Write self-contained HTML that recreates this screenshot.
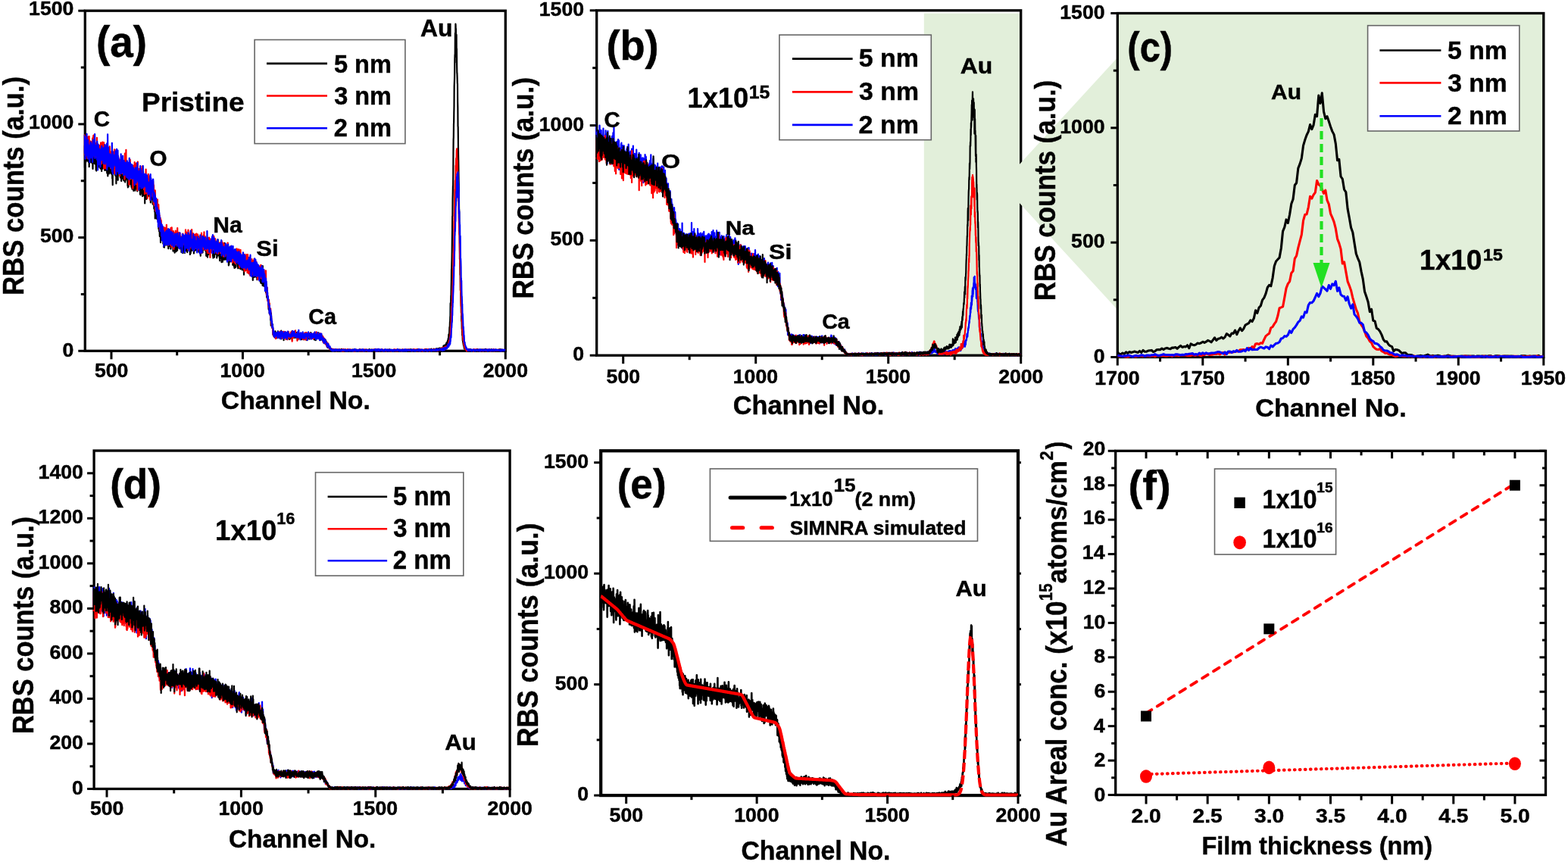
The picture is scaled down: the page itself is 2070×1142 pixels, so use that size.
<!DOCTYPE html>
<html><head><meta charset="utf-8"><title>RBS spectra figure</title>
<style>html,body{margin:0;padding:0;background:#fff;}svg{display:block;}text{stroke:#000;stroke-width:0.45px;}</style>
</head><body>
<svg width="2070" height="1142" viewBox="0 0 2070 1142" font-family="'Liberation Sans', Arial, sans-serif" font-weight="bold" stroke-width="0"><clipPath id="ca"><rect x="110.8" y="13.2" width="556.5" height="452.6"/></clipPath>
<rect x="112.3" y="14.2" width="555.00" height="449.10" fill="none" stroke="#000" stroke-width="3.3"/>
<g clip-path="url(#ca)">
<path transform="matrix(0.17344 0 0 0.299400 -26.450 463.300)" d="M760 -883l1-7 1 15 1 17 1-12 1 15 1-28 1-34 1 49 1 4 1-30 1 4 1 7 1 28 1-24 1-19 1 55 1-24 1 39 1-16 1 15 1-43 1 28 1-41 1 4 1 9 1 62 1-52 1-13 1-4 1 44 1-28 1 14 1-4 1-50 1 50 1-20 1-25 1 40 1-13 1-5 1 1 1 35 1-34 1-34 1 77 1-63 1 19 1 21 1-70 1 33 1 53 1-34 1-13 1 21 1-23 1 20 1-19 1-21 1 57 1-23 1 18 1-16 1 35 1-15 1-10 1-29 1-6 1 65 1-13 1-38 1 70 1-40 1-10 1-35 1 15 1 27 1 2 1-3 1-47 1 52 1-3 1-17 1 13 1 2 1 25 1-29 1 11 1-42 1 14 1 18 1-18 1 27 1-36 1 28 1-16 1 50 1-43 1 54 1 10 1-46 1 16 1-28 1-54 1 81 1-5 1-22 1-7 1 18 1 1 1-24 1 6 1 41 1-25 1-3 1 29 1-34 1 29 1-47 1 20 1 3 1 19 1-13 1 50 1-22 1-39 1 65 1-78 1 69 1-66 1 43 1-43 1 18 1 44 1-73 1-5 1 40 1 6 1-3 1 21 1-54 1 44 1-13 1 20 1-4 1 17 1-66 1 37 1-29 1 25 1 19 1-9 1 6 1-14 1 10 1-2 1 29 1-15 1-64 1 61 1 10 1-36 1-27 1 75 1-33 1 12 1 29 1-64 1 20 1-3 1 22 1-31 1 26 1-10 1 25 1 4 1-67 1 49 1-21 1 9 1 11 1 2 1-30 1 25 1-4 1-4 1-30 1 14 1 8 1 24 1 22 1-60 1 0 1 29 1-18 1-6 1-1 1-2 1 36 1-51 1 72 1-54 1 10 1-10 1-26 1 11 1 68 1 14 1-64 1 48 1-26 1-22 1 65 1 12 1-61 1 6 1 8 1-8 1 24 1 17 1-34 1 21 1 17 1-55 1 15 1-12 1 36 1-8 1 9 1-2 1-28 1 26 1-30 1 1 1-43 1 88 1-58 1 25 1-1 1 37 1-25 1-31 1 22 1-4 1 9 1-36 1 30 1 56 1-38 1 33 1 33 1-69 1-48 1 34 1 31 1-5 1-53 1 25 1 4 1 2 1-1 1-20 1 7 1 9 1 33 1-40 1 31 1-45 1 61 1-28 1-3 1 34 1-78 1 7 1 50 1-31 1 10 1 77 1-73 1 9 1-4 1 30 1-20 1-2 1-34 1 22 1 9 1-39 1 54 1-4 1 37 1-86 1 16 1 1 1 7 1 14 1-2 1 12 1 0 1-7 1-36 1 25 1 16 1 13 1 2 1-56 1 28 1 11 1 11 1 20 1-26 1-24 1 33 1-4 1 0 1-8 1 44 1-34 1 16 1-44 1 43 1-34 1-24 1 47 1 8 1-20 1 6 1 25 1-36 1-39 1 58 1-1 1 21 1-34 1 40 1-3 1-60 1 56 1-50 1-11 1 32 1-7 1-34 1 54 1 10 1 20 1-35 1-35 1 13 1 48 1-2 1-8 1-20 1 13 1-10 1-2 1 16 1-6 1-6 1 8 1-15 1-34 1 33 1 14 1 44 1-52 1 59 1-13 1-56 1 4 1 21 1 40 1-33 1 8 1-33 1-40 1 52 1 25 1 10 1-27 1 3 1 25 1-31 1 31 1-55 1 1 1 0 1 39 1-24 1 17 1 6 1-1 1 25 1 4 1-56 1 25 1-9 1-19 1 68 1-23 1-24 1-5 1 20 1-35 1 21 1 36 1-7 1-43 1 9 1 59 1-80 1 19 1-18 1 43 1-2 1 21 1-90 1 68 1-43 1 55 1-20 1 46 1-31 1-34 1 56 1-57 1 18 1 35 1-13 1-1 1-9 1 12 1 7 1-12 1 18 1 7 1-30 1-23 1 60 1-37 1 16 1 9 1-45 1 34 1-49 1 56 1-28 1 16 1 13 1-33 1 19 1-18 1 16 1 26 1-24 1-3 1-22 1 46 1-21 1 42 1-58 1 43 1 18 1-42 1-28 1 64 1-10 1-8 1 10 1-37 1 30 1-2 1-31 1 33 1-29 1 35 1 6 1 15 1-89 1 53 1-13 1 7 1-4 1 3 1-45 1 72 1 13 1-13 1 8 1-50 1-1 1 44 1 10 1-24 1-42 1 102 1-80 1 39 1-51 1 51 1-18 1 30 1-13 1-56 1 14 1 29 1 12 1 25 1-36 1-8 1 2 1 0 1 26 1-25 1-1 1-31 1-14 1 49 1 15 1-16 1 13 1 4 1-16 1 24 1-40 1 18 1-8 1 10 1 14 1 5 1-16 1 7 1-18 1 6 1 33 1-34 1 34 1-17 1-7 1 42 1-51 1-1 1 8 1 7 1-1 1 15 1-16 1 7 1-14 1 32 1-33 1 4 1 8 1 9 1-21 1 54 1-48 1 8 1 1 1 0 1 27 1-7 1-18 1 7 1 8 1 42 1-45 1-12 1 7 1 20 1 44 1-55 1 27 1 57 1-64 1 45 1-2 1-12 1-41 1 40 1-12 1-30 1 6 1 40 1 6 1 25 1-10 1-23 1 4 1 9 1-17 1 41 1-13 1-15 1 6 1-8 1 17 1 18 1-12 1 32 1 16 1-45 1 16 1-5 1 45 1-26 1 8 1 8 1 32 1-38 1-24 1 14 1 23 1-10 1-14 1 76 1-52 1-12 1 0 1-18 1 14 1 19 1 3 1-7 1 29 1-7 1-17 1-19 1 45 1 0 1-3 1-21 1 29 1-28 1 50 1-14 1 1 1-19 1-4 1 51 1-11 1-25 1 20 1 18 1-51 1 11 1 0 1 19 1-29 1 25 1-26 1 40 1-2 1-20 1 18 1-28 1 9 1 23 1-19 1 8 1-25 1 31 1-4 1-32 1-21 1 5 1 39 1-3 1-26 1 33 1 17 1-22 1-6 1 25 1 16 1-4 1-41 1 28 1-12 1-7 1-8 1 19 1-16 1 27 1-10 1 13 1-42 1 23 1 14 1-8 1-2 1-18 1 45 1-11 1-13 1-57 1 31 1 21 1-16 1-26 1 45 1 3 1-31 1 14 1-3 1 23 1-48 1 4 1 23 1-2 1 53 1-52 1 17 1-13 1-5 1 21 1 26 1-40 1 22 1-8 1 5 1-5 1 39 1-69 1 19 1-17 1-17 1 39 1 36 1-18 1 6 1-13 1-12 1 41 1-46 1 37 1-36 1 8 1 5 1-5 1 9 1 2 1 21 1-33 1-36 1-3 1 13 1 12 1 28 1-42 1 30 1 0 1 5 1-8 1 11 1-7 1 20 1-14 1-52 1 46 1 3 1-15 1-3 1 36 1-18 1-22 1 13 1 3 1-28 1 44 1-15 1 12 1-39 1 67 1-25 1-2 1-24 1 2 1-16 1 58 1-45 1 21 1 7 1-24 1 29 1 23 1-33 1 22 1-17 1-20 1 2 1-25 1 35 1 26 1-15 1 3 1 6 1-32 1 21 1 26 1-52 1 16 1-9 1 5 1-10 1 12 1-24 1 16 1 1 1 0 1 36 1-25 1 2 1-9 1 31 1-59 1 30 1 26 1 10 1-28 1-3 1 12 1-16 1 15 1-23 1 24 1-13 1-19 1-31 1 69 1-10 1 7 1-31 1 38 1-13 1-9 1 19 1-1 1-9 1 32 1-13 1-20 1-11 1 7 1 31 1-26 1-24 1 5 1 12 1 16 1-30 1 24 1 12 1-8 1-43 1 24 1-18 1 32 1-28 1 30 1-9 1-51 1 34 1 24 1-8 1-8 1-17 1 33 1 25 1-28 1-6 1-2 1-23 1 19 1-9 1 37 1-38 1-24 1 26 1 10 1 2 1-32 1 53 1-16 1-11 1-5 1 23 1-14 1 11 1-8 1 5 1 20 1-22 1-17 1 36 1-14 1-18 1 34 1-24 1 24 1-42 1-23 1 6 1 43 1-19 1 13 1 0 1-28 1 56 1-46 1 21 1-28 1 24 1 16 1-18 1-9 1 14 1-9 1 20 1 31 1-58 1 4 1 10 1 2 1-19 1 29 1 5 1-10 1-26 1 49 1-49 1 35 1 9 1-45 1 26 1 23 1-18 1-25 1-5 1 32 1-16 1-6 1 26 1-19 1 7 1 10 1-1 1-10 1 1 1 11 1-3 1-29 1 17 1-13 1-6 1 12 1-32 1 60 1-32 1 22 1-42 1 3 1 71 1-19 1-31 1-3 1 1 1 16 1-10 1-4 1 14 1-21 1 63 1-55 1 32 1-38 1 23 1 12 1-24 1 25 1 0 1 13 1-30 1-10 1-10 1 23 1-23 1 20 1 2 1-13 1-9 1 27 1-2 1-1 1-5 1 19 1-37 1 28 1-17 1 25 1-23 1 0 1 15 1-46 1 31 1-27 1 16 1 31 1-5 1-16 1 8 1 0 1 6 1 30 1-31 1 39 1-50 1 21 1 0 1-9 1-10 1 33 1 6 1-13 1 19 1-20 1-49 1 51 1-33 1 39 1-32 1 12 1-5 1-11 1-23 1 30 1 2 1 21 1-29 1 16 1-20 1 17 1-34 1 71 1-32 1-22 1 24 1 9 1-10 1 22 1-28 1-44 1 25 1 43 1-4 1-9 1-26 1 35 1-3 1-29 1 1 1 23 1 15 1 8 1-16 1 30 1-56 1 26 1-21 1-25 1 13 1 44 1-38 1-5 1 36 1 5 1-16 1 28 1-57 1 73 1-24 1-15 1-1 1-7 1-1 1 9 1-25 1 62 1-40 1 14 1-16 1-1 1 21 1-5 1-26 1 9 1 19 1-50 1-5 1 71 1-33 1-41 1 33 1 11 1 8 1 6 1-5 1 6 1-24 1 22 1 1 1 15 1-22 1 16 1-12 1-23 1 13 1-2 1 3 1 6 1 3 1 4 1-19 1 34 1-44 1 24 1 15 1-5 1 4 1-15 1 17 1-34 1 35 1 28 1-28 1 24 1-36 1-20 1 8 1 37 1-11 1-46 1 27 1 6 1-19 1-25 1 22 1 21 1-3 1-5 1 23 1 8 1-20 1 19 1-16 1-2 1-41 1 58 1-13 1 2 1-11 1-11 1 29 1 6 1 15 1-13 1-26 1 9 1 20 1-11 1-7 1-8 1 20 1-6 1 29 1-12 1-50 1 69 1-33 1-10 1 12 1 8 1-13 1-1 1 2 1 32 1-31 1 14 1-6 1-13 1-7 1-5 1 26 1-25 1-4 1 1 1-5 1 28 1 1 1-17 1 39 1-28 1 14 1-3 1 25 1-15 1-15 1-16 1-1 1 19 1 2 1 12 1-21 1 12 1-15 1-20 1 32 1 26 1-11 1 11 1-4 1-44 1 19 1 32 1-39 1-10 1 29 1 6 1-6 1-10 1-6 1-10 1 0 1 1 1-3 1 13 1 39 1-24 1-8 1 13 1-23 1 23 1 10 1-41 1 14 1 8 1-12 1-2 1 13 1 50 1-31 1-4 1 10 1-21 1-17 1 30 1 12 1-55 1 44 1 14 1-26 1-3 1 20 1-25 1 22 1 8 1-19 1-10 1 25 1-16 1 7 1-50 1 62 1-36 1 25 1 2 1-15 1-2 1-6 1 16 1 17 1-1 1-18 1-1 1-14 1 18 1-11 1-7 1 23 1 29 1-5 1 5 1-52 1 42 1-35 1 11 1-19 1 13 1 19 1 2 1-4 1-2 1 13 1-8 1-28 1 57 1-33 1 20 1-18 1-11 1 16 1-14 1 40 1-45 1 29 1-20 1 8 1 47 1-31 1-16 1-22 1 21 1 1 1 29 1-48 1-6 1 31 1 4 1 24 1-42 1-30 1 34 1-9 1 12 1 26 1-38 1 43 1-17 1-7 1-10 1 8 1 1 1 19 1 10 1-23 1 14 1 10 1 0 1-13 1 23 1-8 1 5 1-30 1-3 1-27 1 59 1-13 1-26 1 19 1 2 1-34 1 35 1 14 1 3 1-27 1 0 1 29 1-6 1-25 1-1 1 21 1-21 1 1 1 40 1-24 1-12 1 17 1 26 1-30 1-17 1-13 1 62 1-78 1 61 1-33 1-4 1 4 1 14 1 22 1-29 1 23 1 30 1-87 1 35 1-18 1 45 1-38 1-1 1 1 1 27 1 20 1-15 1 34 1-7 1-27 1 20 1-11 1 2 1-30 1 13 1 25 1-17 1 35 1-4 1-16 1 37 1-11 1 19 1-18 1-19 1 39 1-11 1 20 1 7 1 4 1-34 1-9 1 30 1 20 1-16 1 18 1-12 1 10 1 4 1-1 1 19 1 2 1 20 1-13 1 16 1-13 1 14 1-10 1 0 1 26 1-4 1 5 1-16 1-8 1 14 1 17 1-17 1 37 1-30 1 27 1 27 1-55 1 15 1 31 1-9 1 8 1 0 1 19 1-4 1-8 1 6 1-5 1 14 1-17 1 30 1-5 1 21 1-3 1-18 1 21 1-10 1 7 1 9 1-4 1 2 1 1 1-9 1 2 1 9 1 3 1-9 1 3 1-8 1-12 1 13 1 7 1 1 1 5 1 0 1 1 1-4 1 0 1-9 1 9 1-2 1 8 1-21 1 8 1-9 1 7 1-5 1 13 1-7 1-15 1 29 1-18 1-4 1 10 1-3 1-4 1 15 1-8 1 9 1-1 1 0 1-4 1-2 1-2 1 14 1-26 1 6 1 4 1 8 1-2 1-5 1 1 1 16 1-19 1-16 1 36 1-21 1 4 1 4 1-11 1 19 1-10 1-10 1 13 1 1 1-4 1 5 1-15 1 18 1-13 1 16 1-15 1 6 1 19 1-20 1 8 1-4 1-15 1 20 1-1 1-18 1 10 1-11 1 9 1 9 1-6 1-10 1 2 1 7 1 0 1 1 1 4 1-19 1 14 1 9 1-5 1-9 1 1 1 6 1 4 1-6 1 13 1-3 1-15 1 9 1-6 1-7 1 5 1 5 1-16 1 11 1 7 1-8 1 3 1 9 1-7 1 2 1 14 1-14 1 1 1 1 1 9 1-9 1-3 1-1 1 9 1-13 1 14 1-7 1-12 1 15 1-1 1-12 1 11 1-1 1-4 1-6 1 25 1-11 1 2 1 0 1-2 1 0 1-8 1 9 1-8 1-2 1 9 1-7 1-11 1 10 1 7 1-4 1 6 1-9 1-4 1 12 1-4 1-10 1 12 1-5 1 9 1-2 1-2 1-20 1 19 1 1 1 0 1-2 1-6 1 3 1-14 1 14 1-9 1 8 1-2 1 15 1-10 1 0 1 1 1 14 1-22 1 9 1 1 1-2 1 0 1-4 1 12 1-3 1-9 1 2 1 3 1 2 1 2 1-6 1-9 1 16 1-18 1 5 1 9 1-9 1 16 1 2 1-3 1-6 1-1 1 2 1-5 1 16 1-19 1 14 1-5 1-2 1 5 1 2 1-3 1-7 1-4 1 0 1 11 1-1 1 1 1-10 1 18 1-24 1 13 1 2 1-8 1-5 1 5 1-6 1 7 1-8 1 0 1 10 1-11 1 9 1 1 1 7 1-5 1-7 1 15 1-15 1 3 1 0 1 18 1-15 1-5 1 10 1-6 1 18 1-23 1 10 1-11 1 20 1-19 1 7 1-7 1 12 1-2 1-21 1 22 1 0 1-4 1 6 1-16 1-4 1 18 1 7 1-21 1 1 1 2 1-3 1 15 1-5 1 9 1 0 1-17 1 11 1-21 1 16 1 5 1-10 1-7 1 9 1 12 1-11 1-7 1 13 1 2 1-13 1 7 1 9 1-5 1 2 1-7 1 1 1-7 1 3 1 16 1-14 1-4 1 4 1-5 1 12 1 3 1-14 1 15 1 7 1-22 1 12 1-3 1 8 1 0 1-2 1-5 1-6 1 20 1-22 1 14 1-1 1-13 1 6 1 10 1-24 1 19 1-8 1 1 1-9 1 13 1-10 1 13 1-14 1 14 1-3 1-16 1 11 1 2 1-16 1 14 1 8 1-11 1 14 1-16 1-1 1 13 1 1 1-6 1 2 1 7 1-11 1 19 1-11 1 0 1-1 1-4 1 11 1-12 1 5 1 4 1 5 1-1 1-10 1 10 1-7 1-6 1 1 1-3 1 14 1 5 1-13 1 6 1-5 1 8 1-7 1 3 1 2 1 2 1 2 1 1 1 1 1-4 1 10 1-12 1 11 1-5 1 7 1 1 1-12 1 14 1 6 1-2 1-2 1-12 1 11 1-3 1 11 1-6 1-1 1-5 1 13 1-6 1 3 1 7 1-4 1 2 1 10 1-13 1 1 1 5 1 5 1-11 1 6 1-3 1 0 1 8 1-4 1 4 1 1 1 0 1 1 1-3 1 4 1 2 1 1 1-1 1 4 1-1 1 0 1 2 1-1 1 2 1-5 1 2 1 2 1 2 1-4 1 4 1 1 1-1 1 0 1-2 1 3 1-4 1 6 1-3 1 3 1-5 1 4 1-1 1-1 1-1 1 4 1-1 1 2 1-3 1 0 1 1 1 0 1 0 1 1 1-3 1-1 1 6 1-3 1 0 1-1 1 2 1-1 1 1 1-3 1 1 1 1 1-1 1 1 1 2 1-4 1 1 1 1 1-2 1-1 1 4 1 0 1-4 1 0 1 4 1 1 1-1 1-1 1 2 1-2 1 2 1 0 1-4 1 3 1-1 1-1 1-1 1 2 1 0 1 1 1-4 1 2 1 2 1-1 1-1 1 0 1-2 1 0 1 4 1-1 1 2 1-3 1 0 1-4 1 5 1 3 1-2 1-1 1 2 1-1 1-1 1-1 1 1 1 1 1-2 1 2 1 0 1 1 1-1 1-2 1 3 1-2 1-1 1 1 1 0 1 2 1-4 1 0 1 2 1 3 1-1 1-4 1-1 1 3 1-2 1 3 1-1 1 0 1-1 1 3 1-3 1-1 1 4 1 0 1-2 1 1 1 2 1-4 1 1 1 1 1-4 1 3 1 1 1-1 1 2 1-1 1-1 1 1 1 0 1-3 1 1 1 0 1 0 1 0 1-1 1 2 1-3 1 5 1-2 1 2 1-1 1-2 1-1 1 3 1-1 1 1 1 0 1 1 1-2 1 3 1-3 1 0 1 1 1 1 1 0 1-5 1 5 1-4 1 1 1 2 1 1 1-3 1-2 1 5 1-1 1-3 1 2 1-3 1 4 1-2 1 3 1-5 1 4 1 2 1-3 1 0 1-3 1 4 1-1 1-1 1-1 1 2 1-1 1 0 1 2 1-1 1 0 1 2 1-4 1 4 1-4 1 1 1 1 1 1 1-1 1-1 1 0 1 1 1-1 1 2 1-1 1 3 1-4 1 1 1 1 1-3 1 1 1 4 1-3 1 2 1-4 1-2 1 5 1-1 1 0 1 0 1-1 1-1 1 4 1-4 1 4 1-2 1-2 1 1 1 3 1-1 1 0 1-1 1-2 1 4 1-3 1 0 1 0 1 0 1-1 1 1 1 0 1 0 1-2 1 6 1-5 1 3 1 0 1 1 1 1 1-2 1 0 1-2 1 3 1-4 1 2 1 0 1 1 1 0 1 1 1-1 1-1 1 0 1 2 1-1 1 0 1-1 1-3 1 2 1 2 1 2 1-1 1 1 1-4 1 2 1-1 1 1 1-1 1-2 1 3 1 0 1 0 1-2 1 3 1 0 1 0 1 0 1-3 1-3 1 6 1-3 1 1 1 2 1-1 1-1 1 1 1-4 1 6 1-3 1 0 1 1 1-1 1-1 1 1 1-1 1 0 1 4 1-5 1-1 1 2 1 0 1 3 1-2 1 1 1 0 1-2 1 2 1-1 1 3 1-3 1 0 1 1 1 0 1-4 1 5 1 0 1-1 1-3 1-1 1 3 1 1 1 0 1-3 1 4 1-4 1 0 1 2 1-1 1 0 1-1 1 4 1-4 1 3 1 0 1-1 1 0 1 2 1 1 1-1 1-4 1-1 1 2 1-1 1 3 1-1 1 0 1 2 1 0 1-2 1 1 1 1 1-2 1 1 1-2 1 1 1 1 1-1 1 0 1 1 1 0 1-2 1 0 1-1 1 5 1-2 1 0 1-1 1 1 1 0 1-2 1 1 1 2 1-4 1 1 1 2 1-2 1 2 1-3 1 2 1 1 1 0 1 0 1-1 1 0 1 0 1 1 1 2 1-3 1 3 1-3 1-2 1 2 1 1 1-1 1 0 1 1 1 0 1 1 1-4 1 2 1-1 1 1 1 0 1 0 1-1 1 0 1 1 1 1 1 0 1-3 1 3 1 0 1-3 1 0 1 1 1 2 1-4 1 3 1-1 1 1 1 2 1 0 1-3 1 1 1 0 1 2 1 0 1-1 1 1 1-3 1-1 1-2 1 3 1 2 1 0 1 2 1-2 1-1 1-1 1 0 1 0 1 1 1-1 1-1 1 4 1-1 1 1 1-4 1 0 1 1 1 3 1-2 1 0 1 0 1 0 1-1 1 2 1-2 1 1 1 1 1-1 1 1 1-2 1 2 1-1 1 1 1 1 1-3 1 3 1-3 1 0 1 4 1-1 1-1 1 0 1 1 1-3 1 1 1 0 1 1 1-1 1 1 1-1 1-1 1 1 1 1 1 1 1-2 1 0 1 1 1 0 1-2 1-3 1 5 1-1 1 0 1 3 1-3 1 1 1-3 1 2 1 1 1-1 1 0 1 1 1-1 1 2 1-2 1-1 1-2 1 2 1 1 1-2 1 1 1-1 1 0 1 2 1 0 1 0 1 0 1 0 1 1 1 2 1-2 1 2 1-3 1 0 1 3 1-4 1 0 1 1 1-2 1-1 1 5 1-3 1 0 1 0 1 0 1 2 1 0 1 0 1 0 1-1 1 2 1 0 1-3 1 1 1 0 1 3 1-2 1 0 1-1 1 1 1-2 1 1 1 0 1 0 1-1 1 2 1-3 1 1 1 1 1 0 1-1 1 0 1 0 1 1 1-1 1 1 1-2 1 2 1 3 1-5 1 2 1 2 1-2 1 1 1-4 1 2 1 4 1-4 1 2 1-4 1 5 1 1 1-3 1 1 1 0 1 2 1-4 1-1 1 5 1-5 1 3 1-5 1 3 1 1 1-2 1 1 1 2 1-2 1 2 1 2 1-6 1 4 1 0 1-1 1 2 1 0 1-1 1 0 1-1 1-2 1 3 1-2 1 0 1 3 1-2 1 2 1-4 1 1 1 1 1 2 1-2 1 1 1-2 1 1 1 1 1-2 1 0 1 2 1-3 1 3 1 0 1-1 1 1 1 0 1-1 1-2 1 0 1 2 1-2 1 2 1-1 1 0 1 1 1-4 1 4 1 2 1-4 1 3 1 0 1 2 1-5 1 1 1 0 1 0 1-2 1 3 1-1 1 2 1 0 1-3 1 1 1 3 1-3 1 1 1 1 1-2 1 2 1 1 1 0 1-5 1 5 1-2 1-1 1 0 1 3 1-2 1 0 1-1 1 2 1 1 1-4 1 0 1 1 1 2 1-2 1 1 1-1 1 3 1-2 1 0 1 2 1-2 1 0 1 1 1-2 1 3 1-2 1-1 1 0 1-1 1 4 1 0 1-3 1 0 1-3 1 3 1 2 1-3 1 3 1 1 1-6 1 3 1 0 1 0 1-2 1 2 1-1 1 3 1 1 1-5 1 0 1 2 1 0 1 0 1 2 1-4 1 1 1 1 1 0 1-1 1 1 1-1 1 3 1-2 1-3 1 4 1 0 1-2 1 0 1 0 1 4 1-4 1 3 1 0 1-3 1 2 1-2 1-4 1 4 1 0 1 3 1-1 1 1 1-1 1 1 1-1 1-1 1 2 1 0 1 0 1-3 1 1 1-2 1 0 1 2 1-2 1 4 1-7 1 2 1 3 1 2 1-3 1 4 1-2 1-3 1 1 1 1 1-3 1 4 1-3 1 2 1 0 1-2 1 3 1-7 1 6 1-6 1 7 1-4 1 4 1 0 1-3 1-2 1 5 1-6 1 4 1-2 1-1 1 0 1 5 1-8 1 3 1 2 1 1 1 2 1-1 1-5 1 2 1 2 1-2 1-5 1 4 1 1 1-5 1 2 1 1 1 1 1 3 1-1 1-2 1-1 1-2 1-1 1 1 1 0 1 3 1 3 1-5 1 1 1-1 1-1 1 2 1 0 1-4 1-1 1 3 1-5 1 2 1 3 1-4 1-7 1 9 1-7 1-1 1-1 1 8 1-11 1 7 1 1 1-1 1-4 1 2 1 0 1-6 1 8 1 0 1-8 1 0 1-3 1 9 1-10 1 2 1-7 1 13 1-7 1 1 1 5 1-5 1-11 1 7 1 0 1-10 1-3 1-2 1 8 1-6 1-10 1 8 1-3 1-14 1-9 1 15 1 6 1-14 1-9 1-14 1-15 1-1 1-4 1-19 1 1 1-22 1-6 1-55 1 7 1 4 1-16 1-28 1-3 1-36 1-24 1-53 1-5 1-23 1-20 1-34 1-55 1-33 1-65 1 1 1-77 1-22 1-35 1 9 1-59 1-95 1-60 1-10 1-58 1-8 1-41 1-30 1-87 1-17 1-17 1-29 1-58 1-20 1 12 1-106 1 29 1-7 1-63 1 6 1 31 1-16 1 61 1-3 1 68 1-99 1 123 1-62 1 74 1 33 1 5 1 18 1 24 1 1 1 81 1 23 1 83 1 3 1 57 1 59 1 32 1 40 1 35 1 36 1 62 1 45 1 5 1 91 1 13 1-8 1 117 1-7 1 6 1 70 1-42 1 110 1-37 1 22 1 32 1 37 1 12 1 33 1-4 1 37 1 5 1 0 1 32 1 4 1 5 1 21 1-11 1 14 1 19 1-4 1 10 1 3 1 0 1 8 1-5 1 11 1-5 1 7 1-1 1 7 1 1 1 4 1-5 1 0 1-3 1 4 1 4 1 2 1-1 1 1 1-3 1 2 1 4 1 0 1-4 1 2 1 2 1-3 1 3 1 0 1 1 1 3 1-6 1 5 1-2 1 1 1-3 1 2 1 0 1 3 1-3 1 2 1-3 1 0 1 1 1-4 1 3 1 0 1 1 1 0 1-2 1 0 1 5 1-5 1 1 1 0 1 1 1 3 1-1 1-5 1 3 1 3 1-3 1 1 1 3 1 0 1-1 1-3 1 1 1 0 1-1 1 0 1 4 1-3 1 1 1 1 1-1 1-1 1 0 1 2 1-1 1-4 1 5 1 1 1-4 1 0 1 0 1 3 1-4 1 3 1 1 1-1 1-1 1-1 1 0 1 1 1-1 1 1 1-1 1 3 1 0 1-3 1 3 1-2 1 0 1 1 1 0 1-3 1 5 1-4 1-3 1 4 1 0 1-1 1-2 1 5 1-2 1 0 1-1 1 1 1-1 1 2 1-1 1 1 1 0 1-1 1 0 1 2 1-4 1 2 1 2 1-4 1 3 1-2 1 1 1 0 1 0 1 1 1-1 1-3 1 6 1-3 1-1 1 3 1 0 1-5 1 4 1-4 1 2 1 1 1-1 1 0 1-1 1 1 1 1 1 0 1-2 1 1 1 3 1-1 1-1 1 1 1 0 1 1 1-2 1-1 1 0 1 1 1-3 1 3 1-5 1 4 1 0 1 2 1 2 1-3 1 0 1-3 1 5 1-5 1 3 1-1 1 4 1-3 1 1 1-2 1 1 1 2 1-3 1 0 1 0 1 0 1-1 1 2 1 2 1 0 1-4 1 1 1 1 1 1 1-1 1 0 1 1 1 0 1-4 1 3 1 1 1 1 1-1 1-2 1 0 1 1 1 0 1 1 1 1 1-4 1 2 1-4 1 5 1-1 1-1 1 1 1 2 1 0 1-2 1 0 1 0 1-1 1 0 1 1 1 0 1 0 1-1 1 0 1 1 1-1 1 2 1 1 1 0 1-3 1 0 1-1 1 2 1-1 1-1 1 1 1 2 1-1 1 0 1 2 1-3 1 0 1 2 1-4 1 4 1-1 1 0 1 1 1-2 1 1 1-2 1 1 1 0 1 1 1 2 1-2 1 1 1-2 1 1 1-2 1 1 1 0 1 1 1 0 1-1 1 0 1 2 1-2 1-3 1 4 1 0 1 1 1 1 1-4 1 2 1 0 1-3 1-1 1 5 1-3 1 1 1 0 1 0 1 1 1-2 1 1 1 1 1-2 1 1 1 0 1 1 1-3 1 2 1 1 1 1 1 0 1 1 1-2 1 0 1 3 1-3 1-1 1 1 1 2 1-4 1 3 1 1 1 0 1-2 1-1 1-1 1 2 1 2 1-1 1 0" fill="none" stroke="#000" stroke-width="2.2" stroke-linejoin="round" vector-effect="non-scaling-stroke"/>
<path transform="matrix(0.17344 0 0 0.299400 -26.450 463.300)" d="M760 -913l1 43 1-51 1-14 1 22 1-17 1 38 1 15 1-22 1-49 1 4 1 41 1-45 1 41 1-49 1 28 1 26 1-34 1 43 1 5 1 14 1-46 1 8 1 1 1 10 1-50 1 50 1 9 1-53 1-5 1 30 1 56 1-30 1-33 1 16 1-41 1 80 1-56 1 36 1-53 1 38 1-29 1 46 1 20 1-7 1-14 1 12 1-60 1-4 1 30 1 35 1-24 1 15 1-57 1 31 1-5 1 25 1 44 1-34 1 10 1-40 1 8 1 24 1-11 1-52 1 68 1 0 1-19 1 13 1-7 1-25 1-32 1 95 1-48 1-1 1 4 1 3 1 4 1-36 1 40 1-9 1-3 1-2 1 7 1-31 1 28 1-5 1 6 1 26 1-4 1 6 1-33 1 24 1 10 1-35 1-7 1 62 1-93 1 45 1 4 1-31 1 27 1 18 1-74 1 88 1-26 1-25 1 51 1-25 1-13 1-54 1 89 1-23 1-18 1 15 1 35 1-43 1 9 1-9 1-18 1 3 1 17 1 3 1 38 1-26 1-9 1 17 1-13 1 25 1-63 1-16 1 68 1-21 1 17 1-39 1 22 1 10 1 8 1-9 1 30 1-44 1 37 1-33 1 11 1-25 1 30 1-27 1 52 1-41 1 23 1-11 1 3 1-22 1 79 1-63 1 49 1-71 1 84 1-25 1 18 1-88 1 78 1-37 1 18 1 34 1-39 1-26 1 23 1-30 1 35 1-10 1 11 1-19 1-41 1 41 1 5 1 22 1 4 1-59 1 69 1-5 1-22 1 9 1-62 1 114 1-72 1-9 1 49 1-12 1-28 1-32 1 68 1 18 1-67 1-15 1 50 1 50 1-97 1 44 1-35 1 31 1 9 1 3 1-51 1 2 1 94 1-31 1-72 1 57 1 27 1-36 1 3 1 0 1 11 1-5 1 5 1-21 1 31 1-14 1-3 1-38 1 24 1 13 1-16 1 3 1-17 1 15 1-33 1 12 1 37 1 10 1-34 1 10 1 16 1 37 1 9 1-57 1-10 1-1 1 55 1-60 1 41 1-24 1 0 1 32 1-5 1 39 1-30 1 23 1-58 1 10 1-22 1 15 1 27 1-26 1 20 1-26 1 8 1 35 1-26 1-1 1 10 1-31 1-21 1 55 1 0 1 50 1-55 1 8 1 46 1-64 1-7 1 35 1-9 1 16 1-45 1 60 1-31 1-59 1 50 1-10 1 16 1 27 1-29 1-11 1 38 1-36 1-23 1 5 1 70 1-16 1 17 1-69 1 12 1-2 1 42 1 8 1-32 1 0 1 25 1-26 1-12 1 11 1 33 1 28 1-47 1-11 1 12 1 4 1 8 1-36 1 20 1-4 1 28 1-8 1-20 1 31 1 6 1-23 1-39 1 26 1-32 1 41 1 5 1 29 1-21 1-51 1 29 1-10 1 1 1 19 1 5 1-8 1-14 1 6 1 0 1 9 1 24 1-13 1 18 1-49 1 80 1-48 1-66 1 70 1 21 1-29 1-33 1 38 1-20 1 14 1 12 1-89 1 79 1 16 1-1 1-22 1 0 1-9 1 17 1 40 1-50 1 22 1 0 1 31 1-23 1 5 1-18 1 37 1-38 1-1 1 32 1-13 1 7 1-45 1 88 1-55 1 34 1-31 1-32 1 38 1-19 1 25 1-70 1 26 1-5 1 63 1-5 1-55 1 32 1 2 1-14 1 40 1-50 1 19 1-11 1 29 1-29 1 31 1-42 1-4 1 6 1 11 1-3 1 85 1-89 1 28 1-9 1 10 1 29 1-21 1-30 1-19 1 52 1 7 1-58 1 59 1-74 1 51 1 24 1-47 1-17 1 79 1-75 1 47 1-44 1 47 1 31 1-52 1-10 1-29 1 9 1 27 1 23 1 8 1-5 1 13 1-13 1 57 1-68 1 6 1-64 1 45 1 32 1-26 1 45 1-15 1 32 1-82 1 21 1 45 1-28 1-24 1 11 1 4 1 31 1-5 1-18 1-20 1 44 1 7 1-55 1 51 1-49 1 21 1-15 1-21 1 26 1-1 1 42 1-5 1-33 1-22 1 4 1-22 1 50 1 3 1-19 1 24 1 3 1 25 1-50 1 51 1-39 1 48 1-61 1 53 1-46 1 60 1-28 1-39 1 49 1-21 1 14 1 45 1-64 1-2 1 38 1-41 1 34 1 6 1-25 1 17 1-72 1 95 1-56 1-6 1 73 1-5 1-56 1 26 1-21 1-18 1 37 1 18 1 41 1-72 1 28 1-30 1 3 1 40 1-76 1 16 1 6 1 50 1-18 1 3 1-2 1 17 1-38 1 6 1-3 1 21 1-43 1 27 1 72 1-51 1-14 1-24 1 31 1-1 1 10 1-32 1 28 1 4 1 4 1-30 1 27 1 29 1-55 1 34 1-24 1 1 1-18 1 6 1 41 1-7 1 29 1-69 1 32 1-20 1 44 1 43 1-82 1 37 1 1 1 5 1-11 1 5 1 52 1-60 1 41 1 1 1-49 1 22 1 32 1 37 1-44 1-6 1 17 1 30 1-8 1 13 1-31 1-11 1-2 1 42 1-19 1-4 1 26 1-5 1-49 1 46 1-13 1 32 1-7 1 41 1-35 1-24 1-17 1 22 1 14 1 17 1 17 1-7 1-15 1 33 1-34 1 44 1 20 1-14 1 16 1-4 1-50 1 31 1-7 1-17 1 1 1 40 1-36 1 22 1 11 1-7 1 42 1-11 1-12 1-12 1 23 1-3 1-20 1-7 1 15 1-8 1 36 1-1 1-11 1 13 1 5 1-43 1 39 1 16 1-30 1-27 1 36 1-23 1 34 1 1 1 4 1-11 1-40 1 61 1-56 1 53 1-15 1-22 1 4 1 8 1 39 1-41 1 28 1-72 1 56 1-8 1 27 1-13 1 16 1-45 1 25 1-17 1 26 1-4 1-36 1 46 1 17 1-45 1 31 1-14 1-27 1 35 1-34 1 32 1-44 1 3 1 37 1-5 1 12 1-20 1-19 1 52 1-48 1 46 1-10 1 19 1-78 1 41 1-3 1 18 1-35 1 64 1-43 1-43 1 52 1-8 1-13 1 30 1-17 1-19 1 16 1-4 1 15 1-13 1 5 1-28 1 15 1 19 1 45 1-64 1 0 1 33 1 22 1-17 1-41 1 40 1-12 1-14 1-20 1 25 1 2 1 9 1-44 1 12 1 23 1 26 1-12 1-27 1 26 1-32 1 11 1 1 1-7 1 3 1 28 1-11 1-53 1 71 1-15 1-30 1 24 1 13 1 11 1-37 1-10 1-7 1 27 1-20 1 42 1-24 1 17 1-17 1-12 1-6 1 41 1-45 1 35 1 11 1-17 1 26 1-29 1-5 1 9 1-14 1 17 1-6 1 29 1-30 1 18 1-8 1-7 1-5 1 36 1-1 1-25 1-16 1 3 1-11 1-8 1 16 1 11 1 20 1-2 1-9 1-15 1 2 1 4 1 3 1-15 1 8 1-1 1-1 1 18 1 9 1-30 1 2 1 12 1 4 1-53 1 61 1-11 1-10 1 29 1-25 1-34 1 18 1 6 1 1 1 9 1-17 1 23 1 5 1-10 1-16 1 11 1-6 1 53 1-63 1-23 1 20 1 33 1 11 1-23 1 26 1-34 1 25 1-30 1-8 1 68 1-46 1 20 1 14 1-16 1-8 1-24 1 50 1-51 1-19 1 29 1 1 1 11 1 23 1-34 1 3 1-7 1-36 1 37 1 6 1-23 1 58 1-4 1-15 1 6 1-27 1 20 1-41 1 5 1 15 1 23 1-20 1-4 1 37 1-28 1-7 1 10 1-26 1 7 1 40 1-19 1 19 1-27 1 28 1-35 1 11 1-12 1 22 1 26 1-63 1 38 1-30 1 18 1-4 1-23 1 29 1-21 1 57 1-46 1 22 1-2 1-3 1-6 1-26 1 69 1-37 1 15 1-37 1 31 1-17 1 17 1-21 1-7 1 28 1-8 1 29 1-34 1-11 1 28 1-33 1 63 1-4 1-9 1-18 1-10 1 2 1 0 1-16 1 24 1 16 1-1 1-66 1 88 1-42 1-33 1 20 1 26 1-17 1-17 1-6 1 41 1-32 1 10 1-17 1-5 1 34 1 22 1-37 1-27 1 22 1 9 1-43 1 68 1-38 1 29 1-12 1-1 1-28 1 48 1-7 1 20 1-40 1 18 1-17 1 30 1-14 1-28 1 24 1-15 1 2 1 17 1 24 1-50 1 16 1-16 1 59 1-7 1 10 1-25 1-38 1 10 1 12 1-4 1-12 1 21 1-14 1 6 1 45 1-35 1-34 1 34 1-5 1 10 1-3 1-31 1 27 1 15 1 41 1-50 1 28 1-3 1-51 1 2 1 51 1-54 1 8 1 24 1-29 1 46 1-8 1 4 1-6 1-39 1 43 1-3 1-4 1-22 1 10 1-23 1 31 1 11 1-15 1-11 1 19 1-23 1-30 1 47 1-12 1-26 1 40 1 4 1 5 1-29 1-3 1 14 1-4 1-24 1 9 1 44 1-27 1-2 1-11 1 18 1 9 1-3 1 26 1-34 1 11 1-20 1 29 1-11 1 11 1 2 1-34 1 23 1-17 1 30 1-23 1 35 1-23 1 1 1-21 1 8 1 8 1-20 1 13 1-6 1-4 1 16 1 5 1-12 1 15 1-15 1-14 1 6 1 24 1 17 1-23 1 2 1-24 1 29 1-3 1-17 1 23 1-6 1-35 1 4 1 17 1 7 1 24 1-28 1 10 1-3 1 14 1-9 1 3 1-9 1-21 1 21 1 39 1-13 1 12 1-15 1-25 1 3 1 20 1-16 1 19 1 13 1 0 1-10 1-43 1 53 1-49 1-1 1 29 1-2 1 11 1-11 1-12 1 12 1-18 1-3 1 16 1 0 1 8 1-7 1 28 1-29 1 4 1 21 1-56 1 59 1-2 1-21 1 42 1-21 1 14 1-11 1-15 1-8 1-14 1 6 1-7 1 11 1 20 1-29 1 30 1 3 1-40 1 15 1 11 1-10 1-2 1 42 1-23 1 20 1-24 1 15 1-37 1 16 1 25 1-14 1 22 1-23 1-9 1 6 1 41 1-29 1-16 1 4 1-15 1 46 1-33 1 22 1-16 1-3 1-5 1 24 1-14 1 25 1 5 1-36 1 12 1 29 1-14 1-15 1-28 1 9 1 5 1 48 1-31 1-10 1 2 1 0 1 12 1-36 1 6 1 29 1 17 1-56 1 48 1-31 1-13 1 53 1-23 1 12 1-15 1 4 1-29 1 25 1 11 1-20 1 26 1 2 1-47 1 56 1-6 1-9 1 20 1 19 1-57 1 34 1-4 1-3 1 12 1 2 1-22 1-40 1 30 1 0 1 41 1-26 1 21 1-35 1 19 1-5 1 3 1 9 1 17 1-37 1 35 1-3 1-15 1 7 1-17 1-13 1 14 1 2 1 3 1-15 1 49 1-39 1 24 1 5 1-21 1 7 1-17 1-9 1 62 1-40 1-36 1 20 1-10 1 24 1 28 1-5 1-33 1-4 1 31 1-8 1-9 1 36 1-25 1-34 1-10 1 41 1-34 1 42 1 6 1 25 1-56 1 24 1-48 1 36 1 3 1 36 1-58 1 33 1-3 1 36 1-55 1-1 1 29 1-12 1-5 1-10 1 16 1-28 1 35 1 6 1-2 1 37 1-30 1-31 1 13 1 19 1-20 1 42 1-30 1-14 1-3 1 26 1-29 1-16 1 40 1-19 1 40 1 7 1-44 1 10 1-2 1 14 1-5 1-19 1-15 1 34 1 25 1-50 1 12 1-1 1 9 1-37 1 39 1-7 1 41 1-22 1 3 1-11 1-6 1 19 1-42 1 48 1-10 1-12 1 26 1-31 1 0 1 16 1-37 1 31 1-3 1 22 1 12 1-17 1-5 1 2 1-20 1 54 1-21 1 12 1-53 1 32 1 0 1 10 1-33 1 22 1-10 1 38 1-54 1 14 1-2 1-12 1 25 1 0 1-15 1 6 1 11 1-4 1 9 1-20 1-3 1 16 1-31 1 58 1-22 1-32 1 36 1 20 1-50 1 15 1 30 1-33 1 31 1 5 1-19 1 6 1 11 1-12 1 11 1-17 1 2 1-12 1 21 1 15 1 1 1-16 1-28 1 13 1 26 1-23 1 36 1-32 1 25 1-15 1 6 1 17 1-6 1 26 1-12 1-15 1-42 1 56 1 13 1 20 1-27 1 44 1-9 1-14 1 27 1-36 1 10 1 27 1 4 1 14 1 5 1-22 1 1 1 8 1 5 1 14 1-8 1 28 1-16 1-16 1 6 1 27 1 2 1-18 1-1 1 44 1-9 1-5 1-8 1 28 1-13 1 14 1-27 1 26 1 10 1 6 1-11 1 8 1 22 1-10 1 20 1-3 1 9 1 4 1-3 1 7 1-11 1 1 1 13 1 12 1-14 1 27 1 2 1-19 1 3 1 0 1 11 1 10 1-4 1-7 1 11 1 0 1 6 1-2 1-15 1 3 1 13 1-1 1-4 1-8 1 13 1-7 1 14 1-6 1-13 1-4 1 16 1-3 1-12 1 9 1 1 1-8 1 3 1-7 1 2 1 11 1-4 1 0 1 10 1-3 1-15 1 19 1-19 1 5 1 4 1-6 1 1 1-6 1 13 1-2 1 0 1-16 1 7 1 15 1-5 1 3 1-5 1-2 1-16 1 31 1-21 1 4 1 9 1-4 1 2 1-4 1-7 1 19 1-21 1 13 1-15 1 9 1-7 1 6 1-4 1 7 1 7 1-11 1-1 1-10 1 31 1-14 1-9 1 17 1-7 1-18 1 5 1 18 1-18 1 2 1 3 1 3 1 1 1 9 1-3 1-10 1 5 1-13 1 17 1 15 1-15 1-5 1-1 1 3 1 6 1-17 1 16 1-10 1 7 1 7 1-19 1 29 1-12 1-10 1 6 1-8 1 6 1 3 1-20 1 18 1-1 1 7 1-2 1-11 1 1 1 4 1 6 1-11 1 18 1-10 1-1 1 5 1-8 1 6 1 1 1-19 1 8 1-4 1 9 1-7 1 2 1-4 1-8 1 19 1-4 1 3 1 26 1-16 1-11 1-4 1 9 1-13 1-1 1 13 1-14 1-3 1 10 1 11 1-18 1 12 1 1 1-3 1 5 1-12 1 2 1-3 1 4 1 11 1-5 1-8 1 10 1-25 1 23 1 3 1-13 1 3 1 6 1 1 1-4 1-3 1 0 1 8 1-5 1-3 1 0 1 29 1-17 1 0 1-4 1-3 1-6 1 2 1 6 1-1 1-13 1 17 1-6 1-10 1 9 1 18 1-18 1 6 1-2 1-9 1 5 1 5 1-9 1 4 1 2 1-1 1 0 1 5 1 1 1-4 1 7 1 2 1-18 1 11 1-2 1 1 1-1 1 0 1 0 1 6 1-13 1 12 1-12 1 22 1-7 1-15 1 8 1 4 1-7 1 10 1-8 1 17 1-13 1 1 1-9 1-2 1 13 1-18 1 16 1 11 1 2 1-29 1 12 1 4 1 1 1 3 1-18 1 10 1-14 1 15 1 16 1-24 1 9 1-1 1-13 1 14 1-11 1 9 1 5 1-9 1 8 1-13 1 2 1 6 1-4 1 1 1 6 1-9 1 9 1-7 1 12 1-8 1-2 1 9 1-3 1 1 1-9 1 10 1-8 1-8 1 8 1 15 1-13 1-7 1 10 1-10 1 3 1 2 1 5 1 2 1-2 1-2 1-4 1 1 1 5 1-2 1-3 1 15 1-6 1 0 1-4 1 0 1 0 1 5 1-12 1 3 1 14 1-12 1 8 1-20 1 16 1-1 1-3 1 2 1-1 1-12 1 10 1-5 1-2 1 15 1-19 1 7 1-2 1 14 1-13 1 3 1 7 1-20 1 12 1 6 1-3 1-5 1-2 1 4 1-4 1-2 1 20 1-6 1 3 1-7 1-10 1 6 1 12 1-5 1-10 1 12 1-3 1-3 1 15 1-18 1 3 1-1 1 11 1-1 1-1 1-6 1 1 1 0 1-12 1 4 1 15 1 0 1-17 1 15 1-12 1-1 1 16 1-2 1-2 1 7 1 2 1-3 1-8 1 9 1-1 1 3 1 7 1-18 1 25 1-10 1-7 1 13 1-12 1-3 1 14 1-6 1 9 1-9 1 3 1 0 1-6 1 7 1-5 1 5 1 12 1-8 1 0 1 11 1-14 1 7 1-1 1 8 1-4 1-1 1 4 1-1 1 12 1-17 1 13 1 6 1-5 1 0 1-6 1 8 1-5 1 6 1-12 1 7 1-5 1 14 1-6 1 7 1-5 1 0 1 9 1-1 1 1 1 2 1-2 1 1 1 3 1-4 1-1 1 6 1-1 1-1 1 1 1 2 1-3 1 0 1 1 1 2 1-4 1 1 1 4 1 0 1-2 1 3 1-2 1 1 1 1 1-1 1 3 1-2 1 3 1-8 1 1 1 1 1 2 1-2 1 0 1 0 1 1 1 3 1-3 1 2 1 1 1 0 1-3 1-1 1 5 1-6 1 1 1 3 1 0 1-1 1-1 1 2 1 1 1-2 1 4 1-4 1-2 1 2 1-1 1 0 1 0 1 1 1 2 1-1 1 0 1-3 1 0 1 2 1 2 1 0 1-1 1-3 1 2 1 1 1 1 1-3 1 1 1 1 1-1 1-2 1 3 1-3 1 0 1 2 1-1 1 2 1 1 1-1 1 1 1-2 1 1 1-1 1-1 1 5 1-4 1 4 1-4 1 2 1-2 1-2 1 5 1-3 1 1 1 3 1-4 1 1 1 1 1 0 1-6 1 5 1 3 1-2 1-1 1 0 1 0 1 1 1-2 1 2 1 1 1-1 1-1 1-2 1 1 1 1 1 0 1 0 1-3 1 4 1-2 1 0 1 2 1-1 1 0 1 1 1-2 1-1 1 0 1 2 1 0 1-4 1 6 1-2 1-1 1 1 1-1 1 1 1-1 1-1 1 2 1 0 1 0 1 1 1-1 1 2 1-3 1-2 1 0 1 1 1 3 1-3 1 3 1-1 1-3 1 5 1-3 1 1 1 0 1 1 1-2 1 2 1-3 1 0 1 4 1-1 1-1 1 2 1 0 1-2 1 0 1 3 1-2 1-2 1 3 1-1 1-3 1 0 1 5 1-1 1-3 1 3 1-2 1 1 1-2 1 4 1 0 1-1 1-4 1 2 1 3 1-4 1 0 1 1 1 1 1-2 1-1 1 2 1-1 1 1 1 1 1 0 1-1 1 0 1 0 1-1 1 0 1 0 1 3 1-3 1 2 1 0 1 0 1-3 1 1 1 2 1 1 1-2 1 1 1-4 1 5 1 1 1-3 1 0 1 0 1-1 1-2 1 4 1 0 1 2 1-3 1-1 1 1 1-2 1 2 1-2 1 1 1 3 1-1 1 1 1 1 1-3 1-1 1-2 1 3 1 0 1 2 1-4 1 1 1 2 1-2 1 0 1 4 1-4 1 1 1 1 1 0 1-4 1 1 1-1 1 5 1-1 1-2 1 3 1-1 1 2 1-6 1 1 1 1 1 1 1 1 1 0 1-2 1 2 1-3 1 3 1 0 1-3 1 2 1-1 1 2 1 2 1-4 1 3 1-4 1 4 1 1 1-3 1-1 1 1 1 2 1-3 1 3 1-1 1 0 1 0 1-2 1 2 1-2 1 0 1 4 1-1 1-1 1 0 1-1 1 3 1-4 1 0 1 1 1 2 1-2 1 1 1-2 1 1 1-1 1 2 1-3 1 5 1-1 1-3 1 3 1-3 1 3 1-2 1 1 1 0 1-1 1 0 1 1 1-4 1 3 1 2 1-3 1 0 1-1 1-1 1 4 1-3 1 0 1 2 1 0 1 3 1-2 1-4 1 6 1-2 1-1 1-1 1-2 1 6 1-3 1-1 1 3 1-2 1-3 1 1 1 1 1 4 1-3 1-1 1 1 1 0 1-5 1 5 1 2 1-2 1 0 1 0 1 0 1-1 1 1 1 2 1-2 1-1 1 2 1-3 1 1 1 3 1-3 1-2 1 1 1 2 1-1 1 2 1 1 1-3 1 1 1-1 1 1 1-1 1 2 1-2 1 0 1 1 1-1 1 4 1-2 1-3 1-1 1 3 1 0 1 2 1-3 1 0 1 3 1-3 1 0 1 0 1 3 1-3 1 3 1-4 1 2 1 2 1-4 1 0 1 3 1-4 1 5 1-3 1-1 1 5 1-5 1 2 1 0 1 2 1-3 1 3 1 0 1-1 1 1 1-4 1 4 1-1 1-1 1 0 1-1 1 0 1 1 1 1 1-1 1-1 1 0 1 2 1 2 1-6 1 2 1 1 1-1 1 2 1 1 1-1 1-1 1 1 1 1 1-2 1-1 1 2 1-1 1 3 1-3 1 0 1 2 1 1 1-4 1 2 1-2 1 2 1-2 1 2 1 1 1-2 1 1 1-2 1 2 1 0 1-2 1-1 1 1 1-1 1 1 1 0 1 0 1 0 1 1 1 0 1-4 1 4 1 0 1 1 1-1 1 0 1 2 1 1 1-3 1 2 1-2 1 0 1-2 1-1 1 2 1 2 1 1 1-1 1-1 1 3 1-3 1 0 1-1 1 2 1-1 1 1 1 0 1 2 1-3 1-2 1 2 1-1 1 3 1-4 1 3 1-2 1 1 1 1 1-3 1 2 1 0 1-1 1 1 1 1 1-2 1 2 1-1 1 1 1 1 1-1 1 0 1-1 1-2 1 5 1-3 1 3 1-1 1-1 1 2 1 0 1-3 1 0 1 0 1 1 1-4 1 3 1 1 1-4 1 2 1 2 1-3 1 2 1-1 1 1 1 2 1-4 1 2 1 2 1-1 1-3 1 3 1-1 1-1 1 1 1 2 1-3 1 0 1 0 1-2 1 2 1 0 1-1 1 2 1-3 1 0 1 2 1-2 1 2 1 2 1-3 1 1 1 0 1 1 1-2 1 1 1 2 1-2 1 0 1 2 1 0 1 0 1 0 1-2 1-1 1-1 1 1 1 0 1 0 1 0 1 3 1-2 1 0 1 1 1 1 1 0 1-1 1 2 1-3 1 1 1 0 1-1 1 0 1 2 1-1 1 2 1 1 1 0 1-5 1 5 1-4 1-1 1 3 1-4 1 0 1 1 1-2 1 3 1 2 1-2 1 2 1 1 1 0 1-6 1 5 1-1 1 1 1-1 1 0 1 1 1 1 1 0 1-1 1-2 1-2 1 1 1-1 1 2 1 1 1 2 1-2 1 3 1-3 1-3 1 2 1-1 1 3 1 1 1-1 1 0 1-3 1-1 1 4 1-1 1 0 1 0 1 2 1-2 1-1 1 0 1 3 1-2 1 3 1-5 1 4 1-2 1 1 1 0 1 1 1 1 1-6 1 2 1 0 1-2 1 3 1-1 1 1 1-2 1 1 1 0 1 1 1-1 1-1 1 5 1-3 1 1 1-1 1 3 1-4 1 2 1-1 1 1 1 1 1-1 1 2 1-2 1-1 1 0 1 0 1 0 1-4 1 3 1 3 1-1 1 0 1-1 1 1 1 0 1-4 1 3 1 0 1 0 1 0 1-2 1 1 1-1 1 5 1-4 1-1 1-1 1 3 1 2 1-3 1 2 1 2 1-2 1-3 1 0 1 1 1 2 1-5 1 6 1-2 1 2 1-5 1 2 1-1 1 1 1 1 1-1 1 4 1-5 1 0 1 2 1 0 1-1 1-2 1 2 1 0 1 1 1 2 1-2 1-1 1 1 1-1 1-1 1 1 1 0 1-1 1 1 1 0 1-1 1 4 1-5 1 4 1-3 1 1 1-2 1 2 1 2 1-4 1 2 1 0 1 0 1-2 1 1 1 1 1 3 1-2 1-1 1-3 1 2 1 1 1-2 1 2 1 0 1-1 1 3 1-4 1 1 1 1 1 2 1-3 1-2 1 4 1 0 1-3 1 4 1 2 1-4 1 0 1 0 1 0 1-2 1 1 1 1 1 0 1-3 1 0 1 0 1 0 1 7 1-4 1-1 1-1 1 4 1-7 1 2 1 2 1-2 1 1 1 1 1-3 1 2 1 3 1-2 1-2 1 3 1-6 1 5 1-7 1 2 1 5 1-3 1-3 1 4 1 2 1-4 1-5 1 9 1-5 1 1 1 0 1 1 1 0 1-4 1 1 1 4 1-8 1 8 1-5 1 1 1-3 1 2 1-3 1 3 1-3 1 2 1-6 1 9 1-7 1 2 1 1 1 2 1-4 1 6 1 0 1-8 1 8 1-11 1 5 1-2 1 0 1-2 1 2 1 0 1-2 1-5 1-2 1-1 1 2 1 2 1 5 1-12 1-2 1 4 1-8 1-5 1 4 1-8 1 2 1 9 1-11 1-4 1-11 1 5 1-8 1-1 1-13 1-8 1-15 1-6 1-3 1-10 1-9 1-11 1-27 1 33 1-39 1-20 1-26 1 14 1-36 1-25 1 0 1 4 1-44 1-6 1-52 1 4 1-70 1 6 1-5 1-30 1-12 1-54 1-47 1 11 1-49 1 18 1-52 1-69 1 65 1-84 1-19 1 55 1-29 1-28 1-64 1 22 1-19 1-34 1 6 1-10 1 9 1-42 1 53 1-60 1 59 1 20 1-28 1 16 1 75 1-42 1 55 1 4 1-22 1 59 1-9 1 39 1-32 1 70 1 47 1 21 1 19 1 2 1 27 1 5 1 40 1 24 1 20 1 31 1 16 1 13 1 22 1 42 1 39 1 4 1 2 1 56 1-11 1 4 1 28 1 21 1-20 1 18 1 29 1-4 1 11 1 32 1-24 1 39 1 2 1 13 1-3 1 16 1-4 1-1 1 9 1 7 1-6 1 16 1-6 1 8 1 1 1 3 1 1 1 2 1 4 1 1 1-2 1 3 1 4 1-1 1 1 1-1 1 0 1 0 1 2 1-1 1 4 1 3 1-6 1 4 1-1 1 0 1-3 1 4 1-3 1 1 1 2 1 1 1-4 1 0 1-1 1-1 1 2 1 0 1 1 1 0 1 1 1 1 1-5 1 6 1-3 1 0 1 0 1 2 1-1 1 0 1 1 1-1 1 0 1 0 1-2 1 3 1-2 1 2 1-2 1 1 1-1 1 2 1 0 1 0 1-2 1-1 1 0 1 3 1-1 1 2 1 1 1-2 1 0 1 1 1 1 1-4 1 2 1 2 1-7 1 4 1 0 1-1 1 2 1-4 1 5 1 0 1-2 1 1 1-3 1 4 1-1 1-1 1-1 1-1 1 1 1-3 1 5 1-1 1-1 1 1 1 0 1 1 1 0 1 1 1-1 1 1 1-3 1 3 1-5 1 0 1 1 1 2 1 1 1-3 1 2 1-1 1 2 1-3 1 3 1-1 1 3 1-2 1-2 1 2 1 0 1-2 1 1 1-2 1 5 1-4 1 0 1 3 1 0 1-3 1 3 1-1 1-2 1 2 1-2 1 2 1-1 1-2 1 2 1 3 1-4 1 1 1 1 1-3 1 5 1-6 1 4 1-3 1 2 1 2 1-2 1 0 1-1 1-1 1 3 1-2 1 0 1 1 1 2 1 0 1-3 1 0 1 2 1 1 1-4 1 4 1-2 1 1 1 2 1-3 1 0 1-2 1-1 1 3 1-2 1 0 1 3 1 0 1-3 1 3 1-1 1 1 1-1 1 1 1-2 1-1 1 3 1 1 1-2 1 2 1-1 1-3 1-2 1 3 1 3 1-3 1 4 1-2 1-3 1 1 1 3 1 1 1-4 1 1 1 1 1-2 1 2 1 2 1-4 1 2 1 1 1 0 1-2 1 1 1-2 1 1 1-2 1 3 1 0 1 2 1-1 1-3 1-4 1 7 1 0 1-2 1-1 1 2 1-1 1 3 1-2 1-2 1-1 1 2 1 0 1-1 1-1 1 1 1 2 1-1 1-1 1 2 1 1 1-3 1 1 1-1 1 1 1 1 1 0 1 1 1 0 1-1 1 0 1-3 1 4 1-2 1 1 1-3 1 2 1 1 1-2 1 1 1 1 1-3 1 1 1-2 1 1 1 1 1 1 1 2 1-3 1 1 1-1 1 1 1 1 1 1 1-3 1-1 1 3 1-2 1-1 1 3 1 0 1 1 1-4 1 2 1 1 1 2 1-3 1-1 1 2 1 0 1-2 1 3 1-2 1-1 1 2 1 0 1-1 1 0 1 0 1 0 1 0 1 1 1 0 1-2 1-1 1 0 1 3 1-3 1 1 1 1 1-1 1 0" fill="none" stroke="#f00" stroke-width="2.2" stroke-linejoin="round" vector-effect="non-scaling-stroke"/>
<path transform="matrix(0.17344 0 0 0.299400 -26.450 463.300)" d="M760 -962l1 77 1-44 1 20 1 2 1-37 1 9 1 50 1-19 1-14 1 44 1-61 1 26 1-6 1-5 1-39 1 48 1 11 1-56 1 60 1 1 1 23 1-66 1 22 1-5 1 9 1 8 1 18 1 0 1-33 1 9 1-40 1 64 1-7 1 15 1-64 1 70 1-54 1-17 1 42 1-23 1 77 1-46 1 34 1-49 1 5 1 21 1-46 1 17 1 23 1 0 1 26 1-34 1-61 1 76 1-30 1 26 1-36 1 10 1 18 1 42 1-34 1-45 1 39 1-23 1 30 1 37 1-61 1 3 1 24 1-5 1-17 1 24 1-25 1 15 1 57 1-58 1 12 1 7 1-33 1 24 1-27 1-14 1 25 1 45 1-21 1-43 1 31 1 15 1-19 1-15 1 6 1-10 1 40 1-15 1 0 1-6 1 55 1-49 1 30 1-72 1-4 1-3 1 23 1 35 1-38 1 31 1-22 1 41 1-8 1-28 1-34 1 48 1-60 1-13 1 107 1-33 1 25 1-22 1 11 1-12 1-27 1 1 1 18 1 7 1-2 1 0 1-12 1 15 1-12 1 48 1-56 1-24 1 41 1 43 1-73 1 45 1 70 1-73 1-21 1 6 1-22 1 16 1 14 1 55 1-22 1-34 1-13 1 45 1-10 1-29 1 63 1 2 1-45 1-13 1 20 1 48 1-61 1 36 1-52 1 20 1-9 1-10 1 31 1-35 1-11 1 23 1-24 1 51 1-40 1 17 1 34 1-24 1 12 1 1 1-16 1-26 1 37 1-12 1 42 1-40 1-28 1 10 1 9 1 26 1 12 1-23 1 33 1-2 1-57 1 49 1-71 1 85 1-48 1 42 1-35 1 32 1-28 1 6 1 8 1-25 1-26 1 55 1-38 1 21 1 3 1-58 1 115 1-39 1 30 1-39 1-2 1-105 1 91 1-38 1 13 1 46 1-24 1-30 1 39 1-1 1-7 1 52 1-17 1-30 1-5 1 38 1-15 1-5 1 1 1-21 1 15 1-1 1 41 1-9 1-35 1 50 1-48 1 24 1 4 1-37 1 34 1 5 1-4 1-19 1-69 1 126 1-54 1 6 1-30 1 34 1 55 1-98 1 63 1-26 1 34 1-7 1-15 1-34 1 0 1 38 1-28 1 23 1-12 1-1 1-11 1 32 1-12 1-9 1 4 1 23 1-64 1 57 1-32 1 15 1-26 1 89 1-109 1 59 1 26 1-34 1-55 1 46 1 45 1-19 1-46 1 71 1-32 1 4 1-63 1 64 1-41 1 51 1 4 1-46 1 10 1 61 1-61 1 1 1 33 1-21 1-1 1 19 1 3 1 3 1-10 1 28 1-33 1 38 1-40 1 4 1 25 1-48 1-27 1 16 1 69 1-67 1 28 1 7 1 14 1-14 1-36 1 22 1 25 1 7 1-6 1-25 1-32 1 75 1-27 1 10 1 10 1-29 1-3 1 50 1-9 1-56 1 22 1-5 1 27 1-3 1-21 1 25 1 16 1-28 1-22 1 49 1-52 1 9 1 40 1-22 1 2 1-17 1 0 1 50 1 2 1-60 1 24 1-8 1 3 1-30 1 70 1-58 1 49 1-39 1-15 1 69 1-45 1 18 1 1 1-8 1 28 1-2 1-41 1-4 1 36 1 23 1-94 1 30 1 19 1 36 1-11 1-20 1 30 1-64 1 37 1-6 1 36 1-2 1-3 1-26 1 14 1 1 1-15 1 3 1-31 1 42 1 21 1-25 1-36 1 51 1-15 1 11 1-19 1 4 1 27 1-14 1-29 1-3 1 5 1 2 1 30 1 1 1-32 1 53 1-28 1 45 1-36 1 9 1 12 1-43 1 33 1-9 1-2 1 12 1-53 1 48 1-17 1 37 1-20 1-3 1 0 1 7 1-17 1-34 1 41 1 1 1 7 1-72 1 23 1 27 1-4 1 35 1-13 1-8 1 2 1 25 1-2 1-31 1 5 1 60 1-54 1-28 1 47 1-21 1 42 1-56 1 48 1 4 1-22 1-65 1 73 1 16 1-42 1 6 1-34 1 72 1 8 1-31 1-16 1 1 1-18 1 63 1-15 1-17 1-23 1 9 1 22 1 15 1-45 1-2 1-42 1 71 1-44 1 69 1-15 1 3 1-5 1 11 1-8 1-11 1 10 1-27 1 19 1-2 1-35 1 28 1 5 1 4 1-1 1-12 1 33 1-46 1-10 1 11 1 39 1 27 1-27 1-14 1-16 1 25 1 3 1-43 1 53 1-41 1 4 1 54 1-38 1 20 1 10 1 22 1-7 1-47 1 20 1-16 1 33 1-18 1 0 1 30 1 3 1-49 1 7 1 26 1-20 1-17 1-28 1 65 1-35 1-36 1 50 1-33 1 96 1-95 1 35 1 45 1-63 1-5 1-3 1 1 1 31 1 18 1-5 1-9 1-8 1 23 1-10 1-18 1 16 1-44 1 6 1 80 1-11 1 20 1-1 1-37 1 38 1 4 1-16 1-22 1 30 1 2 1-26 1 13 1 3 1-9 1 47 1-25 1 22 1-35 1 7 1 45 1-51 1 59 1-50 1 24 1 27 1 8 1-16 1-3 1 17 1-25 1 46 1-28 1 2 1 44 1-45 1 37 1 29 1-38 1-6 1-22 1 33 1-40 1 4 1 10 1-3 1 24 1 22 1-23 1-4 1 18 1 13 1 30 1-45 1 10 1 37 1-27 1-10 1 20 1-16 1 3 1 49 1-22 1-13 1-6 1-8 1 70 1-35 1-13 1-8 1-7 1 54 1-9 1 15 1-36 1 44 1-49 1 6 1 10 1 53 1-29 1-28 1 43 1-23 1-2 1-20 1 12 1 1 1 14 1-9 1 3 1-17 1 18 1-24 1 55 1-58 1 27 1-25 1 21 1-16 1-12 1 41 1-13 1 5 1-7 1 36 1-29 1 2 1 11 1-12 1 27 1-58 1 19 1-29 1 55 1 6 1-28 1 38 1-37 1 18 1-7 1-11 1 4 1-36 1 24 1 39 1-45 1 46 1-28 1 26 1-8 1-42 1 37 1 2 1-2 1-5 1-34 1 52 1 1 1-36 1 43 1-24 1-29 1 22 1 10 1 4 1 5 1-7 1-14 1-22 1 6 1 30 1 4 1-28 1 49 1-27 1-2 1 16 1-2 1-27 1 40 1-15 1-5 1-14 1 29 1-49 1 28 1-1 1 2 1 7 1 6 1-42 1 19 1 6 1-22 1 34 1-26 1 12 1 18 1-32 1 44 1-42 1 30 1-25 1-19 1 16 1 23 1-11 1 7 1 16 1-1 1-23 1-9 1 45 1-33 1-12 1 8 1 22 1-40 1 45 1-37 1-18 1 71 1-45 1-1 1 2 1 20 1-9 1 21 1-29 1-8 1 23 1 6 1-9 1-9 1-1 1 3 1-3 1 27 1 28 1-66 1-15 1 55 1-14 1-19 1-13 1 6 1-12 1 26 1-9 1 1 1 16 1-32 1 12 1-7 1 27 1-28 1 41 1-28 1 58 1-31 1-34 1 24 1-12 1 35 1-62 1 19 1 12 1-9 1 2 1-21 1 24 1 33 1-24 1-30 1 14 1 20 1-20 1 9 1-9 1 43 1-14 1-30 1 17 1-11 1-31 1 45 1-11 1 15 1 2 1-11 1 27 1 13 1-67 1 28 1-23 1 19 1 0 1-10 1-1 1 37 1-46 1 42 1-23 1-45 1 48 1-31 1 39 1-18 1 11 1-7 1 24 1 2 1-24 1 36 1-14 1-28 1 24 1 6 1 4 1-24 1 10 1-10 1 6 1-39 1 44 1 30 1-40 1 2 1-3 1 34 1-52 1 22 1 0 1 30 1-39 1 10 1-27 1 34 1 16 1-26 1 20 1-26 1 29 1-18 1 2 1-4 1 10 1 5 1-14 1 10 1-14 1 8 1 38 1-42 1-27 1 21 1-6 1 3 1 18 1 16 1-41 1-4 1 9 1 3 1 1 1 8 1-6 1 5 1-6 1 24 1-5 1-23 1 17 1 40 1-49 1 46 1-79 1 22 1 1 1 26 1 9 1-18 1-4 1 15 1-17 1-10 1 1 1 31 1 22 1-41 1 12 1-20 1-23 1 0 1 26 1-16 1-10 1 31 1-5 1-10 1 16 1 9 1 5 1-14 1 12 1-27 1 21 1-33 1 5 1 46 1-44 1 28 1-33 1 16 1 11 1-14 1 23 1-16 1-1 1 10 1-10 1 26 1-29 1 33 1-34 1 3 1-5 1 24 1-67 1 61 1-7 1 17 1-41 1 36 1-28 1 37 1-24 1 13 1-24 1 23 1 10 1-24 1 31 1-5 1-32 1 49 1-48 1 21 1 10 1-22 1-7 1 23 1-8 1-18 1 1 1 15 1 14 1 3 1-7 1-23 1 2 1 5 1-20 1 31 1 2 1 0 1-42 1 73 1-43 1-3 1 7 1-42 1 22 1 7 1 31 1-26 1 16 1-7 1-3 1 13 1-21 1-18 1 11 1 15 1 40 1-56 1 1 1 23 1 5 1-20 1 27 1-29 1 34 1-2 1-17 1 27 1-26 1-10 1 34 1-40 1 27 1-20 1 7 1 12 1 2 1 22 1-19 1 2 1-43 1 11 1 44 1-39 1 11 1 11 1-15 1-6 1 25 1-5 1-7 1 21 1-21 1 5 1 11 1 4 1-21 1-10 1 10 1 22 1-28 1 10 1-7 1-10 1 38 1-14 1 9 1 5 1-51 1 19 1 49 1-39 1 18 1-30 1 19 1 5 1-5 1-4 1 6 1 5 1-1 1-11 1 29 1-19 1 2 1 7 1-22 1 37 1-16 1 9 1-25 1 18 1-8 1-6 1 35 1-36 1 22 1-8 1-3 1-15 1 1 1-18 1 29 1 12 1 0 1-20 1-16 1 22 1 17 1-15 1 1 1 4 1 14 1 32 1-35 1-27 1 15 1 43 1-39 1 33 1-67 1 32 1 24 1-34 1 28 1-23 1 9 1 22 1-32 1 35 1-46 1 22 1 20 1 14 1-60 1 3 1 48 1-50 1 26 1 7 1-2 1 3 1-29 1 23 1 35 1-68 1 21 1 35 1-13 1 10 1-16 1-6 1 3 1 15 1 4 1-28 1 17 1-41 1 53 1-27 1 13 1 15 1-37 1 22 1 18 1-10 1-22 1 39 1-45 1 13 1 17 1-28 1-7 1 21 1 7 1-28 1 6 1 42 1-12 1 1 1 3 1 19 1-40 1 14 1 0 1-22 1 34 1-8 1-5 1 12 1-5 1-15 1 14 1-23 1 36 1-16 1 28 1-22 1 11 1-35 1 11 1 4 1-22 1 7 1 13 1 24 1 13 1-23 1 5 1 6 1-6 1 24 1-54 1 46 1-8 1-21 1 38 1-43 1 0 1 22 1 13 1-10 1 24 1-55 1 23 1 14 1 3 1-25 1-15 1 47 1-11 1 20 1-41 1 10 1-36 1 41 1 6 1 5 1-26 1 42 1-40 1 9 1 13 1 7 1-33 1-13 1 39 1-16 1-20 1 40 1-5 1 16 1-17 1-1 1 6 1 6 1 14 1-4 1-5 1-27 1 19 1 7 1-25 1 2 1 22 1-2 1-21 1 5 1 21 1-18 1 5 1-19 1 34 1-29 1 8 1 24 1-34 1 3 1 37 1-54 1 52 1-3 1-10 1-18 1 4 1 11 1-24 1 17 1-16 1-24 1 44 1 47 1-35 1 11 1-19 1 0 1 22 1-1 1-14 1-1 1 41 1-60 1 16 1 1 1-4 1 22 1-16 1-18 1 0 1 11 1 12 1 10 1-36 1 14 1 16 1 30 1-22 1 18 1-52 1 18 1 16 1-8 1-47 1 23 1 43 1-20 1 19 1 9 1-32 1-37 1 15 1 26 1 7 1-9 1-14 1 42 1 7 1-62 1 27 1-22 1 24 1-21 1 35 1-18 1-17 1 9 1 25 1-22 1 26 1 14 1-33 1-14 1 10 1 35 1-35 1 4 1 19 1 34 1-58 1 3 1 6 1 38 1-4 1-41 1 4 1 5 1 13 1-10 1 16 1-4 1 10 1-19 1 12 1-22 1 4 1 26 1-44 1 50 1-26 1-10 1-3 1 59 1-53 1-3 1-3 1 61 1-25 1-9 1 6 1-28 1 34 1-30 1 12 1 34 1-5 1-7 1-7 1-12 1 22 1-15 1 43 1 26 1-39 1-9 1 16 1 14 1-19 1-19 1 34 1 14 1 5 1-39 1 34 1-6 1-5 1 6 1 33 1-24 1 6 1 8 1-3 1 26 1-4 1 10 1-14 1 23 1-10 1 23 1-9 1 7 1 0 1 1 1 8 1 4 1 26 1-35 1 25 1-1 1 10 1-18 1 26 1-13 1-4 1-1 1 9 1 10 1 24 1-24 1 5 1 8 1 4 1 11 1 10 1-12 1 2 1 26 1-15 1 10 1-3 1 10 1-4 1 4 1 4 1 23 1-16 1 9 1 12 1-13 1 18 1-16 1-5 1 18 1-11 1 5 1-2 1 16 1-15 1 4 1-5 1 6 1-8 1 6 1-3 1-5 1 9 1-6 1 5 1-2 1 8 1-10 1-3 1 10 1-7 1 3 1 11 1-11 1-7 1 14 1 9 1-14 1 6 1-19 1 14 1 0 1 5 1-7 1 6 1 3 1-6 1 5 1-15 1 18 1-8 1 4 1 5 1-22 1 28 1-26 1 21 1-11 1-16 1 32 1-6 1-19 1 8 1 5 1-3 1 7 1-8 1-11 1 14 1-4 1-7 1-6 1 19 1-7 1 7 1 0 1-2 1 2 1 8 1 2 1-9 1-6 1-8 1 13 1-3 1-6 1-1 1 7 1-1 1-14 1 16 1 1 1 9 1-15 1 5 1-16 1 16 1-8 1-1 1-5 1 21 1-21 1 12 1 1 1 1 1 1 1-1 1 15 1-21 1 3 1 8 1-7 1-17 1 14 1 6 1-15 1 18 1-5 1 3 1-2 1-7 1 1 1 9 1-4 1-1 1 3 1-3 1 5 1 1 1-6 1 8 1-11 1 5 1 5 1-2 1-1 1-3 1-2 1 3 1 5 1-17 1 4 1 6 1-7 1 5 1 4 1-2 1-19 1 12 1 0 1 10 1-7 1-12 1 13 1-4 1-2 1 5 1-7 1 10 1-2 1 8 1-23 1 16 1 2 1-9 1 13 1-3 1 5 1-5 1 2 1-6 1 5 1 3 1-2 1-1 1 2 1-10 1 2 1 4 1 9 1-12 1 13 1-10 1 1 1 4 1 2 1-1 1-20 1 17 1-1 1-8 1 4 1-5 1 17 1-1 1-32 1 24 1 2 1-3 1-6 1 16 1-11 1 2 1-5 1 4 1 5 1 2 1 12 1-25 1 18 1-8 1-15 1 15 1-7 1 6 1-7 1 5 1 4 1-13 1 11 1 8 1-7 1-7 1 12 1-13 1 0 1-10 1 20 1-9 1 16 1-9 1-3 1-2 1 3 1 0 1 4 1-1 1-6 1-1 1-1 1-3 1-1 1 21 1-9 1-2 1 3 1-12 1 2 1 6 1-1 1-8 1 11 1 0 1-9 1 3 1-6 1 7 1-3 1 10 1 2 1-6 1 19 1-22 1-4 1 6 1 2 1-9 1 8 1-7 1-9 1 11 1-2 1 3 1 2 1 0 1 1 1-7 1 19 1-9 1-7 1 11 1-5 1 4 1-8 1-3 1-4 1 7 1 8 1-7 1-2 1-6 1 25 1-17 1 15 1-18 1 2 1 0 1-3 1 4 1 7 1-7 1-6 1 9 1-1 1 9 1-17 1 12 1 2 1-3 1 3 1-4 1-11 1 4 1-5 1 0 1 17 1-10 1-7 1-6 1 26 1 0 1-13 1 6 1 4 1-9 1 8 1 10 1-15 1-1 1-4 1-2 1 5 1 3 1 3 1 7 1-8 1-10 1 2 1-10 1 16 1 11 1-18 1-1 1 15 1 3 1-12 1-4 1 13 1-6 1 4 1 3 1 1 1-10 1 3 1 3 1 13 1-30 1 19 1-5 1 7 1-10 1 13 1-11 1 2 1-7 1 14 1-3 1-2 1-16 1 25 1-11 1 6 1-5 1-2 1 4 1 0 1 1 1 6 1-2 1 10 1-7 1 3 1-2 1-6 1 3 1 1 1-3 1 21 1-16 1 4 1 1 1 8 1-10 1-3 1 2 1 7 1-3 1-1 1-4 1 4 1 7 1 1 1 0 1 0 1 5 1-6 1 8 1 2 1-5 1 5 1-1 1 10 1-13 1 4 1 2 1-2 1 2 1 5 1-11 1 11 1-5 1-3 1 11 1-2 1 4 1-6 1 6 1 3 1-7 1 2 1 7 1-6 1 4 1-7 1 4 1 7 1 0 1 2 1-2 1 1 1-1 1 2 1 4 1-1 1-4 1 1 1 3 1 0 1 0 1 0 1 3 1-5 1 3 1-1 1 4 1-4 1-2 1 6 1-6 1 1 1 2 1 2 1-5 1 2 1-1 1 2 1 1 1-3 1 3 1-3 1 4 1-1 1 1 1-5 1 5 1-1 1-3 1 1 1-3 1 0 1 2 1 0 1 4 1-1 1-1 1 0 1 2 1-1 1 0 1-3 1 1 1 1 1 0 1-1 1 2 1-1 1 2 1-4 1 0 1 1 1 0 1 0 1-3 1 3 1 3 1-1 1-3 1 0 1 0 1 0 1 1 1 3 1-1 1 1 1-2 1 2 1-3 1 1 1 3 1-5 1 0 1 4 1-3 1 0 1 1 1-2 1 1 1-1 1 1 1 1 1-1 1-1 1 1 1 1 1 1 1-1 1 1 1-2 1 1 1 0 1 0 1 0 1-3 1 1 1 3 1-2 1 1 1 0 1 0 1 1 1 1 1 1 1-3 1-2 1 3 1-2 1 2 1-1 1 1 1-1 1 0 1 3 1-3 1 0 1 3 1-4 1 1 1 0 1-1 1 2 1 1 1-1 1 0 1-4 1 0 1 4 1 0 1-1 1-1 1 2 1 1 1-5 1 1 1 4 1 1 1-2 1-1 1-1 1 2 1 1 1-2 1-1 1 1 1 1 1-2 1 1 1 2 1-2 1 2 1-3 1 0 1 3 1-2 1-2 1 5 1-3 1-2 1 4 1-2 1 2 1-2 1 3 1 0 1-2 1-1 1-1 1 0 1-1 1 1 1 0 1 3 1-2 1-5 1 2 1 2 1 0 1 0 1 2 1-4 1 4 1-1 1-3 1 6 1-4 1 4 1-2 1-1 1 1 1-1 1 1 1-1 1 2 1-1 1 1 1-3 1 3 1-3 1 2 1 0 1-3 1 2 1 3 1-4 1 4 1-3 1 1 1 1 1-2 1 1 1-4 1 4 1-4 1 1 1 3 1 0 1-3 1 2 1 0 1 0 1 2 1-1 1 1 1 0 1-2 1-3 1 1 1 2 1 0 1-1 1-1 1 2 1 1 1 0 1-3 1-2 1 5 1 2 1-4 1 1 1 0 1-2 1 2 1 2 1 1 1-3 1 2 1-2 1 2 1-1 1 1 1-1 1 0 1-2 1-1 1 2 1 1 1-4 1 2 1 0 1 0 1-1 1 0 1 1 1 0 1 2 1 0 1-1 1 0 1 0 1 0 1 0 1 1 1 2 1-4 1 0 1 2 1-2 1 0 1 1 1 3 1-1 1-1 1-3 1 3 1 0 1 1 1-1 1-1 1 3 1 0 1-4 1 1 1 1 1-2 1 0 1 4 1-3 1-2 1 3 1 0 1-2 1 1 1 2 1-1 1 1 1-3 1 4 1-5 1 5 1-3 1 2 1-1 1-3 1 0 1 0 1 2 1 0 1 0 1-1 1 2 1-3 1 2 1-2 1 1 1 0 1 2 1 0 1 1 1-1 1-1 1-1 1 3 1-7 1 5 1-2 1 0 1 5 1-3 1-2 1 5 1-4 1 2 1 0 1-1 1 3 1-3 1 1 1 0 1-2 1-4 1 5 1-1 1 1 1 1 1-1 1-2 1 2 1-1 1 1 1-4 1 7 1-4 1 0 1 1 1 2 1 0 1-2 1 0 1 2 1 0 1-3 1-1 1 3 1 0 1 0 1-5 1 3 1 1 1-2 1-2 1 2 1 4 1-2 1 1 1 0 1 1 1-1 1 1 1-2 1 0 1 2 1 1 1-2 1-2 1 0 1 1 1 3 1-2 1 0 1 0 1 1 1-1 1 0 1-5 1 3 1 1 1 0 1 0 1 0 1 1 1-1 1-2 1 1 1 1 1-2 1 2 1 2 1 1 1-2 1-1 1-1 1-1 1 3 1 0 1-2 1-1 1 3 1-1 1-2 1 2 1 0 1 3 1-5 1 1 1 1 1 1 1 1 1-2 1 0 1-2 1 4 1-4 1 2 1-2 1 4 1-2 1-2 1 2 1 2 1-1 1-2 1 3 1 0 1-2 1 2 1-3 1 3 1 1 1-2 1-3 1 3 1-1 1 0 1 2 1-4 1 2 1-1 1 4 1 0 1 0 1-3 1 0 1-1 1-1 1 2 1 0 1-1 1-1 1 3 1-2 1 1 1 1 1-2 1 2 1 1 1-3 1 1 1 0 1 0 1-1 1 2 1-2 1 0 1-1 1 0 1 1 1 1 1 0 1 1 1-5 1 4 1-1 1-1 1 4 1-1 1 0 1 1 1 0 1-1 1-3 1 1 1 1 1 0 1 3 1-4 1 0 1 3 1-2 1 0 1 1 1 1 1-1 1 1 1-3 1 0 1 1 1 0 1 1 1-4 1 6 1-5 1 1 1 1 1 1 1-1 1 2 1 0 1-2 1 3 1-4 1-1 1 5 1-1 1-2 1 0 1 0 1-1 1 0 1 0 1-2 1 3 1-1 1 4 1-3 1 2 1-4 1-2 1 3 1 3 1-2 1 0 1 0 1-2 1 1 1 4 1-5 1 3 1 0 1-3 1 2 1 2 1 0 1-2 1-1 1-1 1 2 1 1 1-3 1 3 1-3 1 2 1 0 1 0 1 0 1 1 1 0 1-1 1 1 1-1 1 0 1 0 1 0 1 0 1-3 1 3 1 1 1-1 1-1 1 1 1 0 1 0 1 0 1-1 1 0 1 4 1-1 1 1 1-4 1-1 1 0 1 2 1-2 1 2 1 0 1 2 1-1 1 0 1-2 1-2 1 4 1-2 1 1 1 1 1 2 1-2 1 1 1-1 1-1 1 0 1 0 1-1 1 2 1-2 1 4 1-3 1-1 1 2 1 2 1-4 1 2 1-2 1 0 1 1 1 0 1-2 1 1 1 2 1-1 1-1 1 1 1 0 1 0 1 0 1 1 1 1 1-4 1 3 1-1 1 2 1-2 1 1 1-6 1 7 1 0 1-3 1-1 1 5 1-3 1-1 1 3 1-3 1 2 1 1 1-1 1 0 1 1 1-5 1 4 1 0 1-2 1 1 1-2 1 2 1-1 1 1 1 0 1 0 1 0 1-3 1 4 1 0 1 0 1-2 1 0 1 0 1 3 1-2 1 0 1 0 1 0 1 3 1-3 1 0 1 2 1-2 1-2 1 3 1-2 1 1 1 1 1 0 1 0 1-3 1 1 1 2 1-3 1 2 1 1 1-2 1 2 1 1 1-4 1 5 1-4 1 3 1-2 1 0 1 1 1 2 1-3 1 0 1 1 1-1 1-2 1 3 1-2 1 3 1-3 1 0 1-3 1 2 1 1 1-1 1 3 1-3 1 3 1 0 1-3 1 1 1-1 1 4 1-3 1 2 1-1 1 3 1-5 1 1 1 2 1 1 1-1 1-4 1 3 1 0 1-1 1 1 1-1 1-1 1 1 1-1 1 3 1-2 1 1 1-1 1 0 1 1 1 0 1-2 1 2 1 1 1-3 1 0 1 2 1-1 1 2 1-1 1-3 1 1 1 1 1 1 1 2 1-4 1 0 1-1 1-2 1 3 1-1 1 4 1-4 1 0 1-1 1 1 1 1 1-2 1 4 1-3 1-1 1 4 1 1 1-3 1 0 1-1 1 0 1 3 1-3 1-1 1 3 1 0 1 1 1-4 1-2 1 6 1-4 1 0 1 3 1-1 1 2 1-1 1-2 1-1 1 1 1-2 1 1 1 3 1-5 1 0 1 4 1-6 1 3 1 1 1-4 1 10 1-2 1-6 1 2 1 2 1-6 1 2 1 4 1-1 1-4 1-3 1 10 1-6 1 1 1 4 1-5 1 4 1-3 1-6 1 3 1-1 1 0 1 1 1-2 1 5 1-2 1-4 1 5 1-2 1-5 1-1 1 6 1 0 1-4 1 0 1 3 1-5 1 0 1 1 1-10 1 4 1 2 1-2 1-8 1 6 1 6 1-5 1 0 1 2 1-5 1-2 1 0 1 1 1-9 1 10 1-15 1 2 1-4 1 12 1-27 1 17 1-9 1-15 1 4 1-7 1 9 1-20 1-12 1-12 1 1 1-13 1-12 1 2 1-10 1-40 1 19 1-36 1 0 1-31 1 12 1-31 1-13 1-9 1-25 1-1 1-29 1-14 1-39 1-5 1 3 1-38 1-26 1-5 1-64 1-3 1-29 1 12 1-27 1-50 1 34 1-58 1-11 1-4 1-29 1 12 1-44 1 21 1-10 1-74 1 41 1 27 1-81 1 38 1 64 1-82 1-21 1 20 1-27 1 52 1-8 1 49 1-16 1-19 1 38 1 23 1 64 1-19 1 37 1-26 1 51 1-4 1 48 1-38 1 81 1-5 1-27 1 67 1 40 1-7 1 14 1 22 1 66 1-16 1 54 1-43 1 45 1 24 1 0 1 19 1 36 1-21 1 36 1 30 1-23 1 11 1 14 1 17 1 23 1-8 1 1 1 17 1 1 1 25 1-7 1 7 1 21 1 5 1-2 1 0 1 1 1 7 1 2 1 3 1 2 1 0 1 2 1 4 1 1 1 4 1-3 1 5 1-5 1 5 1 0 1 4 1-1 1 0 1 1 1 1 1 2 1-2 1 0 1-1 1-1 1 3 1 4 1-4 1 4 1-1 1-4 1 1 1 2 1 0 1-1 1 3 1-4 1 2 1-4 1 5 1-4 1 3 1-3 1 4 1-3 1 2 1 1 1-1 1-1 1 0 1-2 1 1 1 5 1-3 1 3 1-3 1-1 1 3 1 0 1-3 1 1 1-3 1 2 1 0 1-2 1 3 1 0 1 1 1-2 1-1 1 0 1 2 1 1 1 0 1 1 1-2 1-2 1 5 1 0 1-5 1 4 1-3 1 3 1-3 1 0 1 1 1-2 1 2 1-1 1-2 1 1 1 3 1 0 1-1 1 0 1 0 1 1 1-2 1 1 1-1 1 1 1-1 1 3 1-5 1 2 1 0 1 0 1-1 1 1 1 0 1 1 1 2 1-2 1 0 1 0 1-4 1 7 1-3 1-2 1 0 1 0 1 4 1-1 1-2 1 1 1-3 1 3 1 0 1-1 1 1 1 0 1 1 1-1 1 1 1-2 1 3 1 0 1-3 1 1 1 1 1-1 1 1 1-4 1 5 1-5 1 4 1-2 1 1 1 0 1-2 1 1 1 1 1 1 1-4 1 1 1 2 1 0 1-1 1 1 1-2 1 3 1-1 1 1 1-3 1-1 1 3 1-1 1-1 1 2 1 1 1-3 1 1 1 1 1-2 1 1 1 4 1-4 1 1 1-3 1 3 1 0 1-1 1 0 1 3 1-2 1 0 1-2 1-2 1 6 1-1 1 0 1 0 1 0 1-1 1-2 1 4 1 0 1 1 1-5 1 0 1 4 1 0 1-2 1-2 1 0 1 2 1-1 1 0 1 2 1-4 1 3 1 2 1-1 1 1 1-2 1-2 1 4 1-4 1-1 1 2 1 3 1-1 1-1 1 2 1 0 1-2 1 0 1-1 1 3 1-5 1 1 1 0 1 3 1-4 1 3 1-3 1 1 1 3 1 0 1-4 1 1 1 2 1 0 1 0 1 1 1-1 1 1 1 0 1-2 1 2 1-2 1 1 1-1 1-1 1 0 1 1 1 0 1 1 1-1 1 2 1-1 1-1 1 1 1-1 1 3 1-4 1 3 1-2 1 1 1-2 1 2 1 1 1 2 1-3 1 2 1-3 1-1 1 5 1-1 1-3 1-1 1 1 1 0 1 0 1 0 1-2 1 2 1 3 1-1 1-1 1 1 1-1 1 1 1 0 1-2 1 1 1 2 1-1 1-1 1-3 1 2 1-1 1 1 1 4 1-4 1 2 1 1 1 0 1-5 1 5 1-1" fill="none" stroke="#00f" stroke-width="2.2" stroke-linejoin="round" vector-effect="non-scaling-stroke"/>
</g>
<line x1="146.99" y1="463.30" x2="146.99" y2="474.30" stroke="#000" stroke-width="3.0"/>
<line x1="320.43" y1="463.30" x2="320.43" y2="474.30" stroke="#000" stroke-width="3.0"/>
<line x1="493.86" y1="463.30" x2="493.86" y2="474.30" stroke="#000" stroke-width="3.0"/>
<line x1="667.30" y1="463.30" x2="667.30" y2="474.30" stroke="#000" stroke-width="3.0"/>
<line x1="233.71" y1="463.30" x2="233.71" y2="469.30" stroke="#000" stroke-width="3.0"/>
<line x1="407.14" y1="463.30" x2="407.14" y2="469.30" stroke="#000" stroke-width="3.0"/>
<line x1="580.58" y1="463.30" x2="580.58" y2="469.30" stroke="#000" stroke-width="3.0"/>
<line x1="112.30" y1="463.30" x2="103.30" y2="463.30" stroke="#000" stroke-width="3.0"/>
<line x1="112.30" y1="313.60" x2="103.30" y2="313.60" stroke="#000" stroke-width="3.0"/>
<line x1="112.30" y1="163.90" x2="103.30" y2="163.90" stroke="#000" stroke-width="3.0"/>
<line x1="112.30" y1="14.20" x2="103.30" y2="14.20" stroke="#000" stroke-width="3.0"/>
<line x1="112.30" y1="388.45" x2="106.80" y2="388.45" stroke="#000" stroke-width="3.0"/>
<line x1="112.30" y1="238.75" x2="106.80" y2="238.75" stroke="#000" stroke-width="3.0"/>
<line x1="112.30" y1="89.05" x2="106.80" y2="89.05" stroke="#000" stroke-width="3.0"/>
<text transform="translate(82.56,470.50) scale(1.0600,1)" font-size="25.16">0</text>
<text transform="translate(52.89,320.45) scale(1.0600,1)" font-size="25.16">500</text>
<text transform="translate(38.09,170.40) scale(1.0600,1)" font-size="25.16">1000</text>
<text transform="translate(38.09,20.35) scale(1.0600,1)" font-size="25.16">1500</text>
<text transform="translate(124.88,498.30) scale(1.0600,1)" font-size="25.16">500</text>
<text transform="translate(290.49,498.30) scale(1.0600,1)" font-size="25.16">1000</text>
<text transform="translate(463.92,498.30) scale(1.0600,1)" font-size="25.16">1500</text>
<text transform="translate(637.73,498.30) scale(1.0600,1)" font-size="25.16">2000</text>
<text transform="translate(291.85,539.75) scale(1.0209,1)" font-size="33.09" fill="#000">Channel No.</text>
<text transform="translate(30.95,389.64) rotate(-90) scale(0.8968,1)" font-size="38.62" fill="#000">RBS counts (a.u.)</text>
<rect x="336.1" y="52.5" width="198.80" height="137.10" fill="#fff" stroke="#666" stroke-width="1.6"/>
<line x1="352" y1="83.9" x2="432" y2="83.9" stroke="#000" stroke-width="2.6"/>
<text transform="translate(440.92,96.45) scale(0.9794,1)" font-size="33.24" fill="#000">5 nm</text>
<line x1="352" y1="126.5" x2="432" y2="126.5" stroke="#f00" stroke-width="2.6"/>
<text transform="translate(441.17,138.35) scale(0.9848,1)" font-size="32.95" fill="#000">3 nm</text>
<line x1="352" y1="169.2" x2="432" y2="169.2" stroke="#00f" stroke-width="2.6"/>
<text transform="translate(440.76,180.45) scale(0.9947,1)" font-size="32.80" fill="#000">2 nm</text>
<text transform="translate(127.06,75.13) scale(0.9674,1)" font-size="56.73" fill="#000">(a)</text>
<text transform="translate(187.00,146.85) scale(1.0482,1)" font-size="35.27" fill="#000">Pristine</text>
<text transform="translate(123.72,167.15) scale(1.0050,1)" font-size="29.32" fill="#000">C</text>
<text transform="translate(197.51,219.15) scale(1.0110,1)" font-size="29.32" fill="#000">O</text>
<text transform="translate(281.27,306.85) scale(1.0057,1)" font-size="29.89" fill="#000">Na</text>
<text transform="translate(338.37,338.45) scale(1.0274,1)" font-size="30.18" fill="#000">Si</text>
<text transform="translate(407.35,428.25) scale(0.9905,1)" font-size="29.03" fill="#000">Ca</text>
<text transform="translate(555.10,48.45) scale(1.0121,1)" font-size="31.49" fill="#000">Au</text>
<rect x="1219.8" y="17.6" width="127.9" height="451.6" fill="#E2EFDA"/>
<clipPath id="cb"><rect x="786.2" y="12.8" width="561.5" height="458.9"/></clipPath>
<rect x="787.7" y="13.8" width="560.00" height="455.40" fill="none" stroke="#000" stroke-width="3.3"/>
<g clip-path="url(#cb)">
<path transform="matrix(0.17500 0 0 0.303600 647.700 469.200)" d="M760 -988l1 14 1 67 1-45 1 12 1-9 1-26 1 37 1-7 1-49 1 93 1-41 1-23 1 48 1-17 1 19 1-40 1 22 1-39 1-6 1 27 1 12 1-17 1 6 1 36 1-64 1 24 1-15 1 60 1-62 1-34 1 42 1 58 1-41 1 3 1-8 1 13 1-20 1 27 1-19 1 26 1-21 1-25 1 42 1-32 1 44 1-14 1-4 1-41 1 57 1-55 1 75 1-36 1-30 1 7 1 47 1 7 1-58 1 59 1-50 1 30 1-13 1-65 1 22 1 20 1 62 1-47 1 8 1 5 1-40 1 85 1-56 1 6 1 24 1-68 1 83 1-35 1-1 1 63 1-21 1-12 1-49 1-4 1 11 1 10 1 68 1-67 1 21 1-47 1-4 1-24 1 42 1-2 1 51 1-30 1 36 1-58 1 58 1-27 1 17 1-9 1-25 1 28 1-21 1 34 1-66 1 57 1-46 1-30 1 126 1-39 1-22 1-37 1 46 1-24 1 31 1-35 1 49 1-56 1 106 1-30 1-102 1 46 1 30 1-86 1 33 1-2 1 43 1-29 1 4 1 60 1-62 1 22 1-40 1 0 1 54 1-1 1-22 1-12 1 30 1-8 1-20 1 6 1-20 1 26 1 31 1 25 1-71 1 32 1 1 1-2 1 36 1-32 1 61 1-60 1 14 1-75 1 38 1 19 1-10 1-15 1 41 1-14 1 4 1-78 1 66 1 57 1-76 1-49 1 98 1-122 1 98 1-29 1 44 1-8 1 27 1-5 1 31 1-91 1 64 1-42 1 2 1 27 1-19 1 5 1 11 1-15 1 1 1 30 1 8 1-12 1-27 1-34 1-2 1 32 1-17 1 23 1-27 1 27 1-7 1 19 1-7 1-52 1 86 1-33 1 17 1-43 1-23 1 59 1 68 1-93 1 0 1 64 1-39 1-5 1 63 1-82 1 6 1 6 1 37 1-10 1-2 1-30 1 41 1-67 1 30 1 71 1-106 1 42 1 20 1-18 1 54 1-55 1 73 1-39 1-66 1 3 1 45 1 18 1-53 1 28 1-7 1-11 1 47 1-51 1 81 1-99 1 84 1-25 1 1 1-38 1 0 1 11 1-5 1 2 1 16 1 51 1 11 1 0 1-62 1 6 1-3 1-9 1 13 1 21 1 14 1 12 1-86 1 9 1 63 1-30 1-19 1-32 1 61 1-21 1-27 1 80 1-27 1-19 1 19 1-77 1 34 1 19 1 32 1-50 1 7 1 32 1-2 1 29 1-38 1-26 1-3 1 12 1-6 1 39 1-3 1-46 1 21 1 35 1-36 1-8 1 3 1 17 1 18 1-25 1-35 1 43 1 22 1-27 1 43 1-39 1 14 1-34 1 24 1-26 1-33 1 69 1 17 1-35 1 15 1-6 1 21 1-31 1 13 1 61 1-52 1-15 1-23 1 48 1 7 1-53 1 48 1-19 1-9 1-7 1 20 1 31 1-58 1 40 1 3 1-69 1 31 1 53 1-15 1-6 1 14 1 32 1-74 1 1 1 15 1 18 1-16 1-12 1 46 1-19 1 7 1-34 1 12 1 43 1-18 1-64 1 74 1-30 1 21 1-50 1 36 1 10 1 20 1-25 1-28 1 4 1 54 1-77 1 49 1 22 1-31 1 20 1-1 1 2 1-14 1 11 1 33 1-59 1 28 1-46 1 18 1-2 1 12 1-29 1 44 1 18 1-36 1 82 1-62 1-15 1 17 1-44 1 15 1 16 1 14 1-40 1 48 1-7 1-30 1 4 1-38 1 60 1 45 1-67 1-16 1 38 1-45 1-6 1 65 1-4 1 21 1-48 1-4 1 3 1 49 1-12 1 18 1 5 1-6 1 6 1-36 1-16 1-5 1 17 1 18 1-17 1-15 1 23 1-9 1 10 1 6 1-15 1 31 1-57 1 69 1-53 1 49 1-76 1 18 1 44 1-9 1 18 1-28 1-12 1-56 1 104 1-68 1 48 1-22 1-16 1 9 1 4 1 16 1-4 1-4 1-27 1 70 1-25 1 20 1-7 1-4 1-50 1-27 1 21 1 67 1-33 1 32 1-41 1-21 1 18 1-7 1 27 1 48 1 1 1-49 1-17 1-18 1 42 1-10 1-5 1-20 1 29 1 27 1-56 1 18 1 1 1 43 1-32 1 44 1 8 1-46 1 6 1-26 1-22 1 38 1-47 1 62 1-35 1 53 1-36 1 12 1-2 1-21 1 65 1-52 1 24 1-24 1-6 1 20 1 0 1 20 1-43 1 32 1-29 1 48 1-71 1 62 1-56 1 41 1-25 1 18 1-21 1 18 1-33 1 16 1 0 1-25 1 61 1-51 1 32 1 40 1-50 1 18 1-49 1 57 1-14 1-4 1 55 1-62 1 39 1-61 1-6 1 44 1 41 1-44 1 2 1-13 1 28 1 24 1-24 1 22 1-67 1 65 1 1 1-13 1 33 1-18 1-5 1 11 1-4 1-35 1 23 1 47 1-20 1-27 1 37 1-16 1 5 1-11 1 20 1 2 1 20 1-28 1 34 1-63 1 46 1 7 1-22 1 24 1-2 1 6 1 19 1 7 1-3 1-42 1 45 1-3 1 4 1-25 1-29 1 72 1-32 1 12 1 13 1-17 1 44 1-47 1 17 1 31 1-58 1 20 1-5 1 63 1-25 1 9 1-25 1-14 1 78 1-42 1 6 1-24 1 27 1 30 1-22 1 21 1-3 1-16 1 14 1-14 1 42 1-83 1 26 1 15 1 47 1 21 1-26 1-11 1-52 1 23 1 42 1-35 1 2 1 29 1-24 1 22 1 24 1 13 1-20 1-22 1 53 1 8 1-44 1 72 1-94 1 50 1-23 1-21 1 71 1-6 1-68 1 55 1-2 1-7 1-16 1-4 1 26 1 10 1-5 1-7 1-20 1 25 1-34 1 56 1-28 1-25 1 11 1 20 1 26 1-3 1-11 1-9 1 12 1 26 1-15 1-25 1-6 1 46 1-21 1 28 1-23 1-84 1 72 1 8 1 5 1 13 1 14 1-38 1 5 1-36 1 64 1-42 1-19 1 68 1-54 1 47 1-44 1-19 1 30 1-6 1 20 1-20 1-17 1 27 1-1 1-11 1-9 1 51 1-35 1 15 1-24 1-11 1 15 1-20 1 47 1-12 1 12 1-22 1 0 1 6 1 21 1-24 1 8 1-22 1 19 1-30 1 19 1 43 1-34 1 26 1-50 1-9 1 30 1-10 1 39 1 17 1-35 1-6 1 26 1-33 1-5 1-7 1-18 1 15 1 24 1-9 1-11 1 34 1-48 1 8 1 24 1 8 1-91 1 61 1-2 1-18 1 17 1 16 1-10 1 33 1-33 1 46 1-40 1-3 1 44 1-72 1 63 1-45 1 32 1-17 1 20 1-65 1 31 1-16 1 21 1 1 1 12 1 8 1-18 1 10 1 6 1 25 1-22 1-18 1 22 1-17 1 10 1 18 1-2 1-4 1-9 1 0 1-29 1 46 1 19 1-56 1 24 1-7 1-55 1 22 1 18 1-7 1 17 1-17 1 32 1 2 1-5 1-42 1 1 1 44 1-36 1 27 1-25 1 28 1-26 1 22 1 4 1-5 1-4 1 15 1 16 1-63 1 43 1 30 1 9 1 11 1-45 1-41 1 62 1-27 1 31 1-60 1 15 1 1 1-21 1-6 1 13 1 33 1 15 1-6 1 15 1-73 1 41 1-7 1-1 1-38 1 54 1-36 1 18 1 9 1 37 1-59 1 35 1-6 1-14 1 2 1-21 1 37 1-17 1-2 1 5 1-13 1 19 1-30 1 39 1 15 1-28 1-25 1 35 1 2 1-6 1-10 1 7 1-10 1 42 1-67 1 19 1 30 1-46 1 19 1-21 1 55 1-59 1 34 1 43 1-58 1 22 1 14 1-16 1 36 1-52 1 16 1 1 1-34 1 28 1 15 1 6 1-19 1-23 1 34 1 10 1-41 1 18 1 2 1-44 1 68 1-29 1 41 1-30 1-19 1-11 1 50 1-44 1 2 1 18 1-53 1 51 1 18 1-27 1 47 1-70 1 12 1 28 1-21 1 2 1-29 1 53 1 14 1 15 1-36 1 27 1-29 1-12 1 18 1 10 1-44 1 29 1-9 1-15 1 47 1-8 1-70 1 54 1 18 1-16 1 7 1 13 1-17 1-7 1-1 1-11 1 47 1-5 1-47 1 25 1-34 1 19 1 35 1-40 1 32 1-26 1-20 1-18 1 45 1-16 1 9 1-10 1 68 1-44 1-14 1-4 1 25 1-32 1-6 1 22 1 6 1 3 1-11 1-21 1-6 1 40 1 9 1-2 1-37 1 16 1-2 1-3 1 2 1 10 1 19 1-9 1-15 1-5 1 15 1 1 1-36 1 38 1-14 1 11 1 11 1 13 1-20 1 6 1-34 1 41 1-15 1-22 1 16 1-13 1-6 1 50 1-25 1 11 1-47 1 30 1-12 1-25 1 42 1-9 1-6 1 13 1-30 1 8 1-3 1 19 1 8 1 0 1 1 1 26 1-41 1-9 1 17 1 10 1-11 1-4 1-1 1-30 1 54 1-24 1-7 1 13 1 7 1 16 1-8 1-26 1-15 1 43 1-22 1-1 1-9 1 15 1-3 1-9 1 42 1-24 1 37 1 4 1-22 1 14 1-40 1-9 1 26 1-3 1 2 1 1 1-7 1-4 1 17 1 6 1-5 1-25 1 24 1-36 1 34 1-32 1 51 1-9 1-23 1 0 1 13 1-42 1 39 1-4 1 17 1-43 1 16 1 9 1 41 1-39 1 17 1-17 1-10 1 33 1-18 1-13 1 15 1 10 1 14 1-7 1 12 1-43 1 17 1 26 1-23 1 26 1 39 1-87 1 1 1 52 1-15 1-17 1 12 1 9 1-6 1-5 1 7 1-15 1 9 1 11 1-15 1 33 1-59 1 61 1-31 1-8 1-1 1 4 1-19 1 46 1-20 1-4 1 13 1 2 1-35 1 38 1-4 1-3 1-1 1-7 1 8 1-11 1 5 1-6 1-16 1 42 1-47 1 40 1-20 1 10 1 9 1 32 1-68 1 46 1 1 1-35 1 19 1-34 1 5 1 18 1 9 1-9 1 39 1-27 1 1 1 12 1-14 1 33 1-44 1-7 1 49 1-27 1-26 1 22 1 27 1 0 1-34 1-18 1 55 1-21 1 16 1-9 1-11 1 7 1 12 1-51 1 42 1 1 1-24 1 21 1 4 1-20 1 36 1-32 1-5 1 7 1 16 1-3 1 32 1-29 1-7 1-10 1 13 1 10 1 9 1-14 1-3 1-19 1 22 1 10 1-7 1 7 1-4 1 36 1-11 1-7 1-30 1 11 1-4 1-18 1 40 1-39 1 14 1 20 1-39 1 53 1-5 1-16 1-11 1 11 1 35 1-32 1-4 1-47 1 22 1 22 1 23 1-26 1 28 1-25 1-2 1 14 1-11 1 10 1 5 1-37 1 17 1 16 1 9 1-17 1-6 1-5 1-11 1 19 1 28 1-55 1 15 1 7 1-9 1 51 1-20 1 3 1-30 1 43 1-15 1-33 1 16 1 19 1-40 1 57 1-31 1 12 1-12 1 14 1 10 1-18 1 27 1-32 1 16 1-22 1 25 1 4 1-19 1-14 1 59 1-39 1-8 1 36 1-9 1-26 1 26 1-3 1-41 1 47 1-1 1 26 1-21 1 2 1-51 1 9 1 44 1-56 1 21 1 17 1-17 1 8 1 20 1 18 1-15 1-15 1 7 1 7 1-30 1 36 1-34 1 24 1-9 1 21 1-19 1 14 1 17 1-29 1 0 1-14 1 9 1 23 1-6 1 32 1-23 1-41 1-4 1 14 1 8 1-5 1 2 1 39 1-14 1-35 1 0 1 16 1 10 1 2 1 3 1 7 1 17 1-35 1 11 1-4 1-33 1 20 1 23 1-22 1 36 1-43 1 13 1 9 1-13 1-15 1 33 1 10 1-53 1 36 1-24 1 37 1-18 1 18 1-21 1 16 1 7 1-37 1 21 1 40 1-30 1 12 1 6 1-11 1-1 1-8 1 14 1 19 1-22 1-24 1 39 1-33 1 3 1 15 1-12 1 18 1-5 1 11 1-25 1-15 1 35 1-31 1 56 1-20 1 3 1-46 1 39 1-22 1 48 1-36 1-6 1 11 1 46 1-47 1-9 1-7 1 17 1 36 1-22 1-15 1 31 1-20 1 20 1-7 1-7 1 26 1-53 1 46 1 0 1 20 1-9 1 8 1 22 1 4 1-25 1 9 1 41 1-4 1-24 1 0 1-7 1 30 1-24 1 17 1 6 1-2 1-13 1 9 1-1 1 25 1-3 1 16 1-6 1 1 1 4 1-12 1 7 1-1 1 11 1-9 1 16 1-8 1 9 1 1 1 13 1 17 1 6 1-38 1 22 1 3 1 10 1 7 1-36 1 49 1-9 1 3 1 16 1 4 1-3 1-1 1 5 1-11 1 24 1-13 1-7 1 9 1 23 1 21 1-34 1 7 1 13 1-14 1 18 1-1 1 13 1-9 1 9 1 3 1-11 1 10 1 16 1-16 1 0 1 15 1-3 1-3 1 3 1-2 1-4 1 9 1-20 1 22 1-1 1-19 1-4 1 19 1 1 1 7 1-17 1 8 1 7 1-9 1-8 1 6 1-12 1 8 1 6 1 3 1-4 1-5 1 3 1-2 1 6 1-4 1-3 1 10 1 9 1-23 1 9 1 8 1-5 1 3 1 11 1-11 1 9 1-12 1 2 1-9 1 9 1-3 1 5 1 0 1 8 1-18 1 6 1 6 1-6 1 5 1 2 1-7 1-8 1 12 1 9 1-7 1-18 1 20 1-15 1 11 1-8 1 7 1 11 1-9 1-19 1 17 1-5 1 7 1-2 1-3 1-2 1-13 1 17 1 1 1 4 1 5 1 2 1-17 1 19 1-25 1 5 1 8 1 7 1-9 1 0 1-8 1 14 1-3 1-2 1 1 1 3 1 8 1 0 1-7 1-4 1-9 1-10 1 4 1 11 1-12 1 15 1 4 1-22 1 26 1-5 1-1 1-13 1 15 1-10 1 9 1 6 1-11 1 1 1 10 1-3 1 0 1-13 1 3 1 2 1-2 1 8 1-8 1 9 1 5 1-5 1-7 1 1 1-7 1 21 1-11 1-5 1 10 1-9 1 5 1 6 1-17 1 19 1-18 1 10 1 4 1 0 1-1 1 1 1-9 1 16 1-23 1 3 1-4 1 18 1 10 1-13 1-3 1-4 1 6 1-3 1-2 1 13 1-25 1 22 1-10 1-6 1 14 1-6 1-13 1 15 1-10 1 6 1 0 1-4 1 8 1-1 1-8 1 5 1-2 1 13 1-9 1-9 1 2 1 4 1 7 1 1 1-8 1-8 1 11 1-10 1 12 1-11 1 17 1-9 1 9 1-13 1 1 1 11 1-1 1-2 1 7 1-4 1 0 1-13 1-4 1 14 1-1 1-4 1 5 1-1 1-9 1 5 1 2 1 4 1-15 1 15 1-5 1 8 1-3 1-5 1 4 1-7 1 3 1 11 1 7 1-25 1 12 1-15 1 11 1 6 1-10 1 6 1-2 1 7 1-12 1-3 1 12 1-17 1 17 1-6 1 14 1 2 1-30 1 5 1 3 1 21 1-15 1-1 1 3 1-2 1 9 1-6 1 8 1-6 1-5 1 8 1-4 1 2 1-4 1-6 1 5 1-1 1 13 1-8 1-9 1 13 1-3 1 4 1-17 1 13 1 2 1-10 1-4 1 5 1-4 1 6 1 3 1 2 1 1 1 0 1-7 1 4 1-2 1-4 1 5 1 10 1-4 1 2 1 6 1-15 1 10 1 1 1-2 1-14 1 8 1-9 1 8 1 2 1-7 1 0 1 3 1 9 1-4 1 5 1-7 1-2 1-11 1 1 1 5 1-2 1 6 1-19 1 9 1-8 1 17 1 0 1-5 1 6 1-1 1 10 1-14 1 6 1-5 1 8 1 11 1-16 1-5 1 18 1-2 1-5 1 0 1 11 1-25 1 6 1 12 1 9 1-16 1-11 1 8 1-2 1 16 1-8 1 12 1-24 1 11 1 19 1-1 1-16 1 3 1 4 1-6 1-9 1 12 1 15 1-10 1 8 1-3 1-7 1 4 1 7 1-6 1 6 1-8 1 5 1-3 1 5 1-6 1 6 1 0 1 4 1-4 1 12 1-25 1 20 1-4 1 4 1 1 1-4 1 5 1 1 1 5 1-1 1 2 1-16 1 18 1-1 1-6 1-6 1 17 1 0 1-8 1-1 1 10 1 2 1-3 1-8 1 5 1-4 1 5 1 0 1-2 1 4 1-1 1 6 1-1 1-4 1 4 1 3 1-5 1 1 1 3 1 3 1-6 1-5 1 13 1 3 1-2 1 1 1 2 1 0 1-6 1 1 1-1 1 3 1 4 1-4 1 5 1 0 1 3 1-5 1 1 1 3 1 0 1 0 1 0 1-1 1 1 1 0 1 4 1-3 1 3 1-6 1 0 1 2 1-1 1-2 1 2 1 5 1-3 1 4 1-3 1 1 1-2 1-1 1 3 1-2 1-1 1 1 1 0 1 4 1-3 1-3 1 1 1 3 1-2 1-1 1 3 1-4 1 3 1-1 1 0 1-5 1 5 1 1 1-3 1 2 1-1 1 5 1-5 1 1 1 2 1-5 1 3 1 0 1 2 1 1 1-2 1 1 1-3 1-1 1 3 1 2 1-3 1 1 1-2 1 0 1 1 1-1 1-2 1-1 1 4 1-2 1 2 1 1 1-4 1 2 1 0 1 0 1 1 1 1 1-5 1 1 1 2 1-2 1 0 1 3 1-2 1 2 1-2 1 2 1-6 1 6 1-2 1 0 1 2 1-3 1 2 1 1 1-1 1 2 1-4 1 1 1-1 1 5 1-3 1 2 1-2 1-3 1 3 1 0 1-2 1 0 1-2 1 8 1-5 1 2 1 1 1-2 1 2 1 3 1-3 1-2 1-4 1 5 1 1 1 2 1-3 1-1 1 0 1 3 1-2 1 4 1-5 1 3 1 2 1-8 1 2 1 0 1 0 1 3 1-4 1 4 1-6 1 3 1 5 1-6 1-2 1 4 1-2 1 2 1 1 1 4 1-8 1 4 1-2 1 3 1 0 1-5 1 4 1 0 1 1 1-3 1-1 1 3 1-1 1 2 1-5 1 4 1-1 1-4 1 4 1 3 1-1 1-2 1-4 1 3 1 1 1-2 1-1 1 4 1-4 1 1 1 1 1 6 1-6 1-2 1 3 1-5 1 4 1 3 1-4 1 1 1-1 1 2 1-3 1 4 1-2 1 3 1-1 1-2 1 2 1-1 1 0 1-1 1-1 1 0 1-1 1 2 1 2 1 2 1-3 1 1 1 2 1-7 1 7 1-4 1-1 1 2 1-6 1 5 1 2 1-6 1 6 1 1 1-1 1 0 1-2 1 0 1 4 1-5 1-4 1 7 1-1 1-2 1-1 1 4 1 0 1 0 1-4 1 0 1 7 1 0 1-2 1 0 1-4 1 1 1-4 1 2 1 2 1-3 1 5 1 1 1-3 1-2 1 6 1-6 1 0 1 3 1-1 1 1 1-1 1-2 1 4 1-4 1 0 1 0 1 6 1 0 1-6 1 3 1 1 1 0 1 1 1-2 1 1 1-1 1-2 1 4 1-6 1 8 1-11 1 9 1-4 1-1 1 2 1-2 1 2 1 4 1-5 1-2 1 4 1 3 1-3 1-2 1 0 1-2 1 2 1 0 1 5 1-9 1 5 1-2 1 3 1-1 1 0 1-4 1 0 1 2 1-3 1 6 1-2 1 2 1-4 1 3 1-3 1-1 1 8 1-9 1 4 1 1 1 4 1-4 1 5 1-6 1 1 1-5 1 5 1-3 1 0 1-2 1 5 1-2 1 5 1-1 1-2 1 0 1 2 1-1 1-3 1 3 1-1 1 2 1-6 1-1 1 4 1 1 1-4 1 2 1 3 1 2 1-2 1-7 1 7 1-8 1 6 1 1 1-4 1 4 1-2 1 4 1 0 1-1 1-2 1 2 1 3 1-6 1 2 1 0 1 1 1 4 1-9 1 4 1-2 1-2 1 1 1 2 1 0 1 0 1-2 1 1 1 2 1-2 1 0 1 0 1 1 1-3 1 3 1-2 1 2 1 2 1 0 1-1 1-2 1-2 1 3 1 1 1 0 1-4 1 3 1 1 1-3 1 5 1-3 1 0 1 0 1 3 1-5 1-2 1 7 1-3 1-2 1-3 1 6 1 1 1-2 1-5 1 5 1-1 1-3 1 9 1 0 1-7 1 0 1 5 1-4 1 1 1-1 1 3 1-1 1 1 1-2 1 0 1-4 1 2 1 6 1-5 1-3 1 3 1-2 1 3 1-2 1 4 1-4 1 5 1-6 1 7 1 1 1-7 1 2 1-1 1 0 1 1 1 2 1-3 1 0 1-1 1-3 1 7 1-2 1-2 1 3 1 2 1-2 1-4 1 3 1-2 1 3 1-2 1 2 1 1 1-3 1 0 1-3 1 8 1-6 1-2 1 0 1 5 1 0 1 0 1-2 1 0 1 0 1-1 1 4 1 0 1 1 1 0 1-3 1-1 1-6 1 5 1 1 1-3 1 5 1-2 1-2 1 0 1 1 1 2 1 3 1-3 1 1 1-3 1 2 1-2 1 5 1-6 1 4 1 2 1 0 1-2 1-5 1 1 1 5 1-3 1 1 1 3 1-1 1 2 1-3 1 5 1-5 1 1 1-1 1 0 1-5 1 4 1-1 1-2 1 0 1 0 1 4 1 1 1-1 1-1 1-1 1 0 1-3 1 3 1-5 1 2 1 4 1-3 1 9 1-11 1 3 1 0 1 5 1-11 1 8 1-1 1-3 1 3 1 2 1-4 1 5 1-5 1 1 1-2 1 6 1-6 1 2 1-4 1 6 1-6 1 3 1 0 1 4 1-4 1 0 1 4 1 1 1-1 1-6 1 3 1-2 1 2 1 0 1 0 1 2 1-5 1 3 1 0 1 4 1-4 1 2 1 0 1-4 1 5 1-2 1-2 1-2 1 5 1-2 1 0 1 3 1 3 1 0 1-7 1 1 1 4 1-2 1-1 1 0 1-1 1-6 1 8 1-2 1 2 1 0 1 0 1-1 1 0 1-2 1 0 1 3 1-8 1 9 1-5 1-5 1 8 1-6 1 0 1 3 1 6 1-10 1 4 1 2 1-6 1 6 1-6 1 5 1-4 1 5 1-3 1 1 1-1 1-3 1 1 1-2 1-5 1 5 1 6 1-6 1-2 1-4 1-1 1 0 1 5 1-4 1 8 1-12 1 4 1-1 1 4 1-2 1 3 1-6 1 8 1-9 1 2 1-6 1 8 1 1 1-1 1 1 1 1 1 4 1 1 1-2 1-1 1 4 1 0 1-3 1-3 1 4 1-3 1-1 1 2 1 4 1 0 1 6 1-4 1-3 1 5 1-8 1 0 1 6 1-4 1 8 1-1 1-2 1-1 1 1 1 2 1-9 1 5 1 1 1-2 1 2 1 1 1 1 1 3 1-9 1 7 1 2 1-2 1 2 1-10 1 4 1-3 1 0 1 3 1 0 1 3 1-1 1 1 1-2 1 2 1-6 1 2 1 2 1 5 1-7 1-1 1 3 1 4 1-6 1-2 1 10 1-8 1 7 1-6 1-5 1 5 1-1 1 2 1-1 1-7 1 3 1 5 1 0 1-1 1-7 1 6 1-3 1 5 1 3 1-9 1 5 1 2 1 0 1-1 1 0 1 3 1-9 1 3 1-2 1 4 1-2 1 0 1-3 1 1 1 1 1 3 1 2 1-1 1-1 1 0 1 2 1-10 1 5 1 8 1-4 1 1 1-6 1-3 1 7 1-5 1 3 1-5 1-1 1 3 1-1 1 2 1 1 1 3 1-5 1 1 1 1 1-1 1 0 1 3 1-2 1-6 1 5 1-7 1 10 1 1 1-6 1-3 1 5 1-5 1-1 1-1 1 5 1-1 1 6 1-6 1-2 1-4 1 10 1-2 1 1 1-8 1 14 1-6 1-14 1 6 1 8 1-5 1-4 1 1 1 3 1 2 1-7 1 3 1-4 1 2 1 4 1-9 1 8 1-4 1 4 1-2 1 0 1 2 1-5 1-5 1-3 1 2 1 7 1-8 1 5 1-7 1 14 1-13 1 10 1-9 1 7 1-7 1 6 1 7 1-4 1-4 1-2 1 11 1-6 1-2 1-3 1-3 1 5 1 3 1-10 1 3 1-7 1 7 1-6 1 8 1-7 1 0 1-2 1 7 1-5 1 3 1-4 1-5 1-15 1 17 1-5 1 3 1-7 1 3 1-4 1 3 1-13 1 5 1 19 1-14 1 0 1 14 1-10 1-4 1 1 1-8 1 12 1-19 1-2 1 1 1 3 1-4 1 1 1-14 1 2 1-14 1 16 1-17 1 14 1-6 1 4 1-17 1 2 1-9 1-12 1 10 1-8 1-9 1 5 1 1 1-14 1-6 1-8 1-5 1 11 1-17 1-14 1 14 1-15 1 6 1-15 1-25 1 13 1 9 1-22 1-5 1-17 1 27 1-12 1-17 1 15 1-43 1 39 1-22 1 5 1-17 1-27 1-2 1-9 1 0 1 36 1-40 1 30 1-24 1-5 1-1 1-19 1 18 1-43 1 16 1-11 1 7 1-1 1 15 1-30 1 49 1-22 1 10 1 6 1-6 1 20 1-22 1 5 1 15 1-6 1 31 1 16 1-13 1 0 1-34 1 44 1-12 1 9 1-12 1 34 1-1 1 17 1 15 1 8 1 3 1-21 1 20 1 12 1 4 1 13 1 0 1 6 1-2 1 4 1 33 1-14 1-6 1 29 1-2 1 1 1-3 1 10 1 12 1-2 1 0 1 10 1-7 1 15 1 16 1 1 1-1 1 4 1-2 1 5 1-6 1 9 1-1 1 16 1 0 1-4 1 6 1-1 1 4 1 6 1-9 1 4 1 14 1-3 1-1 1-2 1 5 1 5 1-7 1 5 1-4 1 4 1-1 1 1 1 0 1 5 1-4 1 3 1 5 1-2 1 0 1-2 1 0 1 5 1-4 1 2 1 2 1-4 1 4 1 1 1-4 1 0 1 3 1-3 1 0 1 3 1-5 1 5 1-1 1 6 1-7 1 3 1-2 1 4 1-5 1-1 1-1 1 9 1-6 1 0 1 6 1-3 1-2 1-3 1 5 1-2 1 0 1-1 1 2 1-3 1 0 1 5 1-5 1 4 1-1 1-3 1 2 1-1 1 0 1 0 1 2 1 1 1-3 1 0 1 1 1 1 1-2 1 1 1 3 1-3 1-1 1 0 1 3 1 0 1-2 1 1 1 0 1-2 1 1 1-3 1 3 1-3 1 1 1-2 1 4 1 1 1-3 1 3 1 0 1-1 1 0 1 3 1-3 1 1 1 0 1-1 1 1 1-2 1 1 1 1 1-1 1-1 1 0 1-1 1 3 1-1 1-3 1 4 1-4 1 2 1 2 1 2 1-4 1 3 1 0 1 2 1-6 1 2 1 1 1-1 1 0 1 0 1 0 1 1 1 4 1-6 1 1 1 1 1-3 1 5 1 2 1-7 1 2 1 4 1-3 1-1 1 3 1-3 1-3 1 1 1 3 1-1 1 2 1-1 1 0 1 2 1 0 1-6 1 4 1 2 1-1 1-4 1 0 1 4 1-1 1-2 1 3 1 1 1 0 1-2 1 1 1 1 1-2 1-2 1 1 1 1 1-3 1 4 1-1 1 2 1-3 1 1 1 3 1-2 1-4 1 2 1 1 1-1 1 4 1-1 1 0 1 0 1-1 1-2 1-1 1 0 1-2 1 5 1-1 1-1 1 3 1-1 1-2 1 3 1-3 1-1 1 4 1 2 1-4 1 2 1-2 1 1 1-1 1-2 1 1 1 2 1 1 1 2 1 0 1-2 1-2 1 1 1 0 1 2 1 0 1 0 1-4 1 5 1-5 1 3 1-2 1 0 1-1 1 0 1 3 1 0 1-1 1 1 1-3 1 2 1 0 1-1 1 1 1-2 1 5 1-4 1 0 1 2 1 0 1-3 1 2 1 3 1-1 1-4 1 3 1-3 1 0 1 2 1-1 1 2 1-1 1 1 1-2 1 3 1-2 1 0 1-1 1 4 1 0 1-2 1-1 1 0 1 0 1-3 1 2 1 0 1 2 1-2 1 0 1 0 1 1 1-1 1-1 1 3" fill="none" stroke="#00f" stroke-width="2.2" stroke-linejoin="round" vector-effect="non-scaling-stroke"/>
<path transform="matrix(0.17500 0 0 0.303600 647.700 469.200)" d="M760 -855l1-80 1 2 1 26 1 6 1-86 1 87 1 21 1-20 1-26 1 31 1-6 1-18 1 20 1-15 1 5 1 28 1-31 1 34 1-56 1 51 1-19 1 43 1-37 1 22 1-73 1 44 1-17 1 61 1-13 1-29 1 32 1-66 1 41 1-14 1-4 1 13 1-25 1 39 1-27 1-22 1 27 1 2 1 13 1-10 1-16 1 24 1 39 1-49 1 9 1-16 1 11 1-40 1 74 1-6 1-42 1 45 1-36 1 9 1 52 1-69 1-18 1 31 1 43 1-58 1 49 1-24 1-14 1 32 1 24 1-40 1-3 1 22 1-2 1-39 1 22 1 10 1 4 1-20 1 2 1 8 1 32 1-26 1 7 1-18 1-28 1 5 1 9 1 14 1 12 1-17 1 21 1-3 1 14 1-21 1 1 1-50 1 34 1 25 1-30 1 33 1-38 1 6 1-54 1 103 1-26 1 2 1-11 1-10 1 44 1-6 1-26 1-17 1 54 1 12 1-70 1 8 1-6 1 54 1-20 1-10 1-6 1 15 1-1 1-27 1 37 1 3 1-2 1 2 1-16 1 9 1 6 1-47 1 29 1 17 1-41 1 47 1-14 1 3 1 12 1-4 1-12 1 39 1-26 1-16 1 0 1-1 1-51 1 43 1 21 1-1 1-2 1-11 1 19 1-46 1 67 1-44 1 4 1 42 1-45 1 2 1 31 1-74 1 41 1 26 1 4 1 7 1-25 1 6 1 37 1-9 1-8 1-7 1-1 1 8 1-33 1-7 1 22 1 57 1-50 1-18 1 16 1-8 1 5 1 40 1 26 1-78 1 28 1-23 1 19 1-3 1-38 1 64 1-29 1 27 1-29 1-9 1-5 1 13 1 39 1-40 1-16 1-2 1-29 1 40 1 40 1-12 1-15 1-24 1 55 1-51 1 7 1 38 1-36 1 34 1-18 1 7 1-13 1 36 1-42 1 67 1-43 1 4 1-53 1 26 1 26 1 10 1-22 1 16 1-70 1 124 1-70 1 63 1-86 1 46 1-59 1 53 1-40 1 22 1-24 1 29 1 75 1-56 1 21 1-61 1 10 1 13 1-10 1 6 1 20 1-62 1 42 1 11 1 32 1-21 1-15 1 5 1 8 1-10 1 26 1-27 1 38 1-16 1-3 1-39 1 10 1 10 1 30 1-18 1-29 1-11 1 68 1-26 1-13 1-5 1 8 1-15 1 52 1-74 1 67 1-29 1-11 1-16 1 7 1 1 1-10 1 36 1-22 1-19 1 56 1 16 1-9 1-59 1 5 1 39 1-14 1-6 1-14 1 73 1-33 1-7 1-13 1 6 1 10 1-15 1 71 1-138 1 55 1-1 1 38 1-26 1-40 1 6 1 43 1 33 1-34 1 11 1-28 1 53 1-27 1-10 1 18 1-37 1 54 1 3 1-22 1-28 1 28 1 7 1-34 1 15 1 18 1-15 1 9 1-20 1 11 1 24 1-8 1-1 1-19 1 0 1 30 1-15 1-12 1-19 1 21 1-41 1 47 1-17 1 26 1 17 1-27 1-9 1 4 1 5 1 12 1 12 1-12 1-19 1-11 1 104 1-95 1-11 1-4 1 21 1-6 1 27 1-8 1-15 1 40 1-7 1-24 1 38 1-34 1 38 1-41 1 5 1 14 1 10 1-10 1 42 1-44 1-12 1-27 1 42 1-7 1-38 1-8 1 54 1-37 1-3 1 17 1 36 1 0 1-37 1-42 1 61 1-42 1-8 1 77 1-16 1-50 1 13 1 11 1 13 1-15 1 31 1-75 1 88 1 16 1-47 1-31 1 48 1-11 1 24 1-23 1 23 1 0 1 12 1-22 1-58 1 47 1-6 1-49 1 70 1 9 1-37 1 43 1-37 1-20 1 54 1-13 1-53 1 67 1-9 1-22 1 14 1 13 1-59 1 53 1-22 1 19 1-4 1 27 1-55 1 33 1-40 1 59 1-16 1-23 1 9 1 19 1-13 1 29 1-33 1 66 1-68 1-28 1 12 1 1 1 31 1-22 1 22 1-7 1 0 1 79 1-103 1 12 1-9 1 43 1-39 1 5 1 66 1-11 1-43 1 17 1-15 1 15 1-51 1 82 1-13 1-9 1 10 1-18 1-13 1 31 1-40 1-22 1 5 1-21 1 21 1 28 1-43 1 26 1-28 1 50 1 46 1-23 1-31 1-9 1 18 1-28 1 51 1-10 1-40 1 22 1 0 1-31 1 7 1 45 1-23 1 46 1-40 1-10 1 51 1-78 1-10 1 36 1-10 1-14 1 40 1-28 1 16 1 45 1-14 1-8 1-39 1 24 1-21 1 35 1 19 1-79 1-15 1 55 1 14 1-32 1 54 1-21 1 30 1-45 1 5 1 16 1 6 1 21 1-16 1-48 1 38 1-37 1 51 1-17 1 10 1-4 1-22 1 68 1-64 1 3 1 18 1 1 1 9 1-19 1 17 1 23 1-21 1-16 1 16 1 10 1-1 1 18 1 2 1 34 1-36 1-24 1 33 1 14 1-38 1 19 1 3 1-5 1-3 1 19 1 20 1-55 1 40 1 20 1-19 1-20 1 61 1-58 1 34 1-45 1 32 1 19 1-27 1 2 1 38 1-11 1 19 1-29 1 53 1-24 1 44 1-56 1 63 1-23 1-26 1 15 1 5 1 13 1-8 1 29 1-41 1-8 1 3 1 20 1-24 1 18 1-8 1 14 1 10 1 19 1 41 1-66 1 18 1-41 1 84 1-55 1 39 1-17 1 20 1-23 1 10 1-16 1 17 1-4 1-13 1 17 1 15 1-25 1 30 1-8 1 17 1 9 1 48 1-70 1 38 1-35 1-18 1 63 1-41 1 21 1-8 1 34 1-22 1-1 1-23 1-12 1 36 1 14 1-48 1 46 1-1 1-2 1-6 1-4 1 25 1-8 1-37 1 6 1 22 1 4 1 10 1-23 1 30 1-11 1 11 1 4 1-12 1 1 1 12 1-10 1-2 1 11 1 4 1-10 1-15 1-8 1 18 1 9 1-5 1-36 1 19 1 35 1-17 1 9 1-3 1 25 1-32 1 26 1-15 1-39 1 9 1 36 1 3 1-3 1 19 1-17 1-14 1 15 1-34 1 15 1 10 1-43 1 19 1 12 1-33 1 10 1 38 1-19 1 14 1 19 1-63 1 8 1 52 1-33 1 40 1-51 1 21 1 5 1-29 1 23 1 5 1-22 1 23 1-22 1 16 1-15 1 4 1-3 1 34 1-55 1 39 1-36 1 44 1-6 1 0 1-27 1 30 1-16 1 38 1-21 1-13 1 6 1 33 1-44 1 27 1-54 1 40 1-46 1 30 1 4 1 18 1-7 1-11 1 45 1-55 1 41 1-17 1 46 1-60 1-5 1 8 1 0 1 13 1-10 1-20 1 31 1-17 1-5 1 19 1-9 1 0 1 14 1-56 1 55 1-41 1 12 1 59 1-43 1-15 1 4 1 33 1-22 1 27 1-3 1-15 1-8 1-27 1 24 1-13 1 43 1-1 1-13 1-42 1 59 1 4 1-28 1-24 1 53 1-26 1 21 1-53 1 14 1 8 1 6 1 4 1-7 1 15 1 5 1 4 1-21 1 15 1-32 1 57 1-51 1 1 1-13 1 28 1 24 1-11 1-39 1 27 1 2 1 3 1-9 1 3 1 25 1-18 1-31 1-8 1 30 1 8 1-36 1 29 1 19 1-20 1-15 1-17 1 39 1-19 1 16 1-28 1 17 1 0 1 24 1-13 1 0 1 63 1-85 1 17 1 3 1 3 1-7 1-4 1 29 1-27 1 0 1 2 1 29 1-26 1 22 1-31 1-18 1 8 1 23 1 4 1 1 1-18 1 20 1-3 1 38 1-32 1-1 1-4 1-34 1 49 1 0 1-37 1 30 1-15 1-7 1 3 1 15 1-32 1-11 1 48 1-14 1-23 1 22 1 15 1-11 1-24 1 35 1-24 1-2 1 20 1-24 1-1 1-7 1 2 1 46 1-46 1 6 1-7 1 35 1-34 1 11 1 29 1-46 1 39 1 4 1-27 1 19 1-18 1 12 1-10 1-11 1 17 1-17 1 0 1 32 1-32 1 4 1 10 1-19 1-10 1 17 1 42 1-36 1 11 1 3 1-12 1 13 1-37 1 25 1 5 1-14 1 0 1-8 1 11 1 12 1-3 1 44 1-13 1-48 1 26 1-40 1 0 1 58 1-30 1-49 1 70 1-22 1 12 1 0 1 1 1-5 1-15 1 30 1-25 1 23 1-23 1 4 1 20 1-17 1 17 1 2 1-38 1 56 1-45 1-3 1 25 1-32 1 4 1 42 1-35 1 1 1 23 1-25 1-3 1 28 1 24 1-45 1 21 1 19 1-25 1 38 1-39 1-35 1 82 1-62 1 26 1-10 1 10 1-29 1 12 1 15 1 10 1-17 1-30 1 45 1-31 1 2 1 44 1-59 1 22 1-43 1 9 1 38 1-2 1 16 1 7 1-41 1 20 1 3 1-4 1-16 1-5 1 18 1 3 1-5 1-38 1 79 1-17 1-31 1 6 1-20 1-2 1-12 1 53 1-27 1 16 1-22 1 15 1-13 1 31 1-17 1 13 1-4 1 4 1 11 1-40 1 16 1-15 1 40 1 19 1-25 1-9 1-17 1-5 1-3 1-5 1 15 1 13 1 16 1-27 1 23 1 6 1-25 1 7 1-12 1 30 1-35 1 16 1 10 1 12 1 6 1 6 1-52 1 54 1-39 1 17 1 7 1-2 1-6 1-19 1 7 1 11 1 26 1 8 1-68 1 54 1 11 1-50 1 50 1-42 1-3 1 13 1-13 1 45 1-3 1-19 1-3 1 2 1-10 1 23 1 26 1-47 1 13 1-19 1-23 1 37 1-9 1 28 1-33 1 11 1 2 1-12 1 38 1-31 1 3 1-21 1 63 1-31 1-42 1 48 1 1 1-40 1-13 1 44 1 16 1-2 1-3 1 9 1-1 1-17 1 3 1-8 1 9 1 23 1-36 1 10 1 15 1-5 1-10 1 4 1 5 1-16 1-5 1 25 1-5 1 20 1-16 1-12 1-6 1 13 1 5 1 12 1-17 1 24 1-22 1 3 1 17 1-22 1 10 1-14 1 20 1-18 1-19 1 26 1-11 1 26 1-5 1 28 1-31 1 18 1-22 1 40 1-22 1-16 1-5 1 37 1-22 1-53 1 32 1 11 1 53 1-33 1-25 1 5 1-3 1-9 1 16 1-13 1 47 1-76 1 50 1 7 1-38 1 16 1-6 1 29 1-16 1-7 1 33 1-16 1 1 1 1 1 8 1 10 1-30 1 4 1-16 1 22 1 11 1 14 1-27 1 8 1-41 1-5 1 13 1 45 1 9 1-21 1 12 1-40 1 23 1 10 1-7 1-22 1 39 1-25 1 33 1-20 1 9 1-17 1 3 1-18 1 9 1 23 1 13 1-8 1-7 1-3 1 10 1-32 1 3 1 21 1 4 1-4 1-3 1 0 1 28 1-20 1 25 1-32 1-11 1 30 1-21 1 14 1 2 1-46 1 19 1 8 1 16 1-15 1 11 1-11 1 24 1-14 1 6 1 18 1-53 1 15 1 28 1 12 1-12 1 2 1-3 1 15 1-11 1-15 1-6 1 42 1-34 1 17 1 2 1-12 1 6 1-23 1 0 1 18 1 6 1-42 1 0 1 25 1 10 1-20 1-7 1 34 1-39 1 34 1-21 1 27 1-9 1 9 1-8 1-16 1 33 1-10 1-14 1 17 1-42 1 60 1-68 1 55 1-28 1-10 1 19 1 33 1-18 1-7 1-8 1-6 1-2 1-6 1 41 1-32 1 47 1-32 1 21 1 12 1-45 1 16 1-17 1 44 1-6 1-18 1 10 1-12 1 12 1-5 1 14 1-41 1 28 1 15 1-31 1 3 1 5 1 0 1 11 1-4 1 35 1-10 1-5 1-26 1-15 1 24 1 2 1-23 1 25 1-17 1 4 1 30 1-27 1 2 1 23 1-1 1 4 1-44 1-12 1 24 1-14 1 49 1-45 1-9 1 6 1 43 1-33 1 20 1-19 1 29 1-11 1 11 1-17 1 10 1-20 1 5 1 7 1 8 1 5 1-5 1-12 1 11 1-2 1 6 1 1 1 10 1 20 1-40 1 1 1 25 1-46 1 51 1-35 1 13 1-1 1-12 1 4 1 16 1 19 1 4 1-21 1-20 1 14 1 17 1-4 1-2 1-14 1 42 1-20 1 10 1 19 1 7 1-32 1 17 1 11 1-1 1-11 1 17 1-20 1 31 1 11 1-7 1 15 1-5 1-20 1-4 1 19 1 9 1 19 1 4 1-16 1 6 1 13 1 1 1-24 1 11 1 15 1 1 1-10 1 15 1 4 1 27 1 4 1 6 1 7 1-25 1-1 1 17 1-13 1 3 1 10 1 19 1-31 1 4 1 26 1-26 1 25 1 12 1-1 1 19 1-14 1 17 1-27 1 12 1 21 1-17 1 26 1-16 1 0 1 7 1 15 1-7 1 4 1 0 1-10 1 2 1 4 1 22 1 4 1-4 1-1 1 24 1-10 1-17 1 26 1-3 1 1 1-8 1 6 1 2 1 10 1-16 1 5 1 5 1-5 1-5 1 17 1 0 1-4 1-1 1 17 1-19 1-13 1 11 1-10 1 30 1-21 1-11 1-2 1 16 1 2 1-9 1 12 1-6 1 10 1-13 1 0 1-12 1 9 1 8 1-4 1 9 1-10 1 2 1-5 1-4 1 22 1-17 1-3 1 14 1-23 1 20 1-24 1 13 1-2 1 5 1-5 1 15 1-1 1 8 1-18 1 9 1-11 1 1 1 15 1-16 1 4 1 0 1-2 1 4 1 0 1-8 1 15 1 2 1-3 1-14 1 10 1-16 1 37 1-18 1-2 1-5 1-8 1 11 1 7 1-14 1-6 1 31 1-23 1 2 1 8 1-2 1-6 1 2 1 2 1 7 1-11 1 7 1-5 1 5 1-6 1-4 1 4 1-4 1 16 1-14 1 1 1 7 1-3 1 19 1-21 1 4 1 13 1-20 1 8 1-6 1 3 1-5 1 3 1 3 1-6 1-2 1 23 1-17 1 4 1 4 1-18 1 3 1 15 1 0 1-14 1 11 1-3 1 13 1-14 1-9 1 11 1-2 1-14 1 7 1-5 1 6 1-4 1 21 1-6 1 6 1-28 1 15 1 2 1 5 1 2 1 13 1-37 1 17 1-1 1 11 1-10 1-3 1 3 1-5 1 11 1-9 1-4 1 2 1 2 1 3 1 7 1-12 1 7 1 5 1-13 1 18 1-8 1-10 1-1 1 9 1-3 1-3 1 4 1 5 1-8 1 2 1 0 1-7 1 6 1 5 1-4 1-13 1 19 1-3 1 4 1-9 1 12 1-12 1-3 1 12 1 0 1 5 1-11 1 8 1-3 1-2 1 2 1-11 1-5 1 27 1-10 1-8 1 10 1-4 1-5 1-9 1 2 1 11 1-4 1 4 1-1 1 7 1 4 1-10 1-10 1 2 1 19 1-12 1 3 1-6 1 10 1-15 1 8 1-6 1-2 1 21 1-13 1-12 1 11 1-8 1 5 1 6 1-5 1-6 1-2 1-1 1 19 1-14 1 16 1-9 1 1 1-7 1 3 1-7 1 14 1-11 1 3 1 3 1 9 1-13 1 2 1-4 1 6 1 2 1-5 1 0 1-2 1-9 1 19 1-19 1 36 1-29 1 13 1-20 1 21 1-14 1 15 1 1 1-14 1-1 1 12 1-23 1 20 1-14 1 19 1 0 1-8 1 8 1-11 1 19 1-17 1 6 1 3 1-9 1 3 1 2 1-9 1 4 1-1 1-7 1 10 1-6 1 9 1-7 1 0 1 8 1 7 1-2 1-2 1-11 1 5 1 1 1-5 1-2 1-5 1 14 1-8 1-1 1 12 1-8 1 8 1-5 1-5 1 16 1-6 1-1 1-6 1 6 1-8 1 9 1-3 1-8 1 2 1 2 1 1 1-7 1-3 1 13 1 3 1 2 1-19 1 18 1 4 1-11 1-6 1 17 1-8 1 9 1-5 1-16 1 11 1 3 1-2 1-1 1 3 1 8 1 1 1-22 1 20 1-13 1 14 1-13 1 4 1 7 1-14 1 20 1-4 1 5 1 0 1-2 1 4 1-3 1-12 1 22 1-3 1-1 1-2 1-9 1 3 1 2 1 2 1-12 1 21 1 1 1-6 1-1 1 4 1 4 1 3 1-5 1 3 1-1 1 4 1-13 1 6 1-7 1 13 1-2 1 2 1-1 1 2 1 0 1 10 1-8 1-4 1 13 1-7 1-3 1-3 1 7 1-2 1-5 1 3 1 8 1 1 1-6 1 4 1 4 1-1 1-1 1 2 1 1 1 1 1 5 1-11 1 2 1 0 1 6 1 0 1-1 1 0 1 9 1-6 1 5 1-2 1 2 1-6 1 4 1 2 1-3 1 4 1 2 1-1 1 1 1-1 1-1 1 2 1 0 1-2 1 1 1-1 1 2 1 2 1 0 1 1 1-5 1 1 1 2 1 1 1-3 1 1 1-1 1 2 1 1 1-5 1 5 1-2 1-3 1 6 1-4 1 1 1 0 1-1 1 3 1 2 1-8 1 4 1-2 1 0 1 1 1 0 1-1 1-1 1 2 1-2 1 3 1 0 1 0 1-1 1 0 1-3 1 2 1 2 1-4 1 3 1 0 1 0 1 1 1 2 1-3 1 1 1 1 1-2 1 1 1 1 1 2 1-3 1-4 1 2 1-1 1 3 1-3 1 4 1-1 1-2 1 4 1-3 1 0 1-3 1 5 1-2 1 2 1-1 1 4 1-3 1-4 1 1 1 1 1-4 1 3 1 4 1-2 1-1 1-3 1 5 1-3 1-1 1 4 1-2 1 4 1-4 1 4 1-3 1-4 1 2 1 1 1 0 1-4 1 3 1-1 1 3 1 0 1 1 1-2 1 1 1-3 1 1 1 1 1 1 1 4 1-4 1-2 1 0 1 6 1 0 1-5 1 2 1-2 1 1 1-2 1 5 1-3 1-3 1 2 1 2 1-3 1 0 1 3 1-3 1 0 1 1 1-2 1 4 1-4 1 2 1 2 1-1 1-3 1 3 1 0 1 0 1 0 1-3 1-3 1 2 1 2 1-1 1 3 1 0 1 1 1-5 1 4 1 0 1 0 1-2 1 2 1-1 1-1 1-2 1 5 1-3 1 2 1 0 1-5 1 2 1 3 1-2 1 1 1-3 1 4 1-2 1 1 1 0 1 0 1 1 1-2 1-1 1 3 1-1 1-1 1 2 1-3 1 0 1 6 1-3 1 1 1-4 1 0 1 4 1-1 1-1 1 0 1-2 1 0 1 0 1-1 1 1 1 2 1 0 1 1 1-3 1 0 1-1 1 3 1 0 1-1 1-2 1 2 1 0 1 2 1-2 1-1 1 3 1-5 1 5 1-4 1 3 1-1 1 2 1 0 1-3 1 2 1 0 1-2 1 0 1 1 1 0 1-3 1 4 1-1 1-1 1 4 1 1 1-4 1-2 1 2 1 1 1 1 1-3 1 2 1 3 1-5 1 1 1-1 1-1 1-1 1 2 1 2 1 4 1-5 1 1 1-4 1 0 1 2 1-2 1 3 1 0 1 2 1-1 1-1 1-2 1 4 1-4 1-3 1 8 1-2 1-1 1-2 1-2 1 1 1 3 1 2 1-2 1 0 1 0 1 2 1-5 1 5 1-3 1 1 1 2 1-2 1 0 1 0 1-2 1 3 1-7 1 4 1 4 1 3 1-8 1 2 1 1 1 2 1 1 1 1 1-10 1 2 1 5 1-5 1 8 1-6 1 0 1 4 1-1 1 1 1-2 1-3 1 1 1 1 1-2 1 7 1-9 1 5 1 3 1-2 1 0 1-1 1-1 1 6 1-8 1-1 1 6 1-5 1 0 1 1 1-2 1 7 1-5 1 4 1-8 1 8 1 0 1-5 1 1 1 2 1-1 1-1 1-2 1 5 1 0 1 0 1-1 1 0 1 3 1-4 1 4 1-3 1 0 1 0 1-4 1 0 1 1 1-1 1 4 1-4 1 4 1-1 1 0 1 4 1-2 1-1 1-1 1 1 1 2 1 0 1-2 1 2 1 0 1-2 1-1 1 2 1 3 1-5 1-1 1 2 1 0 1 5 1-8 1 5 1-4 1 3 1-1 1 0 1 4 1-11 1 10 1-4 1 2 1-1 1-4 1 8 1-4 1-2 1 1 1-1 1 3 1 2 1-1 1-2 1-2 1 1 1-3 1 3 1 0 1 0 1 4 1-5 1 4 1-2 1-6 1 8 1-3 1 0 1 0 1 0 1 2 1-6 1 9 1-2 1-6 1 2 1 3 1 0 1-1 1-7 1 5 1 4 1-3 1 2 1-5 1 2 1-2 1 3 1-5 1 4 1 0 1 4 1-2 1-2 1 2 1-7 1 6 1 2 1-4 1 3 1-2 1 1 1 2 1-5 1 3 1-3 1 4 1 2 1 0 1-2 1-1 1 0 1-1 1 4 1-4 1 4 1-1 1-8 1 3 1 4 1-5 1 1 1 1 1-2 1 5 1-1 1 2 1-3 1 4 1-2 1-2 1 2 1-2 1-3 1 6 1-5 1 5 1 0 1-3 1-2 1 5 1 0 1-1 1 1 1-3 1 3 1-2 1-1 1 2 1-4 1 4 1 1 1-7 1 1 1 4 1-2 1 1 1 2 1-3 1 1 1-2 1 7 1-6 1 1 1 2 1 0 1 0 1 2 1-2 1-3 1 5 1-2 1 4 1-4 1-2 1 1 1 0 1 2 1-4 1 4 1-5 1 2 1 2 1-5 1 5 1-4 1 2 1 1 1-3 1 1 1 2 1 0 1-1 1 0 1 1 1 2 1 4 1-6 1 0 1-3 1 1 1-1 1-2 1 5 1 2 1-5 1 4 1-1 1-4 1 2 1-1 1 6 1-4 1-2 1 6 1-4 1-1 1 7 1-10 1 6 1-1 1-5 1 9 1-6 1 2 1-1 1 2 1-5 1 6 1-4 1 0 1 2 1 0 1 0 1-3 1 1 1 1 1 3 1-3 1-1 1 1 1-3 1 8 1-11 1 7 1 2 1 2 1-7 1 1 1 2 1-1 1 0 1 1 1-4 1 1 1 2 1 4 1-8 1 5 1 1 1-7 1 2 1 7 1-1 1-4 1 2 1-3 1-9 1-2 1 9 1-4 1-1 1 3 1 4 1-10 1 3 1-3 1-3 1 5 1-12 1 6 1-2 1 1 1-7 1-3 1 6 1-7 1 3 1 3 1-7 1-7 1-1 1-5 1 9 1-3 1-4 1-5 1 4 1 4 1 4 1-19 1 1 1 11 1-14 1 10 1-3 1-5 1 12 1 2 1 7 1-12 1 1 1-1 1 3 1 4 1-4 1 14 1-7 1 1 1 6 1-8 1 8 1-3 1 4 1 7 1-8 1 5 1 7 1 2 1 4 1-2 1 1 1 0 1 3 1-3 1 3 1 6 1-3 1 2 1 2 1-3 1-3 1 6 1 3 1-5 1-8 1 10 1-2 1 2 1-4 1-1 1 4 1-3 1 6 1-4 1 4 1-3 1 2 1-3 1 4 1-3 1 0 1 2 1 0 1 1 1-2 1-2 1 1 1 0 1-3 1 4 1-2 1-1 1 1 1 0 1 1 1-5 1 5 1 1 1-3 1-2 1 0 1 4 1-2 1 1 1 1 1-2 1 0 1 1 1-4 1 6 1-5 1-2 1 0 1 5 1 1 1 4 1-4 1-7 1 10 1 0 1-6 1 1 1 6 1-5 1-1 1 5 1-7 1 7 1-7 1 2 1 3 1 2 1-3 1-1 1 0 1 1 1-1 1-3 1 5 1-2 1-2 1 1 1-2 1-2 1 5 1-2 1 9 1-7 1-3 1 5 1-7 1 9 1-10 1 6 1 1 1-2 1 0 1 2 1 1 1-3 1-5 1 2 1-3 1 6 1-1 1 0 1-2 1-1 1-4 1 3 1 2 1-5 1 7 1 2 1-7 1 2 1 0 1-3 1 4 1-1 1-2 1-1 1-2 1 3 1 0 1 9 1-13 1 9 1-5 1-10 1 10 1 5 1-13 1 8 1-1 1-1 1-4 1 0 1 3 1-5 1 8 1-7 1 5 1-6 1 5 1-1 1-8 1 10 1 0 1-8 1 3 1 1 1-2 1-11 1 14 1-4 1-3 1 5 1-5 1-3 1 6 1-11 1 11 1-6 1-3 1-16 1 25 1-12 1-13 1 16 1-11 1 4 1 8 1-12 1 7 1-8 1 8 1-15 1 18 1-16 1-12 1 3 1 4 1-4 1-1 1-26 1 18 1-4 1 3 1-6 1-13 1 6 1-2 1-7 1-6 1-10 1 0 1-8 1-1 1-26 1 5 1-3 1-14 1-4 1 9 1-24 1-32 1 5 1-19 1 14 1 1 1-22 1-40 1 22 1-15 1-41 1 8 1-13 1-23 1-9 1-8 1-23 1 2 1-26 1-28 1 17 1-31 1 3 1-51 1-13 1-22 1-17 1-15 1-9 1 17 1-51 1 26 1-85 1 31 1-20 1 29 1-65 1-14 1 53 1-35 1-12 1-5 1-58 1-27 1 70 1-59 1 26 1-46 1 94 1-48 1-38 1 52 1-44 1 47 1-34 1 20 1 32 1 17 1-5 1-21 1 38 1 27 1-80 1 125 1-18 1-3 1 49 1-8 1 23 1 38 1-25 1 48 1 8 1-24 1 63 1-18 1 6 1 20 1 26 1 28 1 36 1-11 1 10 1 31 1 23 1-15 1 44 1-9 1 27 1 30 1-33 1 26 1 13 1 37 1-6 1 6 1 23 1-18 1 50 1-20 1 35 1 5 1 4 1-10 1 19 1 6 1 8 1 10 1 1 1 5 1 0 1 5 1 18 1-8 1-8 1 14 1 1 1 7 1 2 1-1 1 9 1-4 1 9 1-7 1 10 1-8 1 0 1 12 1-7 1 5 1-5 1 7 1 0 1 1 1-4 1 10 1-7 1 2 1 2 1 0 1-3 1 1 1-2 1 6 1 3 1-3 1-1 1 1 1-3 1-2 1 4 1 4 1-5 1 3 1-1 1-2 1 1 1 1 1 0 1-1 1 0 1-3 1 9 1-3 1 0 1-3 1 1 1-1 1 4 1-2 1-2 1 2 1 0 1-1 1-3 1 8 1-7 1 2 1 2 1-3 1 2 1-3 1 4 1-3 1 3 1-2 1-1 1 2 1-2 1 3 1-3 1 3 1 0 1-1 1 0 1 1 1-3 1 2 1-1 1 4 1-1 1-2 1 2 1-2 1-1 1-1 1-1 1 1 1 3 1-2 1 2 1-2 1 3 1-5 1 2 1 1 1 2 1-3 1 2 1-2 1 2 1 0 1-2 1-2 1 5 1-2 1-1 1 1 1 1 1-5 1 6 1-3 1 2 1-1 1 4 1-6 1 2 1 2 1-5 1 4 1 0 1 1 1-4 1 2 1 1 1 2 1-1 1-3 1 1 1 4 1-2 1-2 1-5 1 7 1 2 1-5 1 2 1 2 1-4 1 2 1 1 1 1 1-3 1 0 1 3 1-5 1 5 1-5 1 2 1 1 1-1 1 1 1-1 1-3 1 4 1-2 1 3 1-2 1-1 1 3 1-2 1 4 1-2 1-1 1-2 1 0 1 3 1-1 1-1 1 3 1-3 1-2 1 0 1 3 1 0 1 1 1-1 1 0 1-2 1 1 1 2 1-3 1 0 1 3 1-1 1 0 1 2 1-3 1-1 1-2 1 3 1 1 1 0 1-1 1-1 1 3 1-2 1-1 1 5 1-6 1 3 1-2 1 2 1 0 1 0 1-1 1-1 1 2 1 2 1-1 1 0 1-3 1 3 1-4 1 2 1 1 1-2 1 2 1 0 1-2 1 0 1 3 1-5 1 3 1 3 1-2 1-2 1 1 1-1 1-2 1 2 1-2 1 3 1 2 1-4 1 4 1-3 1 1 1 2 1 0 1-1 1-1 1-1 1 2 1-3 1 1 1 3 1 0 1-1 1 1 1-1 1-1 1 0 1-1 1 3 1 0 1 1 1 1 1-2 1-1 1 0 1 0 1-3 1 5 1-2 1 1 1 0 1-3 1 2 1-2 1 4 1-5 1-1 1 5 1-1 1 0 1-1 1 3 1-3 1 0 1 2 1 2 1-2 1 0 1-2 1 2 1 1 1-3 1 1 1-1 1 1 1-2" fill="none" stroke="#f00" stroke-width="2.2" stroke-linejoin="round" vector-effect="non-scaling-stroke"/>
<path transform="matrix(0.17500 0 0 0.303600 647.700 469.200)" d="M760 -948l1 64 1-55 1-15 1 20 1-39 1 53 1-31 1 53 1-34 1 16 1 13 1 8 1-41 1-6 1 30 1 17 1-10 1-45 1 55 1-64 1 77 1-53 1-10 1-15 1 45 1 10 1 18 1-63 1 28 1 10 1-1 1-18 1 6 1-31 1 92 1-82 1 38 1-12 1 7 1-6 1-23 1 15 1 46 1-38 1 2 1-13 1 10 1 3 1-30 1 58 1-89 1 76 1 13 1-49 1-8 1-5 1-5 1 27 1 12 1-8 1 10 1 15 1-58 1-5 1 49 1 7 1 7 1 33 1-27 1-4 1-13 1 27 1 25 1-69 1-29 1 105 1-54 1-27 1 56 1 7 1-39 1 7 1 12 1-62 1 4 1 24 1 19 1 8 1-33 1 31 1-46 1 6 1 51 1-37 1-21 1 25 1 43 1-18 1 2 1-12 1 3 1 11 1-33 1-13 1 52 1 25 1-50 1 11 1-11 1 30 1-26 1 32 1-53 1-16 1 71 1 45 1-56 1 1 1-19 1 5 1-13 1-59 1 88 1-5 1-21 1 62 1-71 1 38 1 23 1-16 1-36 1-9 1-10 1 22 1 31 1-34 1 18 1-65 1 118 1-98 1 23 1 10 1 14 1 13 1 11 1 16 1-96 1 30 1 7 1 9 1 61 1-44 1-10 1-27 1 58 1-34 1 14 1-7 1 22 1-30 1 8 1 52 1-82 1-26 1 83 1-54 1 57 1-12 1-61 1 42 1-34 1 32 1-18 1 31 1-42 1-9 1 30 1 33 1-5 1 16 1-41 1 2 1 33 1-42 1 40 1-64 1 27 1-20 1 61 1 8 1 23 1-66 1 48 1-66 1 33 1-17 1 55 1-18 1-20 1-15 1 54 1-42 1 31 1-43 1 28 1 2 1-19 1-19 1 37 1-38 1 59 1-34 1 38 1-35 1 30 1-25 1-15 1 42 1 22 1-42 1-18 1 8 1 31 1-46 1 30 1-27 1 43 1-34 1-19 1 49 1-10 1-24 1 3 1 5 1 13 1 38 1-40 1 34 1-36 1 64 1-99 1-11 1 38 1 34 1-14 1-31 1 7 1 35 1-49 1 13 1 5 1 24 1-9 1 19 1-23 1 22 1-47 1 29 1-4 1-2 1 0 1 46 1-70 1 31 1 17 1 11 1-7 1-1 1-16 1 23 1-25 1-1 1 22 1-75 1 61 1-11 1 6 1 7 1-21 1-18 1 38 1 21 1-36 1 70 1-60 1 10 1-13 1 48 1-28 1 16 1-12 1-29 1 20 1 11 1-45 1 30 1 53 1-25 1-37 1 0 1 6 1-1 1 30 1-20 1 28 1-8 1 2 1-2 1-12 1-2 1 15 1-48 1 39 1-50 1 14 1 57 1-53 1 58 1-72 1 29 1 34 1 31 1-45 1 25 1-63 1 61 1-26 1-18 1 13 1-6 1 13 1-24 1 42 1-38 1 46 1-35 1 34 1-24 1-20 1-16 1 78 1-26 1 6 1-56 1 53 1-39 1 31 1 24 1-39 1 32 1-47 1-2 1-13 1 60 1-65 1 16 1 70 1-102 1 14 1 70 1-35 1 43 1-30 1-8 1-11 1 37 1-20 1 24 1-33 1-7 1 15 1-27 1 10 1 10 1-19 1 61 1-30 1 44 1-44 1 12 1-33 1 33 1 5 1-14 1 2 1-16 1 35 1 16 1 3 1-69 1 61 1-20 1 17 1-50 1 37 1-45 1 49 1-25 1-11 1-5 1 54 1-20 1-7 1 44 1-63 1 8 1-3 1 49 1-40 1-6 1-14 1 39 1-30 1-32 1 61 1-1 1-1 1 29 1-28 1-50 1 65 1-18 1-35 1 16 1 9 1 15 1-6 1-3 1-16 1 15 1-21 1 71 1-67 1 34 1-13 1 11 1-27 1 20 1-18 1 36 1-25 1-26 1 4 1 37 1-12 1 13 1-6 1-3 1-30 1 16 1-21 1-2 1 70 1-39 1 19 1 30 1-13 1-14 1-54 1 40 1 7 1-4 1 18 1-22 1 7 1 38 1-27 1-96 1 68 1 18 1-18 1 41 1-26 1-20 1 62 1-21 1-8 1-3 1 6 1-19 1-18 1 17 1-16 1 0 1 40 1-21 1 16 1-25 1 25 1-3 1-46 1 46 1 34 1-41 1-4 1 20 1-14 1-23 1 38 1-8 1 13 1-25 1 12 1 19 1-18 1-48 1 86 1-7 1-42 1 42 1-81 1 84 1-4 1-19 1-39 1 7 1 6 1 7 1-24 1 76 1-51 1-27 1 61 1-34 1-22 1 0 1 34 1-48 1 33 1-14 1 53 1-8 1 1 1-61 1 99 1-11 1-64 1 16 1 76 1-62 1-2 1-36 1 76 1-33 1-39 1 8 1 42 1-15 1 30 1-67 1 45 1-40 1 13 1 43 1-16 1-17 1 7 1-23 1 12 1 21 1-6 1 35 1 0 1-26 1 9 1 36 1-22 1 19 1-3 1-41 1 55 1-4 1-26 1 13 1 1 1 39 1-30 1 10 1 13 1-4 1-3 1-24 1-21 1 43 1-29 1 33 1 39 1-33 1-25 1 0 1 54 1-68 1 69 1 2 1-2 1-41 1 25 1-9 1 72 1-45 1 3 1-15 1 28 1-34 1 43 1 18 1 8 1-61 1 14 1 35 1-38 1 30 1 1 1 31 1-17 1-12 1 1 1 18 1-30 1-7 1 50 1-23 1 43 1-39 1 32 1-15 1-5 1 12 1-25 1 40 1-4 1-14 1 10 1-3 1 12 1 14 1-27 1 14 1-14 1-7 1 37 1 10 1-3 1 6 1 29 1-70 1 27 1-36 1 59 1-20 1 8 1 8 1-19 1 21 1 3 1-3 1 48 1-29 1 2 1-46 1 22 1-3 1 3 1 17 1-35 1 37 1 24 1-39 1-10 1 21 1-4 1-11 1-11 1 19 1-20 1 27 1-34 1 67 1-44 1 13 1 4 1 27 1-45 1 25 1 15 1-6 1-8 1-6 1 19 1 1 1-26 1 10 1-40 1 46 1-22 1-19 1 37 1-23 1 14 1 4 1-29 1 50 1-8 1 23 1-32 1-21 1 24 1-21 1 30 1-36 1 24 1 7 1-40 1 31 1-11 1 9 1-11 1 11 1 25 1-28 1-4 1 2 1 12 1-39 1 48 1-16 1-1 1 24 1 2 1-35 1 0 1 10 1 33 1-25 1-10 1-7 1-11 1 14 1-9 1-14 1 77 1-64 1 28 1-18 1 5 1 24 1-2 1-26 1 12 1-17 1 21 1-48 1 46 1-45 1 54 1-25 1-11 1 47 1-7 1-26 1-14 1-4 1 15 1-9 1 42 1-14 1-35 1 38 1-6 1 28 1-29 1 27 1-37 1-21 1 22 1 2 1 11 1-18 1 32 1-12 1-50 1 66 1-14 1 16 1-50 1 28 1 19 1 0 1-45 1 8 1-2 1 17 1-19 1-7 1 12 1 43 1 7 1-9 1-33 1 33 1-7 1-22 1 18 1 7 1-42 1 9 1-6 1-2 1-10 1 28 1 3 1 30 1-29 1 7 1-31 1 7 1-15 1 7 1-2 1 13 1 8 1 10 1-7 1 18 1-26 1 9 1 37 1 13 1-37 1-5 1-3 1-31 1 37 1 12 1-31 1-12 1-12 1 50 1-14 1 3 1-36 1 15 1 13 1-13 1 20 1-3 1-3 1 9 1-5 1-11 1 2 1-23 1 11 1 18 1 41 1-14 1-18 1-3 1 18 1-18 1-9 1 14 1-9 1-1 1 12 1 3 1-14 1-7 1 24 1 19 1-20 1-28 1 40 1-48 1 29 1-13 1 17 1-26 1 10 1-6 1 44 1-50 1 45 1-25 1-16 1 13 1-13 1 7 1 1 1 17 1-34 1-2 1 31 1 7 1-21 1 18 1-17 1-12 1 3 1-16 1 20 1 28 1-4 1-26 1-25 1 42 1 11 1-44 1 29 1-15 1-8 1 39 1-12 1 4 1-20 1-2 1 21 1-19 1 43 1-40 1 1 1 6 1 27 1-25 1 18 1-47 1 33 1-2 1-2 1-12 1 9 1-8 1 27 1-38 1 30 1-23 1 9 1-15 1 21 1 26 1-6 1-17 1-30 1 34 1-9 1-22 1 34 1-17 1 1 1 16 1-15 1-15 1 0 1 26 1-61 1 48 1 12 1 8 1 5 1-34 1 69 1-50 1 22 1-22 1-3 1 24 1-6 1-42 1 34 1-10 1 6 1-21 1-7 1 5 1 7 1 0 1 32 1-46 1 35 1 6 1-10 1 8 1-22 1-6 1-10 1 25 1 10 1-6 1 16 1-8 1-50 1 51 1-6 1-20 1 7 1-9 1 30 1 4 1-44 1 37 1-11 1-6 1 38 1-30 1 8 1-21 1 15 1 36 1-56 1 62 1-40 1 5 1-1 1-11 1-18 1 34 1-5 1-25 1 5 1-4 1 7 1 11 1 4 1 0 1-26 1-10 1-9 1 56 1-15 1-5 1 3 1 18 1-61 1 13 1 31 1 5 1-8 1 22 1-15 1-21 1-16 1 14 1-7 1 44 1 41 1-85 1 22 1 5 1-32 1 50 1 0 1-4 1-43 1 13 1 51 1-63 1 30 1-7 1 23 1-49 1 27 1-16 1 43 1-31 1 12 1 6 1 11 1-1 1 9 1-9 1-11 1-11 1 40 1-10 1-7 1 19 1-24 1 0 1-1 1-11 1-9 1 3 1 10 1-6 1 26 1 3 1-28 1 2 1-30 1 45 1 14 1-23 1 14 1 9 1-41 1-10 1 29 1 19 1-16 1 6 1 24 1-40 1 10 1-17 1 34 1-10 1 3 1 29 1-76 1 84 1-17 1-14 1 22 1-35 1 16 1-9 1-3 1 3 1 0 1 5 1-10 1-6 1 19 1 4 1 0 1-13 1 13 1 1 1 20 1-61 1 57 1-52 1 16 1-4 1 15 1-4 1 4 1-5 1-4 1-12 1 46 1-27 1-20 1 5 1 44 1-24 1 1 1 1 1 45 1-56 1 45 1-68 1 28 1 14 1-12 1 9 1 12 1-7 1-8 1 21 1-27 1-7 1 2 1-2 1-2 1 11 1-10 1 22 1-5 1-18 1-9 1 41 1 20 1-64 1 18 1-12 1 17 1 13 1 16 1 6 1-43 1 9 1 12 1 26 1-10 1 2 1-6 1 47 1-55 1-24 1 38 1-10 1-4 1 23 1-25 1 23 1-7 1-12 1 6 1-2 1 18 1-29 1 33 1-34 1 24 1 13 1-20 1 18 1-9 1-6 1-17 1 0 1 6 1 14 1 23 1-23 1 2 1-3 1 7 1 1 1-24 1 39 1-24 1-22 1 37 1 4 1-13 1 2 1-10 1-19 1 26 1-11 1 20 1-1 1-14 1 18 1-33 1 29 1-4 1 16 1-11 1 11 1-9 1 23 1-31 1-30 1 64 1-63 1 33 1-18 1 34 1-53 1 55 1-17 1-29 1 50 1 19 1-39 1 13 1 3 1 0 1 10 1-50 1 3 1 46 1-22 1 7 1-27 1 34 1-43 1 29 1 14 1-12 1 10 1-50 1 37 1 12 1-10 1-24 1 43 1 13 1-52 1 13 1 19 1-6 1-21 1 67 1-69 1 26 1-15 1 13 1-54 1 65 1-30 1 65 1-46 1-12 1 41 1 9 1-37 1-16 1-3 1 33 1-17 1 31 1-55 1 41 1-32 1 27 1 2 1-34 1 44 1-38 1 29 1 10 1 0 1-34 1 21 1 5 1 21 1-47 1 3 1 13 1-8 1 71 1-47 1-12 1 1 1 12 1-13 1 17 1-1 1 10 1-23 1 15 1-3 1-33 1 25 1 1 1 26 1-17 1-26 1 8 1 9 1 4 1-4 1-5 1 13 1 37 1-76 1 15 1 22 1-26 1 47 1-45 1 20 1-12 1 22 1-9 1-7 1-7 1 9 1 2 1 18 1-39 1 26 1 8 1 2 1 15 1-7 1 14 1-29 1 5 1-5 1 26 1-14 1 4 1-27 1 42 1 1 1-47 1 16 1 33 1-49 1-2 1 7 1 54 1-36 1 17 1-10 1 23 1-56 1 42 1-16 1-9 1 4 1 4 1 14 1-10 1 8 1 34 1-54 1 28 1-1 1-1 1 17 1-2 1 11 1-36 1-10 1 20 1 22 1-38 1 29 1 24 1 7 1-31 1-17 1 32 1 7 1-2 1 12 1-2 1-9 1 18 1-22 1 32 1-23 1 9 1 14 1 2 1 3 1-26 1 40 1-26 1 5 1 23 1-25 1 60 1-34 1 5 1 5 1-9 1 21 1 0 1-15 1 20 1 15 1-18 1 12 1 9 1-11 1 20 1 6 1-6 1 2 1 0 1 19 1-33 1 16 1 9 1 2 1 36 1-38 1 26 1-14 1 22 1-21 1 20 1-1 1-16 1 9 1 29 1-4 1-6 1 7 1-7 1 18 1 15 1-7 1-4 1-4 1 1 1-1 1 13 1 7 1-6 1 11 1 6 1 3 1-10 1-2 1 4 1 26 1-20 1 20 1-5 1-6 1 16 1 0 1-3 1-19 1 5 1 16 1-8 1 0 1-1 1 8 1-17 1 14 1-9 1 19 1-16 1 2 1-9 1 30 1-24 1-2 1 8 1-12 1-6 1 10 1 0 1-4 1 7 1-6 1 5 1 10 1 3 1-17 1 4 1 10 1-5 1-11 1 24 1-6 1-13 1 0 1 15 1-2 1-8 1-10 1 11 1 18 1-26 1 8 1 3 1 6 1-18 1 7 1-1 1 0 1 0 1-3 1-7 1 21 1-7 1 3 1-17 1 15 1 10 1-12 1 6 1 0 1-2 1 6 1 5 1-29 1 15 1 6 1-11 1-6 1 24 1-10 1-6 1 9 1-10 1 13 1-4 1-4 1-5 1 3 1 6 1-3 1 14 1-32 1 19 1-1 1-4 1-3 1 2 1 8 1 7 1-11 1 5 1-2 1-4 1-2 1-8 1 11 1 12 1-17 1-3 1 19 1-16 1 3 1 5 1-5 1-2 1-1 1-4 1 8 1 0 1-18 1 26 1-6 1 1 1-8 1-3 1 18 1-19 1 18 1-28 1 24 1-13 1 10 1-7 1 11 1-6 1 0 1 0 1-5 1 9 1-1 1 8 1-9 1 2 1-10 1 2 1 10 1-9 1-6 1 11 1 8 1-28 1 15 1-1 1-14 1 25 1-8 1 16 1-18 1 1 1 9 1 0 1-5 1 1 1-14 1 14 1-1 1 0 1 11 1-8 1 6 1-11 1 18 1-8 1-11 1 18 1-4 1-19 1 17 1-10 1-2 1 10 1 5 1-24 1 16 1-8 1 9 1-8 1 12 1 1 1-3 1-3 1 0 1-2 1-6 1 8 1-11 1 12 1-10 1-5 1-3 1 28 1-28 1 26 1-24 1 11 1-3 1 10 1-14 1 2 1 9 1 1 1-11 1-2 1 2 1 9 1-3 1-7 1 1 1-2 1 7 1 6 1-7 1-1 1 7 1-7 1 9 1-8 1 7 1-20 1 6 1 7 1 12 1-1 1-14 1 6 1-3 1 14 1 0 1-12 1 2 1 8 1-4 1-11 1 9 1-8 1-8 1 10 1 2 1 5 1-13 1 19 1-2 1-8 1 11 1-19 1 12 1-8 1 6 1 0 1-2 1 14 1-6 1-5 1-19 1 10 1 1 1 13 1-15 1-2 1 3 1-13 1 29 1-2 1-6 1 5 1-7 1-4 1 4 1-1 1-2 1-2 1 10 1 0 1-13 1 11 1 3 1-8 1 5 1-3 1 1 1-5 1-2 1 13 1 2 1-20 1 17 1 6 1 2 1-13 1 4 1 9 1-6 1 0 1-15 1 6 1 2 1 9 1-8 1-6 1 4 1-7 1 7 1-4 1 2 1 7 1-14 1 7 1-3 1 14 1 0 1-7 1 5 1-10 1 1 1-6 1 5 1 13 1-15 1 12 1 0 1-5 1 0 1-7 1-13 1 18 1-7 1 12 1-4 1 6 1 0 1-12 1 6 1 1 1 9 1-17 1 13 1 4 1-4 1-4 1 0 1-5 1 18 1-3 1-13 1-4 1 20 1-3 1 10 1-4 1 1 1-5 1 8 1-13 1 7 1 2 1-7 1 8 1 7 1-7 1-13 1 14 1-2 1 5 1 0 1-3 1 19 1-8 1-3 1-1 1-9 1-5 1 11 1 2 1-1 1-4 1 14 1-2 1-3 1 0 1 12 1-11 1 11 1-12 1 1 1 16 1-13 1 2 1 5 1-7 1-5 1 8 1 8 1 2 1 0 1 0 1-9 1 4 1 2 1-3 1 4 1 1 1 4 1 0 1-2 1 5 1-10 1 6 1 3 1-4 1 7 1-6 1 4 1-5 1 8 1 0 1 2 1 2 1-4 1 4 1-3 1 3 1-3 1 8 1-6 1 1 1 1 1 1 1-4 1 4 1-1 1 1 1 0 1 0 1-1 1 3 1-1 1 1 1-3 1 2 1 0 1-2 1 1 1-1 1 1 1-1 1 1 1 2 1-3 1 1 1 0 1-1 1 2 1 1 1-4 1-2 1 4 1-2 1 1 1 2 1 0 1-1 1 1 1-1 1 0 1 2 1-4 1 4 1 0 1-4 1 0 1-1 1 2 1 2 1-4 1 3 1 0 1 1 1-2 1 5 1-5 1 4 1-5 1 4 1-4 1-3 1 5 1 2 1-6 1 4 1 2 1-5 1 7 1-2 1 0 1-1 1 2 1-5 1-1 1 2 1 1 1 2 1-4 1 3 1-3 1-1 1 2 1 4 1-2 1-4 1 2 1-3 1 8 1-5 1 1 1 2 1-2 1-3 1 1 1 2 1-1 1-2 1 4 1-2 1-2 1 4 1-4 1 2 1-2 1 0 1 2 1 1 1 0 1-1 1 0 1-3 1 3 1-1 1-2 1 2 1 0 1-2 1 3 1-1 1-1 1 2 1 2 1 1 1-3 1-2 1 0 1-1 1 1 1 3 1 2 1-2 1-1 1 1 1-3 1 4 1-3 1-1 1 5 1-2 1-4 1 1 1 2 1 2 1-1 1-1 1-3 1 2 1 1 1-1 1-1 1 5 1-1 1-2 1-3 1 1 1 3 1-1 1 1 1 0 1-2 1 1 1 1 1 1 1 1 1-3 1-1 1-1 1 3 1 0 1-4 1 2 1-1 1 3 1 0 1 1 1-4 1 4 1 1 1-2 1-4 1 3 1-1 1 0 1 1 1 0 1 3 1-7 1 4 1-3 1 6 1-5 1 4 1 0 1-3 1-2 1 0 1 0 1 3 1-2 1 3 1 0 1-2 1 1 1-2 1 5 1-6 1 4 1-5 1 1 1 5 1-2 1-2 1 3 1 0 1-1 1-2 1-1 1 3 1-2 1-2 1 1 1 4 1 0 1-2 1-1 1 0 1 2 1 1 1-4 1 3 1-5 1 7 1-2 1 1 1-6 1 2 1 3 1 3 1-6 1 2 1 3 1 0 1-4 1 2 1-1 1-1 1 2 1 0 1-2 1 1 1 1 1-2 1 5 1-7 1 2 1 3 1-1 1-4 1 2 1 5 1-2 1-2 1-4 1 2 1 2 1-1 1 1 1 1 1-2 1 6 1-7 1 1 1 2 1 1 1 1 1-4 1 1 1 0 1-4 1 9 1-3 1 0 1-4 1 2 1 2 1-3 1 0 1-3 1 3 1 2 1 0 1 1 1-3 1-1 1 2 1 0 1-3 1 3 1-1 1 3 1-1 1 4 1-2 1-4 1-2 1 3 1 2 1-2 1-3 1 3 1-2 1 2 1 2 1 0 1-2 1-5 1 3 1 2 1-1 1 0 1 2 1-1 1 0 1-2 1-2 1 1 1 3 1-2 1 3 1 1 1-3 1-1 1 2 1-2 1 0 1 0 1 2 1 3 1-8 1 6 1-3 1 0 1 2 1-5 1 3 1 2 1 0 1 2 1 0 1-4 1 2 1 1 1-3 1 2 1-2 1 3 1 0 1-4 1 4 1-3 1 0 1 1 1 4 1-1 1 0 1 0 1-5 1 4 1 1 1-1 1-1 1 3 1-5 1 0 1 3 1-4 1 6 1-2 1-1 1-1 1-2 1 3 1 2 1-3 1 0 1-1 1 2 1-1 1 2 1-3 1 3 1 0 1-5 1 5 1-2 1-1 1 2 1-3 1 3 1-3 1 6 1-1 1-3 1-3 1-1 1 6 1-2 1 1 1 4 1-7 1 3 1-4 1 2 1 2 1 1 1-2 1-1 1 2 1-8 1 6 1 4 1-3 1-3 1 2 1 2 1 0 1 1 1 1 1-2 1-2 1 2 1-5 1 3 1 2 1-1 1-4 1 8 1-5 1-6 1 4 1 5 1-3 1 1 1-7 1 8 1-1 1 0 1 3 1 4 1-7 1-2 1 3 1-3 1 0 1 0 1 6 1-8 1 2 1 0 1 2 1 0 1 1 1-2 1-2 1 4 1-3 1 3 1-3 1 2 1-3 1-2 1 4 1 2 1-1 1-2 1 3 1-4 1 2 1-2 1 4 1 1 1-1 1-3 1 3 1-3 1 6 1-3 1-1 1 4 1-3 1 2 1-4 1 1 1-3 1 4 1 2 1-3 1-1 1 0 1 0 1-3 1 4 1 0 1 1 1-1 1-4 1 2 1 8 1-10 1 8 1-4 1-4 1 2 1-1 1 0 1 1 1 4 1-4 1 2 1 5 1-6 1-2 1 1 1 1 1-5 1 4 1-2 1 2 1-4 1 5 1-4 1-1 1 5 1-3 1 6 1-4 1-2 1 5 1 2 1-5 1 1 1-1 1-1 1-1 1-2 1 3 1 5 1-6 1 1 1 1 1-4 1 3 1 2 1-2 1 5 1-7 1 3 1-5 1 3 1 1 1 0 1 4 1-3 1-1 1-2 1 1 1 0 1 0 1 3 1-2 1 1 1 3 1 1 1-7 1-2 1 0 1 7 1-7 1 0 1 6 1-3 1-4 1 5 1-3 1 5 1-1 1-4 1 3 1-1 1 0 1 4 1-8 1 5 1 1 1 0 1-2 1 3 1-5 1 3 1-3 1 5 1 0 1 0 1-4 1 5 1-7 1 4 1-4 1 4 1-4 1 6 1 0 1-6 1 4 1-5 1 5 1-4 1 4 1 3 1-11 1 5 1-4 1 2 1 6 1-8 1-3 1-1 1-2 1 4 1 1 1-2 1 5 1-9 1-1 1 1 1 3 1-7 1 4 1-9 1 7 1-1 1-2 1 2 1-2 1-4 1 10 1-24 1 7 1 0 1 5 1-7 1 1 1-2 1 9 1-8 1 10 1-10 1 3 1-1 1-2 1-6 1-2 1 7 1 7 1-14 1 17 1-4 1-1 1 4 1-11 1 6 1-2 1 8 1-5 1 6 1 1 1-1 1 1 1 0 1 5 1 6 1-4 1 11 1-10 1 3 1-6 1 15 1-19 1 10 1 6 1-8 1 0 1 0 1-6 1 12 1-5 1 1 1 3 1-3 1-4 1 8 1-5 1-2 1 1 1 9 1-8 1 3 1-7 1 6 1-9 1 13 1-7 1 5 1-11 1 1 1 10 1-7 1 3 1 6 1-2 1-5 1-2 1 3 1-3 1 0 1 0 1 6 1-6 1-2 1 9 1-14 1 0 1 6 1-9 1 12 1 1 1-2 1 0 1-12 1 8 1 1 1-3 1-6 1 7 1 2 1-3 1-5 1 6 1-8 1 5 1 2 1-3 1-8 1 11 1-9 1 4 1 2 1 0 1-5 1 1 1 1 1-2 1 8 1-2 1 2 1-4 1-1 1 0 1-5 1 8 1-5 1-6 1-5 1 8 1-6 1-2 1 13 1-7 1 6 1-4 1-5 1 9 1-11 1 4 1 0 1-5 1 7 1 5 1-11 1 4 1-4 1 5 1-1 1 0 1 1 1-4 1 0 1-6 1-21 1 24 1 5 1-14 1 11 1-3 1-4 1-4 1 0 1-2 1 1 1-9 1 1 1 9 1-3 1 7 1-15 1 6 1-16 1 17 1-16 1 16 1 5 1-7 1-10 1-5 1 13 1-15 1 10 1-1 1-3 1-16 1 11 1-3 1 14 1-15 1-2 1-12 1 19 1-2 1 0 1-3 1-13 1 11 1-19 1 9 1 7 1-4 1 5 1-1 1-25 1 0 1 15 1-6 1-21 1 19 1-11 1-5 1 4 1-2 1-1 1-7 1 14 1-19 1-5 1 13 1-22 1 11 1 15 1-11 1-26 1-10 1 7 1 8 1-20 1-18 1 7 1 11 1-29 1 3 1-7 1-9 1-13 1 1 1 5 1-19 1-12 1-23 1 26 1-24 1 2 1-27 1 3 1 30 1-74 1 15 1-4 1-4 1-19 1-8 1-33 1-18 1-9 1-22 1 9 1-42 1-1 1-25 1-19 1 4 1-48 1-7 1 9 1-63 1-15 1 53 1 0 1-53 1-42 1-28 1-11 1-2 1-40 1-12 1 11 1-32 1-39 1 26 1-17 1-11 1-75 1 4 1-20 1 17 1-24 1-49 1 27 1-54 1 20 1-13 1-28 1-21 1-37 1 49 1-68 1 60 1-6 1 32 1-97 1-26 1 72 1-31 1-2 1 40 1-45 1-4 1 28 1 21 1-27 1-6 1 66 1-28 1-9 1 107 1-77 1-27 1 98 1-58 1 59 1-9 1 37 1 43 1 32 1-90 1 115 1-9 1-24 1 48 1 22 1 74 1-14 1 37 1 30 1-30 1 10 1 57 1 17 1-4 1 11 1 61 1-26 1 24 1 39 1 41 1-14 1 17 1-2 1 62 1-22 1 52 1 1 1 28 1 12 1-6 1 49 1-9 1 31 1 11 1 22 1 0 1 42 1-11 1-5 1 14 1 40 1 4 1 1 1-16 1 34 1 4 1 11 1 2 1 19 1-4 1 5 1 1 1 22 1-9 1-2 1 14 1 6 1 27 1-23 1 1 1 8 1 8 1 2 1-9 1 24 1 1 1-6 1 7 1 14 1-10 1 2 1 7 1-4 1 2 1 9 1-7 1-5 1 3 1 11 1 1 1-4 1 1 1 5 1-1 1-6 1 4 1-1 1 3 1-2 1 4 1 0 1 2 1 2 1-3 1 2 1-2 1-1 1 0 1 0 1 2 1-1 1-2 1 3 1 0 1 5 1-3 1-4 1 4 1 0 1-4 1 5 1-5 1 2 1 1 1 3 1-6 1 6 1-1 1-4 1 4 1-4 1 1 1 1 1 1 1 0 1-2 1 2 1-3 1 1 1-1 1 1 1-1 1 1 1-1 1 1 1 0 1 2 1 2 1-3 1-2 1 3 1 2 1-2 1-2 1-1 1 2 1 2 1-2 1-2 1 2 1-2 1 3 1-3 1-1 1 5 1-1 1-2 1-5 1 5 1 1 1-3 1 3 1 3 1-1 1-5 1 6 1-1 1-4 1 2 1-2 1 4 1-1 1-1 1 2 1-2 1 0 1-2 1 2 1 1 1-2 1-1 1 0 1 1 1 2 1 0 1 1 1-2 1 0 1-3 1 3 1-1 1-1 1 5 1-2 1-1 1 0 1 2 1-4 1 0 1 1 1 0 1 3 1-4 1 3 1 2 1-3 1-1 1 2 1 2 1-1 1-2 1 4 1-6 1 0 1 2 1-2 1 2 1 2 1-3 1 0 1 3 1 1 1-1 1-4 1 3 1-6 1 6 1-2 1 1 1 1 1-2 1 3 1-2 1 2 1 2 1-4 1 2 1 1 1-4 1 2 1-1 1-3 1 3 1 0 1 2 1-3 1 0 1 3 1-3 1 1 1 1 1-1 1-4 1 6 1-1 1-1 1 1 1 3 1-5 1 0 1-1 1 3 1 2 1-4 1 3 1-1 1 0 1-1 1 1 1-2 1 3 1-5 1 2 1 3 1 0 1-1 1 0 1 1 1-4 1 1 1 3 1-2 1 1 1-2 1 3 1-5 1 4 1-4 1 4 1-3 1 3 1-3 1 3 1 1 1 0 1 0 1-2 1 0 1 1 1-2 1-1 1 4 1-3 1-2 1 5 1 0 1-2 1 0 1 2 1-1 1-3 1 1 1 3 1 2 1-1 1-2 1 1 1 0 1-2 1 1 1 0 1 0 1-2 1 1 1 0 1 1 1-3 1 5 1 0 1-1 1-4 1 1 1 4 1-1 1-2 1 1 1-1 1 2 1 2 1-4" fill="none" stroke="#000" stroke-width="2.2" stroke-linejoin="round" vector-effect="non-scaling-stroke"/>
</g>
<line x1="822.70" y1="469.20" x2="822.70" y2="480.20" stroke="#000" stroke-width="3.0"/>
<line x1="997.70" y1="469.20" x2="997.70" y2="480.20" stroke="#000" stroke-width="3.0"/>
<line x1="1172.70" y1="469.20" x2="1172.70" y2="480.20" stroke="#000" stroke-width="3.0"/>
<line x1="1347.70" y1="469.20" x2="1347.70" y2="480.20" stroke="#000" stroke-width="3.0"/>
<line x1="910.20" y1="469.20" x2="910.20" y2="475.20" stroke="#000" stroke-width="3.0"/>
<line x1="1085.20" y1="469.20" x2="1085.20" y2="475.20" stroke="#000" stroke-width="3.0"/>
<line x1="1260.20" y1="469.20" x2="1260.20" y2="475.20" stroke="#000" stroke-width="3.0"/>
<line x1="787.70" y1="469.20" x2="778.70" y2="469.20" stroke="#000" stroke-width="3.0"/>
<line x1="787.70" y1="317.40" x2="778.70" y2="317.40" stroke="#000" stroke-width="3.0"/>
<line x1="787.70" y1="165.60" x2="778.70" y2="165.60" stroke="#000" stroke-width="3.0"/>
<line x1="787.70" y1="13.80" x2="778.70" y2="13.80" stroke="#000" stroke-width="3.0"/>
<line x1="787.70" y1="393.30" x2="782.20" y2="393.30" stroke="#000" stroke-width="3.0"/>
<line x1="787.70" y1="241.50" x2="782.20" y2="241.50" stroke="#000" stroke-width="3.0"/>
<line x1="787.70" y1="89.70" x2="782.20" y2="89.70" stroke="#000" stroke-width="3.0"/>
<text transform="translate(756.26,476.20) scale(1.0600,1)" font-size="25.16">0</text>
<text transform="translate(726.59,324.40) scale(1.0600,1)" font-size="25.16">500</text>
<text transform="translate(711.79,172.60) scale(1.0600,1)" font-size="25.16">1000</text>
<text transform="translate(711.79,20.80) scale(1.0600,1)" font-size="25.16">1500</text>
<text transform="translate(800.60,505.60) scale(1.0600,1)" font-size="25.16">500</text>
<text transform="translate(967.76,505.60) scale(1.0600,1)" font-size="25.16">1000</text>
<text transform="translate(1142.76,505.60) scale(1.0600,1)" font-size="25.16">1500</text>
<text transform="translate(1318.13,505.60) scale(1.0600,1)" font-size="25.16">2000</text>
<text transform="translate(967.83,547.35) scale(0.9823,1)" font-size="34.84" fill="#000">Channel No.</text>
<text transform="translate(704.15,394.47) rotate(-90) scale(0.9156,1)" font-size="38.33" fill="#000">RBS counts (a.u.)</text>
<rect x="1028.9" y="46.1" width="200.40" height="138.60" fill="#fff" stroke="#666" stroke-width="1.6"/>
<line x1="1045.9" y1="77.6" x2="1125.6" y2="77.6" stroke="#000" stroke-width="2.6"/>
<text transform="translate(1133.78,88.45) scale(1.0166,1)" font-size="33.38" fill="#000">5 nm</text>
<line x1="1045.9" y1="121.4" x2="1125.6" y2="121.4" stroke="#f00" stroke-width="2.6"/>
<text transform="translate(1134.04,132.25) scale(1.0132,1)" font-size="33.38" fill="#000">3 nm</text>
<line x1="1045.9" y1="164.9" x2="1125.6" y2="164.9" stroke="#00f" stroke-width="2.6"/>
<text transform="translate(1133.61,175.75) scale(1.0189,1)" font-size="33.38" fill="#000">2 nm</text>
<text transform="translate(800.39,78.94) scale(0.9642,1)" font-size="56.19" fill="#000">(b)</text>
<text transform="translate(907.53,141.85) scale(0.9761,1)" font-size="37.16" fill="#000">1x10</text>
<text transform="translate(988.75,130.45) scale(1.0494,1)" font-size="23.64" fill="#000">15</text>
<text transform="translate(797.53,167.95) scale(1.0047,1)" font-size="29.18" fill="#000">C</text>
<text transform="translate(873.23,222.05) scale(1.2232,1)" font-size="25.88" fill="#000">O</text>
<text transform="translate(957.67,310.15) scale(1.1450,1)" font-size="26.25" fill="#000">Na</text>
<text transform="translate(1015.04,341.95) scale(1.1994,1)" font-size="26.74" fill="#000">Si</text>
<text transform="translate(1085.15,434.45) scale(1.0283,1)" font-size="27.89" fill="#000">Ca</text>
<text transform="translate(1267.70,97.45) scale(1.0586,1)" font-size="30.18" fill="#000">Au</text>
<polygon points="1338,225.6 1475.3,76.1 1475.3,409 1338,259.5" fill="#E2EFDA"/>
<rect x="1475.3" y="17.5" width="562.5" height="454.0" fill="#E2EFDA"/>
<clipPath id="cc"><rect x="1473.8" y="16.5" width="564.0" height="457.5"/></clipPath>
<rect x="1475.3" y="17.5" width="562.50" height="454.00" fill="none" stroke="#000" stroke-width="3.3"/>
<g clip-path="url(#cc)">
<path transform="matrix(2.25000 0 0 0.302667 -2349.700 471.500)" d="M1700 -22l1 8 1 1 1-5 1 4 1-8 1 5 1-6 1 3 1-2 1-3 1 3 1 2 1-7 1 7 1-10 1 6 1 0 1-4 1-1 1-1 1 7 1-3 1-6 1-1 1 1 1-6 1 5 1-5 1-2 1 3 1 1 1-5 1 0 1-2 1 6 1-7 1-6 1 7 1-3 1 1 1-7 1 13 1-19 1 4 1 2 1-3 1-6 1 2 1-3 1-5 1 4 1-4 1-6 1 3 1 5 1-10 1-10 1 12 1-7 1-2 1-5 1 6 1-6 1-15 1 5 1 6 1-13 1 1 1-14 1 18 1-16 1-12 1 12 1-9 1-16 1-4 1-4 1-13 1 6 1-14 1-35 1 12 1-24 1-8 1-25 1-10 1-18 1-27 1-10 1 4 1-35 1-52 1-21 1-8 1-8 1-41 1-74 1-18 1-33 1 15 1-37 1-47 1-20 1-61 1-10 1-64 1-19 1-24 1-56 1-25 1-21 1-15 1-30 1 20 1-18 1-46 1 8 1-91 1 34 1-45 1 81 1 31 1-10 1 22 1 23 1 20 1 14 1 40 1 73 1-5 1 75 1 11 1 46 1 11 1 72 1 40 1 43 1 21 1 47 1 46 1 20 1 17 1 40 1 34 1 54 1 22 1 23 1 43 1-11 1 50 1 2 1 31 1 4 1 10 1 15 1 20 1 9 1 0 1 13 1 6 1 3 1 20 1-7 1 1 1 2 1 7 1 7 1-3 1 0 1 8 1 1 1 0 1 2 1 4 1 1 1-2 1-1 1-1 1 2 1-1 1-2 1-3 1 4 1 3 1-3 1 2 1-1 1-1 1 1 1 3 1 0 1-2 1-1 1-2 1 2 1 2 1 0 1 0 1 1 1 0 1-1 1-1 1 1 1-1 1 0 1 0 1 1 1-1 1 0 1 4 1-4 1 0 1 1 1-1 1 1 1-1 1 1 1-2 1 0 1 3 1-1 1-2 1 0 1 1 1 2 1-1 1-1 1 0 1 0 1 1 1-1 1 1 1 1 1 0 1-1 1 1 1-3 1 0 1 0 1 2 1 0 1-1 1 1 1-1 1 0 1 2 1-4 1 4 1 0 1-3" fill="none" stroke="#000" stroke-width="3.1" stroke-linejoin="round" vector-effect="non-scaling-stroke"/>
<path transform="matrix(2.25000 0 0 0.302667 -2349.700 471.500)" d="M1700 -2l1-3 1 1 1 0 1 1 1 1 1 0 1-2 1 0 1 1 1 0 1 0 1-1 1-1 1 0 1 1 1-2 1 1 1-1 1 2 1-1 1-1 1 3 1-3 1 0 1 0 1 0 1-1 1 2 1 0 1-2 1 0 1 3 1-4 1 0 1 0 1 2 1-3 1 1 1-1 1 1 1 1 1 0 1 0 1-3 1 2 1 0 1-2 1 1 1 3 1-3 1-1 1-5 1 2 1 3 1-1 1-1 1-2 1 1 1-3 1 4 1-5 1-3 1 9 1-8 1-1 1-1 1-1 1 0 1-2 1-1 1-1 1-6 1 0 1-1 1 3 1-3 1-7 1 4 1-10 1 6 1-18 1-1 1 3 1-6 1 2 1-17 1-15 1-6 1-5 1-25 1-4 1-13 1-10 1-24 1-35 1-3 1-3 1-40 1-41 1-19 1-10 1-37 1-9 1-54 1-12 1-35 1-29 1-28 1-62 1-26 1-1 1-31 1-47 1 9 1-16 1-10 1-52 1 17 1 6 1 14 1 19 1-14 1 44 1 17 1 41 1 17 1 19 1 29 1 45 1 19 1 26 1 63 1-7 1 42 1 42 1 19 1 21 1 32 1 26 1 24 1 18 1 36 1 14 1 11 1 18 1 21 1 8 1 14 1 6 1 17 1 7 1 5 1 1 1-3 1 10 1 3 1 6 1-1 1 5 1 2 1 0 1 5 1 3 1-1 1-3 1 1 1 1 1 1 1 0 1 0 1 1 1-1 1 2 1-3 1 2 1 1 1-1 1 1 1-1 1 2 1-2 1 0 1 0 1 0 1-1 1 3 1-2 1 1 1-1 1 0 1-1 1 1 1 1 1-3 1 2 1 0 1-1 1 2 1-1 1-1 1 2 1-1 1-1 1-1 1 2 1 0 1-1 1 3 1-1 1 0 1 1 1 1 1-3 1-1 1 0 1 0 1 4 1-3 1-1 1 2 1 0 1-1 1 0 1-1 1 1 1-1 1 0 1 1 1 0 1-1 1 2 1-2 1 0 1 0 1 2 1-1 1 0 1-1 1 3 1-1 1-1 1-1 1 2 1-2 1 1 1-2 1 2 1 2 1-2 1 0" fill="none" stroke="#f00" stroke-width="3.1" stroke-linejoin="round" vector-effect="non-scaling-stroke"/>
<path transform="matrix(2.25000 0 0 0.302667 -2349.700 471.500)" d="M1700 -7l1 1 1 1 1 2 1-3 1 1 1-3 1 1 1 3 1 2 1-4 1-1 1 2 1-1 1-3 1 1 1 4 1-4 1 0 1 1 1-2 1 0 1-4 1 4 1 2 1-1 1-2 1-3 1 3 1 0 1 0 1 1 1-1 1 2 1-4 1 0 1 1 1 2 1-2 1 1 1-3 1 1 1-2 1-1 1-1 1 5 1-2 1 2 1-7 1 5 1-6 1 5 1-5 1 4 1-1 1-2 1 0 1 0 1-3 1-2 1 1 1 3 1 4 1-7 1 9 1-12 1 0 1 5 1-6 1 3 1-7 1 6 1 0 1-2 1-4 1 4 1-13 1 9 1-9 1 7 1-1 1 0 1 0 1-7 1-4 1 3 1 3 1-7 1 2 1 7 1-15 1 6 1-8 1-7 1-1 1-5 1-15 1-2 1-9 1 2 1-7 1-18 1 9 1-16 1-7 1-11 1-13 1-6 1-18 1 4 1-24 1 3 1-33 1-11 1 1 1-8 1-16 1-17 1 14 1-15 1-30 1 6 1 7 1 7 1-25 1 16 1-21 1 6 1-18 1 43 1-15 1 30 1 7 1 1 1 18 1-17 1 32 1 19 1-17 1 43 1 9 1 11 1 17 1 1 1 7 1 31 1 4 1 10 1 16 1 8 1 3 1 10 1 1 1 4 1 9 1 5 1 10 1 3 1 0 1 3 1 6 1 0 1 5 1 4 1-2 1 3 1 4 1-4 1 2 1 0 1 3 1-2 1 2 1-1 1 3 1-1 1-1 1 1 1 1 1-2 1 1 1 1 1-2 1 3 1-1 1 1 1-2 1-1 1 2 1 0 1-1 1 1 1 0 1-1 1-1 1 2 1 1 1-1 1 0 1 0 1-1 1 0 1 0 1 1 1 0 1 1 1-1 1 1 1-1 1 0 1 0 1 0 1 0 1-1 1 0 1 2 1-2 1 1 1 1 1-1 1 1 1-1 1-1 1 2 1-1 1-1 1 0 1 0 1 1 1 0 1-1 1 1 1-1 1 1 1 0 1 0 1-1 1 0 1 3 1-1 1 1 1-1 1 0 1-1 1 0 1-1 1 2 1 0 1 0 1-1 1 0" fill="none" stroke="#00f" stroke-width="3.1" stroke-linejoin="round" vector-effect="non-scaling-stroke"/>
</g>
<line x1="1744.5" y1="156" x2="1744.5" y2="350" stroke="#22e022" stroke-width="4.2" stroke-dasharray="11 6"/>
<polygon points="1733.5,347 1755.5,347 1744.5,380" fill="#22e022"/>
<line x1="1475.30" y1="471.50" x2="1475.30" y2="482.50" stroke="#000" stroke-width="3.0"/>
<line x1="1587.80" y1="471.50" x2="1587.80" y2="482.50" stroke="#000" stroke-width="3.0"/>
<line x1="1700.30" y1="471.50" x2="1700.30" y2="482.50" stroke="#000" stroke-width="3.0"/>
<line x1="1812.80" y1="471.50" x2="1812.80" y2="482.50" stroke="#000" stroke-width="3.0"/>
<line x1="1925.30" y1="471.50" x2="1925.30" y2="482.50" stroke="#000" stroke-width="3.0"/>
<line x1="2037.80" y1="471.50" x2="2037.80" y2="482.50" stroke="#000" stroke-width="3.0"/>
<line x1="1531.55" y1="471.50" x2="1531.55" y2="477.50" stroke="#000" stroke-width="3.0"/>
<line x1="1644.05" y1="471.50" x2="1644.05" y2="477.50" stroke="#000" stroke-width="3.0"/>
<line x1="1756.55" y1="471.50" x2="1756.55" y2="477.50" stroke="#000" stroke-width="3.0"/>
<line x1="1869.05" y1="471.50" x2="1869.05" y2="477.50" stroke="#000" stroke-width="3.0"/>
<line x1="1981.55" y1="471.50" x2="1981.55" y2="477.50" stroke="#000" stroke-width="3.0"/>
<line x1="1475.30" y1="471.50" x2="1466.30" y2="471.50" stroke="#000" stroke-width="3.0"/>
<line x1="1475.30" y1="320.17" x2="1466.30" y2="320.17" stroke="#000" stroke-width="3.0"/>
<line x1="1475.30" y1="168.83" x2="1466.30" y2="168.83" stroke="#000" stroke-width="3.0"/>
<line x1="1475.30" y1="17.50" x2="1466.30" y2="17.50" stroke="#000" stroke-width="3.0"/>
<line x1="1475.30" y1="395.83" x2="1469.80" y2="395.83" stroke="#000" stroke-width="3.0"/>
<line x1="1475.30" y1="244.50" x2="1469.80" y2="244.50" stroke="#000" stroke-width="3.0"/>
<line x1="1475.30" y1="93.17" x2="1469.80" y2="93.17" stroke="#000" stroke-width="3.0"/>
<text transform="translate(1443.76,478.50) scale(1.0600,1)" font-size="25.16">0</text>
<text transform="translate(1414.09,327.17) scale(1.0600,1)" font-size="25.16">500</text>
<text transform="translate(1399.29,175.83) scale(1.0600,1)" font-size="25.16">1000</text>
<text transform="translate(1399.29,24.50) scale(1.0600,1)" font-size="25.16">1500</text>
<text transform="translate(1445.36,508.40) scale(1.0600,1)" font-size="25.16">1700</text>
<text transform="translate(1557.86,508.40) scale(1.0600,1)" font-size="25.16">1750</text>
<text transform="translate(1670.36,508.40) scale(1.0600,1)" font-size="25.16">1800</text>
<text transform="translate(1782.86,508.40) scale(1.0600,1)" font-size="25.16">1850</text>
<text transform="translate(1895.36,508.40) scale(1.0600,1)" font-size="25.16">1900</text>
<text transform="translate(2007.86,508.40) scale(1.0600,1)" font-size="25.16">1950</text>
<text transform="translate(1657.23,549.75) scale(1.0075,1)" font-size="33.96" fill="#000">Channel No.</text>
<text transform="translate(1392.75,397.36) rotate(-90) scale(0.9166,1)" font-size="38.18" fill="#000">RBS counts (a.u.)</text>
<rect x="1805.6" y="33.7" width="200.20" height="139.30" fill="#fff" stroke="#666" stroke-width="1.6"/>
<line x1="1821.4" y1="66.5" x2="1902.4" y2="66.5" stroke="#000" stroke-width="2.6"/>
<text transform="translate(1911.09,77.75) scale(0.9956,1)" font-size="33.82" fill="#000">5 nm</text>
<line x1="1821.4" y1="109.4" x2="1902.4" y2="109.4" stroke="#f00" stroke-width="2.6"/>
<text transform="translate(1911.34,120.65) scale(0.9922,1)" font-size="33.82" fill="#000">3 nm</text>
<line x1="1821.4" y1="153.2" x2="1902.4" y2="153.2" stroke="#00f" stroke-width="2.6"/>
<text transform="translate(1910.92,164.45) scale(0.9978,1)" font-size="33.82" fill="#000">2 nm</text>
<text transform="translate(1488.35,81.35) scale(0.8788,1)" font-size="55.66" fill="#000">(c)</text>
<text transform="translate(1678.05,131.35) scale(1.0693,1)" font-size="28.00" fill="#000">Au</text>
<text transform="translate(1874.09,356.45) scale(0.9810,1)" font-size="37.75" fill="#000">1x10</text>
<text transform="translate(1957.72,344.25) scale(1.0514,1)" font-size="22.47" fill="#000">15</text>
<clipPath id="cd"><rect x="122.6" y="594.0" width="550.5" height="450.0"/></clipPath>
<rect x="124.1" y="595.0" width="549.00" height="446.50" fill="none" stroke="#000" stroke-width="3.3"/>
<g clip-path="url(#cd)">
<path transform="matrix(0.17736 0 0 0.297667 -36.340 1041.500)" d="M760 -854l1 10 1 10 1-35 1 17 1 9 1-16 1-13 1-38 1 9 1 56 1-10 1 34 1 0 1-2 1-62 1 24 1 29 1-17 1-4 1 3 1-47 1 76 1-33 1-16 1-5 1 59 1-53 1 33 1-16 1 23 1-53 1-52 1 47 1 29 1 33 1-59 1-7 1 51 1-46 1 62 1-12 1-32 1 35 1-48 1-16 1 31 1-10 1-25 1 25 1-18 1-3 1 56 1-73 1 23 1 23 1-16 1 12 1 2 1 27 1-13 1-2 1-32 1 14 1 2 1 11 1-31 1 83 1-34 1-42 1 31 1-24 1-21 1 18 1 51 1-28 1 20 1-36 1-13 1 29 1-17 1 16 1-47 1 40 1-3 1-7 1-11 1 8 1 16 1-2 1-10 1-2 1 22 1 4 1-7 1-16 1 20 1 15 1-17 1 3 1-24 1 25 1-2 1-52 1 32 1 31 1-48 1 36 1 9 1-32 1 46 1-30 1-14 1-4 1 28 1 0 1-10 1-28 1 67 1-58 1 12 1-24 1 56 1-51 1 46 1-26 1 16 1 47 1-53 1-10 1-10 1 34 1 12 1-41 1 24 1-31 1-8 1 38 1-1 1 13 1 29 1-44 1-16 1-7 1 24 1-41 1 54 1-11 1 12 1-2 1-3 1 9 1-5 1-15 1 4 1 26 1-34 1 29 1-28 1 9 1 45 1-20 1-43 1 35 1 1 1-5 1-12 1-10 1 20 1-44 1 51 1-2 1-6 1-8 1-28 1-19 1 59 1-3 1-17 1 17 1-22 1 43 1-42 1 67 1-59 1-3 1-40 1 75 1-35 1 2 1 35 1-26 1 25 1 7 1 8 1-28 1 18 1 23 1-51 1 44 1-53 1 10 1 24 1 18 1-15 1 10 1-21 1 0 1-63 1 102 1-33 1-25 1-10 1-7 1 52 1-40 1 83 1-59 1-24 1 4 1 47 1-12 1 30 1-32 1 15 1-37 1 24 1-30 1 16 1 5 1-46 1 13 1 56 1-60 1 14 1-12 1 20 1 50 1-31 1 46 1-23 1-15 1-44 1 28 1-3 1-12 1 37 1-44 1 20 1 26 1-8 1-7 1-19 1-17 1 38 1-1 1-45 1-31 1 32 1 36 1 12 1-22 1 8 1 25 1-48 1-26 1 76 1-1 1-6 1 17 1-46 1 51 1-47 1 7 1-8 1 50 1-36 1-2 1-14 1 12 1 22 1-39 1-5 1 1 1 47 1-28 1 33 1-16 1-21 1 49 1-93 1 35 1 44 1-4 1-10 1 1 1 25 1-24 1 32 1-21 1-53 1 42 1 7 1-43 1 28 1-7 1 27 1-37 1 33 1-27 1 6 1-24 1 16 1 23 1 24 1-17 1 9 1-49 1 44 1 42 1-60 1-9 1 39 1-36 1 46 1-35 1 9 1-10 1-2 1 25 1-33 1 30 1-14 1-29 1 53 1-22 1-34 1 8 1 44 1-1 1-26 1 27 1-16 1 33 1-45 1 51 1-39 1-12 1 31 1 20 1-6 1 14 1-82 1 83 1-14 1-35 1 6 1-21 1-7 1 20 1 12 1 11 1-8 1-25 1 8 1 0 1 52 1-20 1-2 1-3 1 12 1-38 1-9 1-16 1 52 1-9 1-4 1 3 1 19 1-37 1 64 1-34 1 32 1-57 1 46 1-5 1-25 1 23 1-29 1 15 1-52 1 71 1-9 1-30 1 10 1-7 1 17 1-27 1 13 1-21 1 60 1-36 1 11 1-13 1 30 1-39 1 48 1-49 1 8 1 52 1-48 1 52 1-55 1 48 1-33 1 4 1 31 1 5 1-52 1 22 1-34 1 25 1-62 1 58 1-35 1 32 1 6 1-10 1 29 1-2 1-51 1 41 1 22 1-37 1 30 1-20 1-23 1-3 1-11 1 14 1 12 1 3 1 6 1 7 1-51 1 53 1-39 1 40 1-29 1 90 1-66 1 17 1-48 1 2 1 47 1-12 1-22 1 14 1 5 1-19 1 51 1-64 1 26 1 73 1-43 1-18 1-52 1 51 1 33 1-63 1 22 1 9 1-23 1 32 1-6 1-24 1 12 1-11 1 30 1-45 1 68 1-1 1-40 1 18 1-11 1 4 1 4 1 20 1-29 1-22 1 47 1-59 1 7 1 53 1-36 1 42 1-21 1 22 1-12 1 29 1-37 1 20 1-3 1 24 1-44 1-40 1 50 1-5 1 22 1-14 1 9 1 15 1-14 1-8 1-18 1 15 1-13 1-22 1 8 1 30 1 30 1-34 1-6 1-19 1 19 1-58 1 68 1-21 1 35 1 2 1-15 1-10 1-11 1 84 1-92 1-8 1 3 1 12 1 21 1-14 1-16 1 49 1-35 1 4 1 14 1-41 1 54 1 6 1-19 1 13 1-42 1 65 1-7 1-34 1-9 1 43 1-53 1 71 1-62 1 43 1-7 1-47 1 42 1 15 1-16 1-33 1 42 1 20 1-18 1 34 1-9 1 0 1-23 1 27 1-17 1-11 1-6 1 70 1-31 1 26 1-35 1 11 1 9 1 13 1 12 1 17 1-51 1 27 1-2 1-3 1-7 1-19 1 44 1-14 1 49 1-22 1 9 1 1 1-32 1 23 1 4 1 3 1 8 1 3 1 11 1 1 1 1 1-2 1 35 1-34 1 4 1-5 1 32 1-1 1-30 1 31 1-19 1 24 1 13 1 7 1-13 1 1 1 16 1-46 1 29 1 19 1-40 1 15 1 31 1 8 1-12 1-14 1 41 1-43 1 30 1-20 1 20 1-9 1-1 1-9 1 37 1-45 1 57 1-27 1-6 1 12 1-15 1 45 1-28 1-18 1 18 1 19 1-22 1 0 1 20 1-40 1 33 1 8 1-20 1 14 1-8 1-8 1 12 1-18 1 5 1-16 1 39 1-19 1-3 1 0 1 41 1-18 1-24 1-4 1 9 1-2 1-19 1 28 1 7 1-39 1 15 1 14 1 10 1-41 1 33 1 9 1-36 1 48 1-23 1-14 1 16 1 5 1-17 1 29 1-18 1-16 1 32 1-43 1 27 1-2 1 7 1-18 1 18 1-12 1-18 1 0 1 49 1-50 1 32 1-14 1 4 1-3 1 15 1-21 1-7 1 28 1-10 1-14 1-5 1 13 1 1 1-4 1 15 1-12 1 11 1 1 1 35 1-10 1-37 1-7 1 6 1 6 1 7 1-15 1 17 1-7 1-26 1 50 1-14 1-6 1 29 1-12 1-39 1 9 1 12 1-26 1 40 1-50 1 35 1 9 1-29 1 9 1 6 1 6 1 29 1 5 1-36 1-17 1 31 1-16 1 29 1-1 1-25 1-13 1-1 1-8 1 35 1-11 1-16 1 31 1-12 1-5 1 0 1-15 1 7 1 16 1 32 1-54 1-3 1 8 1 3 1-1 1-14 1 30 1-7 1 16 1-14 1 11 1 0 1 20 1-33 1-19 1 70 1-74 1 23 1 11 1-17 1 10 1-3 1-26 1 21 1-3 1 11 1-1 1 12 1-13 1 11 1-33 1 24 1-17 1-10 1 5 1 30 1-41 1 62 1-58 1 69 1-28 1-14 1 11 1 24 1-11 1-30 1 34 1-40 1-9 1-4 1 19 1 6 1 6 1-55 1 27 1 10 1 5 1-13 1 52 1-48 1 25 1 30 1-59 1 33 1-21 1 20 1-6 1-34 1 22 1-1 1 34 1-43 1 27 1-19 1 25 1-23 1-4 1 35 1-30 1 21 1-37 1 15 1 5 1-51 1 38 1 21 1-22 1 11 1-19 1 41 1-51 1 43 1-2 1 6 1-8 1-38 1 30 1 22 1-16 1-7 1-12 1 23 1-9 1-48 1 54 1-5 1 23 1-37 1 25 1-40 1 11 1 7 1 23 1-3 1 1 1-8 1 8 1 3 1-11 1 2 1 6 1-22 1-2 1 28 1-47 1 31 1-15 1-11 1 57 1-33 1-7 1-5 1 8 1-4 1 43 1-9 1-26 1 45 1-26 1-6 1-9 1-9 1 11 1 19 1 2 1-23 1-3 1 3 1 5 1 0 1 26 1-23 1-14 1 33 1-27 1-4 1-28 1 41 1 3 1 17 1-2 1 9 1 3 1-43 1 13 1-6 1 33 1 8 1-4 1-59 1 9 1 43 1-25 1-1 1 20 1-6 1-27 1 4 1-3 1 10 1 3 1-6 1 11 1-32 1 26 1-6 1 11 1 10 1-10 1 5 1 8 1-28 1-20 1 30 1 6 1 11 1 13 1-36 1 1 1 24 1-15 1 16 1-39 1 22 1-5 1-22 1 68 1-45 1 2 1 10 1-5 1-21 1 33 1-1 1-40 1 12 1 9 1-5 1 12 1 7 1-2 1-8 1 13 1 20 1-24 1-8 1 8 1-14 1 7 1-11 1 15 1 5 1-12 1-5 1 23 1 7 1-37 1 32 1-15 1 15 1-11 1-20 1-4 1 51 1 2 1 33 1-66 1-16 1 22 1 10 1-19 1 30 1-26 1-11 1 2 1 9 1 21 1-2 1 10 1-46 1 10 1 23 1 0 1-5 1 16 1-20 1 1 1 2 1 6 1 43 1-38 1 21 1 5 1-65 1 46 1-5 1 2 1 10 1-41 1 58 1-38 1 18 1-30 1 7 1 13 1 27 1-38 1-2 1 5 1 16 1-15 1 24 1-16 1-2 1 10 1 13 1-12 1 11 1 6 1-37 1 20 1 7 1 0 1-15 1 13 1 6 1-15 1 2 1 18 1 3 1-39 1 27 1-24 1 10 1 11 1 3 1-30 1 38 1-4 1 8 1-11 1 13 1-17 1 23 1-29 1 4 1 2 1 14 1-30 1-12 1 35 1 11 1-22 1 14 1-6 1-7 1 33 1-34 1 29 1 4 1-14 1-29 1 34 1-17 1 23 1-25 1 5 1-13 1 16 1 3 1 31 1-35 1-7 1 10 1 0 1-5 1-5 1 29 1-13 1-8 1 4 1 19 1 17 1-36 1-6 1-15 1 20 1 21 1-20 1 9 1 9 1 13 1 6 1-17 1-4 1-8 1 2 1-3 1-27 1 32 1-23 1 35 1-1 1-2 1 20 1-55 1 23 1-7 1-16 1 21 1-19 1 64 1-57 1 15 1 14 1-25 1 17 1 12 1 20 1-59 1 70 1-43 1-23 1 15 1 20 1-5 1 6 1-14 1 6 1 19 1 4 1-42 1 39 1-2 1-54 1 50 1 8 1-5 1-27 1 24 1-9 1 34 1-26 1-10 1 0 1-22 1 15 1 54 1-19 1-12 1-9 1-5 1-9 1 37 1 9 1-47 1 28 1 22 1-22 1-8 1 13 1-1 1-34 1 34 1-22 1 2 1 9 1-42 1 58 1-61 1 56 1-11 1-9 1-12 1 7 1 17 1 0 1-24 1-5 1 33 1-28 1 11 1 5 1 22 1 2 1-26 1 51 1-36 1-14 1 33 1-51 1 0 1 42 1-14 1 0 1 7 1 0 1-15 1-18 1 24 1 0 1 0 1 13 1-20 1 18 1 8 1-25 1 39 1-21 1-1 1-4 1 22 1-9 1-12 1-11 1 11 1 2 1 10 1-13 1 44 1-53 1-5 1 16 1 15 1-36 1 32 1-31 1 25 1 8 1-8 1 7 1-7 1-10 1 12 1 3 1-7 1-6 1 7 1-8 1-1 1 5 1-6 1 11 1-17 1 12 1-7 1 16 1 19 1-14 1-7 1-5 1 6 1-22 1 42 1 7 1-23 1 7 1-10 1-9 1-31 1 61 1-3 1-15 1 21 1-10 1-30 1 20 1 0 1-17 1 43 1-28 1 3 1-4 1 19 1-8 1-5 1-12 1 22 1-20 1 41 1-37 1-5 1 25 1-9 1-4 1-4 1-13 1 15 1 7 1 0 1-7 1-7 1 8 1 12 1-3 1 7 1 2 1-6 1 2 1-19 1 28 1-18 1 19 1-29 1 8 1-14 1 11 1 23 1-15 1 10 1-2 1 8 1-10 1-6 1-1 1-32 1 38 1-3 1 3 1 2 1 1 1-4 1 4 1-13 1 4 1 20 1-13 1-4 1 9 1 0 1-1 1-10 1 7 1 10 1-6 1-18 1 32 1-22 1 14 1-55 1 45 1 9 1 4 1 21 1-12 1-33 1 25 1 12 1-1 1 2 1 16 1-11 1-3 1 30 1-13 1 35 1-10 1-30 1-2 1-5 1 44 1-13 1 7 1-15 1 13 1 6 1-3 1 16 1-14 1 19 1-15 1 15 1 2 1 20 1 7 1 4 1-21 1 33 1-37 1 23 1 14 1-16 1 21 1-11 1 7 1-13 1 6 1 3 1 18 1-14 1 16 1 2 1 0 1 4 1 20 1-17 1 25 1-17 1 9 1 1 1 15 1-17 1 14 1-6 1 17 1 3 1-3 1-6 1 24 1-3 1 2 1 1 1 5 1-10 1 7 1 8 1-3 1 2 1 15 1 4 1-7 1-8 1 35 1-10 1-7 1 13 1-9 1 6 1 11 1-4 1-5 1 9 1-9 1 3 1 4 1-4 1 5 1-4 1 8 1-15 1 10 1-9 1-6 1 4 1 10 1-1 1 1 1-2 1 7 1 6 1-13 1 1 1-9 1-2 1 20 1-2 1-11 1-3 1 7 1 0 1 12 1-26 1 19 1-8 1 2 1 8 1-12 1-3 1 9 1-1 1-3 1-2 1 1 1 11 1 0 1-3 1 14 1-9 1-7 1 3 1 1 1-10 1 3 1-3 1 6 1 2 1 3 1-7 1 13 1-6 1-9 1-2 1 6 1 7 1-11 1 8 1-4 1 5 1-17 1 2 1 15 1 2 1-7 1-4 1-4 1 8 1 7 1-9 1 0 1 12 1-9 1 0 1 5 1-8 1-5 1 0 1 12 1-2 1-8 1 7 1 0 1-16 1 30 1-12 1 1 1-5 1-11 1 12 1 1 1-3 1 3 1-4 1-14 1 20 1-3 1-1 1 13 1-17 1 4 1 12 1-10 1-3 1 7 1-13 1 11 1 5 1-14 1 6 1-2 1 11 1-1 1-3 1-5 1 0 1-9 1-1 1 8 1 2 1-13 1 12 1-6 1 9 1-2 1 1 1 3 1-7 1 8 1-5 1-3 1-11 1 25 1-12 1-4 1 7 1-8 1 2 1 1 1 5 1-1 1 0 1 5 1-7 1 7 1-1 1 3 1-15 1 10 1 2 1-10 1 7 1-4 1 3 1-3 1 1 1 14 1-22 1 3 1 15 1-15 1 7 1-2 1-7 1 2 1 0 1-6 1 5 1 11 1 4 1-13 1 16 1-9 1 0 1 2 1-12 1 6 1 4 1-7 1 8 1-10 1-5 1 13 1 0 1-8 1 19 1-4 1-1 1 3 1-10 1-1 1 2 1 0 1-6 1-1 1-1 1 8 1-1 1-9 1 7 1-6 1 11 1-2 1 3 1-3 1-3 1 5 1-14 1 21 1-15 1 12 1-8 1 6 1-5 1 0 1 6 1 2 1-3 1-4 1-5 1-5 1 20 1-13 1 6 1-3 1-2 1-3 1 2 1 3 1-10 1 8 1 2 1-7 1 14 1-1 1-15 1 10 1 10 1-16 1-2 1 12 1 3 1-8 1-2 1 6 1 2 1-9 1 0 1 13 1-3 1-5 1 2 1-5 1-2 1-8 1 9 1-3 1 15 1-5 1-11 1 15 1-17 1 5 1 3 1 1 1 7 1-1 1-3 1-1 1-10 1 14 1-3 1 7 1-11 1 1 1-7 1-5 1 8 1 9 1-7 1 0 1 2 1 6 1-8 1 9 1-7 1 2 1 14 1-20 1-9 1 15 1 2 1-10 1 14 1-8 1-1 1 4 1-3 1 5 1-1 1-8 1 9 1-1 1 0 1-7 1 5 1 3 1-7 1 14 1 0 1-14 1-9 1 14 1-5 1 11 1-9 1-1 1-2 1 8 1-16 1 17 1-15 1 16 1-11 1-3 1-5 1 14 1 9 1-15 1 10 1 2 1-3 1 2 1-10 1 4 1-3 1 0 1 7 1-6 1-3 1-3 1 10 1 3 1 4 1-2 1-2 1-1 1 10 1-5 1 0 1 3 1 1 1-5 1 8 1-7 1 9 1-6 1 8 1-11 1 4 1-3 1 12 1 4 1 1 1-5 1-5 1 2 1 2 1 9 1-9 1 2 1 7 1 10 1-7 1-2 1-7 1 7 1 2 1-6 1 2 1 5 1 0 1-1 1 8 1-3 1 4 1 3 1-4 1-1 1-2 1 5 1-1 1 6 1 4 1-1 1-2 1 3 1-5 1 2 1 5 1-4 1 3 1-1 1 4 1-1 1 3 1 0 1-2 1-1 1 3 1 0 1 2 1-1 1-1 1 3 1-1 1 1 1-2 1-1 1 1 1 0 1 2 1 0 1-2 1-2 1 2 1 0 1 1 1 1 1-4 1 1 1 3 1 0 1-4 1 3 1-1 1 2 1-2 1 1 1 0 1 1 1-5 1-1 1 4 1-1 1 0 1 1 1 0 1 1 1-2 1 3 1-1 1-2 1 3 1-4 1 2 1 0 1-2 1 2 1 0 1 1 1-2 1 0 1 2 1-2 1 0 1 0 1 2 1-2 1-1 1 3 1 2 1-2 1-1 1-2 1 0 1 1 1 2 1-2 1 1 1 2 1 1 1-4 1 4 1-5 1-1 1 3 1 1 1 0 1 0 1-2 1 0 1 2 1 0 1 0 1-3 1 1 1 2 1 0 1-1 1 3 1-2 1-1 1 2 1-2 1 0 1 1 1-2 1 3 1-3 1 1 1-2 1 3 1-2 1 0 1-1 1 0 1 4 1-2 1 2 1-3 1-1 1 3 1-1 1-2 1 2 1 0 1 3 1-2 1-2 1 3 1-2 1 0 1 0 1-1 1 2 1-3 1 3 1-2 1 2 1-1 1 1 1-3 1 4 1-1 1-3 1 1 1 1 1 1 1 1 1-1 1-1 1-2 1 1 1-1 1 2 1 1 1 0 1-3 1 2 1-2 1 5 1-2 1 0 1-1 1 1 1 1 1-2 1 4 1-3 1-2 1 3 1-2 1 1 1 0 1-1 1-1 1 0 1 2 1-3 1 2 1 1 1-3 1 3 1-4 1 2 1 1 1 1 1 0 1 0 1 0 1-3 1 2 1 0 1-1 1 2 1 1 1 0 1-4 1 3 1-3 1-1 1 3 1-1 1 2 1-1 1 0 1 0 1-2 1 2 1-1 1 1 1-1 1-2 1 6 1-5 1 3 1-1 1 1 1 0 1 1 1 2 1-7 1 2 1 2 1 2 1-4 1-1 1 1 1 4 1-2 1-1 1 0 1-2 1 4 1-1 1 3 1-6 1 1 1 2 1 2 1-4 1 3 1 0 1 1 1-1 1 0 1 0 1-4 1 1 1 1 1 1 1-1 1 2 1-2 1 2 1-1 1-1 1 2 1 0 1-3 1 4 1-1 1 0 1-1 1-1 1 4 1-3 1-3 1 0 1 1 1 1 1 0 1 1 1 2 1-3 1-1 1 1 1 0 1-1 1 1 1-2 1 3 1 2 1-4 1 0 1 2 1-1 1-1 1 5 1-8 1 3 1 2 1 1 1 1 1-8 1 6 1-2 1 2 1 0 1-2 1 3 1-2 1 1 1-2 1 0 1 2 1-3 1 3 1 0 1-1 1 1 1-2 1 5 1-1 1 1 1-6 1 1 1 2 1-1 1 3 1-2 1-3 1 1 1-2 1 4 1-3 1 2 1 0 1 0 1-1 1-1 1 2 1 0 1 0 1 0 1 2 1-3 1 0 1 1 1 0 1 1 1 1 1 0 1-1 1-2 1 1 1 2 1 0 1-4 1 0 1 1 1-2 1 4 1-1 1 1 1-4 1 3 1 0 1 0 1 1 1-1 1 4 1-3 1 1 1-3 1-1 1 2 1 2 1 0 1-3 1 2 1 0 1 1 1-2 1 0 1-1 1 3 1-2 1 2 1-2 1 0 1 1 1-2 1 3 1-4 1 2 1-1 1 1 1 1 1 0 1-2 1 1 1 0 1 1 1-2 1 0 1 3 1-5 1 2 1 0 1 1 1 0 1-1 1-3 1 4 1 2 1-2 1 0 1-1 1 3 1-1 1 0 1-2 1-1 1 2 1-1 1 1 1 0 1 4 1-2 1 0 1-2 1 0 1 2 1-2 1 0 1 0 1 1 1 0 1-3 1 3 1-2 1 3 1-1 1 0 1 1 1-3 1 3 1-2 1 4 1-5 1 1 1-1 1-2 1 4 1-1 1 2 1-1 1-1 1 0 1-1 1 1 1-1 1 2 1-1 1 2 1-1 1 3 1-4 1 0 1 1 1 0 1 2 1-2 1 0 1-1 1 0 1 1 1 0 1-1 1 2 1-3 1-2 1 3 1 1 1-1 1-1 1-1 1 4 1-2 1 1 1 0 1-1 1 0 1 1 1 1 1-1 1 1 1-4 1 5 1-4 1 1 1 0 1 2 1-1 1 0 1 0 1 0 1-1 1 1 1-1 1-1 1 2 1-2 1 1 1 1 1-1 1-1 1 2 1 2 1-4 1 0 1 3 1-1 1-1 1 4 1-5 1 0 1 0 1-1 1 4 1-3 1-2 1 7 1-3 1-2 1 3 1 1 1-3 1 0 1 2 1-2 1-1 1 0 1 1 1 2 1-1 1 3 1-2 1-2 1 0 1 0 1 0 1 3 1-1 1 0 1-1 1 0 1-4 1 2 1 3 1-1 1 0 1 0 1 0 1 3 1-5 1 0 1 1 1 0 1 0 1 1 1 2 1-3 1 0 1 3 1 1 1-5 1 3 1-1 1 1 1-4 1 5 1-4 1 5 1-5 1 2 1 3 1-4 1 1 1 2 1-3 1 1 1-1 1 3 1-1 1 0 1-2 1 1 1 1 1-4 1 3 1-2 1 0 1 3 1 1 1-3 1 0 1-1 1 1 1 0 1 2 1 0 1-6 1 3 1 4 1-3 1 0 1 3 1-2 1-1 1-2 1 0 1 3 1 0 1 0 1-1 1-1 1 3 1-1 1 0 1 1 1-1 1-3 1 0 1 0 1 5 1-3 1-3 1 3 1 2 1-2 1 1 1 0 1-1 1 0 1 1 1 0 1 1 1-1 1-2 1 1 1 1 1 2 1-4 1 3 1-2 1 1 1-2 1 0 1 2 1 3 1 0 1-2 1 0 1-2 1-2 1 2 1 1 1-2 1 2 1-2 1 1 1 3 1-4 1-1 1 3 1-2 1 1 1 1 1 0 1-2 1 3 1-1 1-2 1 0 1-1 1 3 1 2 1-4 1 4 1-2 1 0 1-3 1 3 1 1 1-1 1-2 1 4 1 0 1-4 1 1 1 2 1-1 1-1 1 2 1-1 1-3 1 2 1-1 1 2 1 0 1-1 1 2 1-2 1 1 1 0 1 0 1 1 1-3 1 4 1-3 1 2 1-3 1 2 1-1 1 0 1 0 1 0 1 0 1 0 1 1 1 0 1 0 1 1 1-1 1-2 1 4 1-5 1 3 1-1 1 1 1 0 1-1 1-2 1 3 1 0 1 0 1-3 1 1 1 0 1 2 1 2 1-3 1 3 1-1 1-3 1 2 1 1 1 2 1-4 1 0 1 1 1-1 1 3 1-1 1-2 1-1 1 2 1 1 1-1 1-2 1 3 1-2 1 0 1 1 1 0 1 2 1-2 1 0 1-1 1-1 1 2 1-1 1 1 1 1 1 0 1-1 1 0 1 1 1-5 1 4 1-1 1 1 1-4 1 7 1-3 1-1 1-1 1 2 1 1 1-4 1 2 1 1 1 0 1 0 1-1 1 3 1-3 1 2 1-2 1 0 1 2 1-3 1 1 1 2 1 0 1 0 1-2 1-1 1 3 1 0 1-2 1 1 1 0 1 0 1 0 1-3 1 1 1 2 1-2 1-1 1 2 1 0 1 1 1 0 1-1 1-1 1 3 1 1 1-2 1-1 1 4 1-3 1 1 1 0 1-1 1-2 1 4 1-3 1 1 1-1 1 1 1 1 1-3 1 1 1 2 1 2 1-2 1-2 1 0 1 2 1-1 1 2 1-2 1 0 1 1 1-1 1 1 1 0 1-2 1 3 1-2 1-2 1 3 1-1 1 1 1 1 1-1 1 1 1-2 1 1 1 0 1-1 1-2 1 1 1 1 1 0 1 1 1-1 1-1 1 0 1-1 1 4 1-5 1 2 1-2 1 3 1-2 1 2 1 1 1-2 1 1 1-1 1-1 1 0 1 0 1 0 1 4 1-5 1 3 1-1 1 0 1 1 1-3 1 3 1-1 1-4 1 7 1-1 1-6 1 3 1-3 1 2 1 0 1-3 1 3 1-1 1-2 1 3 1 1 1 0 1-7 1-3 1 1 1 4 1-1 1 1 1-3 1-4 1 3 1-1 1 9 1-12 1 5 1-4 1-3 1-1 1-3 1-4 1 14 1-4 1-13 1 3 1 4 1-3 1-2 1-6 1 5 1-2 1 5 1-14 1 3 1 4 1 3 1-8 1-5 1-8 1 0 1 11 1 0 1 2 1-9 1 6 1-8 1 0 1-1 1 7 1-12 1 7 1 5 1-7 1-2 1 0 1-5 1-2 1-6 1 14 1-8 1 22 1-26 1 11 1-7 1 9 1-4 1 0 1 7 1 1 1 13 1-19 1 5 1 1 1-7 1 6 1 1 1 12 1-10 1 4 1-6 1 9 1 4 1-4 1-9 1 15 1-10 1 8 1 10 1-11 1-7 1 10 1 8 1-3 1 4 1-15 1 11 1 12 1-11 1 2 1 7 1-1 1-1 1-5 1 8 1 2 1-5 1 6 1 2 1-3 1-2 1 3 1 2 1-4 1 0 1 9 1-1 1 0 1-1 1-1 1 1 1 0 1 0 1 4 1 2 1-5 1-2 1 3 1 1 1-2 1 2 1 2 1-1 1-2 1 1 1-1 1 2 1-1 1-2 1 3 1 1 1-3 1 2 1 2 1-1 1-3 1 2 1-2 1 2 1 0 1-1 1 2 1-2 1 2 1 0 1-1 1 1 1 1 1 0 1-2 1 0 1 1 1-1 1 2 1-1 1-3 1 4 1-3 1 2 1-1 1 0 1 1 1 0 1-2 1 3 1 0 1-2 1 1 1 0 1 0 1 0 1 2 1-2 1 0 1 2 1-1 1-2 1-2 1 4 1-3 1 2 1-1 1 1 1-1 1 1 1 0 1 2 1-4 1 4 1-1 1-4 1 3 1 0 1 0 1-1 1 1 1-1 1 1 1 0 1-1 1 0 1 0 1 0 1-2 1 0 1 3 1 1 1-3 1 2 1-1 1 1 1-1 1 2 1-1 1 2 1-5 1 3 1 3 1-5 1 0 1 0 1 3 1-2 1-1 1 2 1-1 1 1 1 0 1-2 1 3 1-1 1-1 1 1 1-1 1 4 1-5 1 3 1-1 1 0 1-1 1 1 1 0 1-1 1-2 1 4 1 0 1 0 1 1 1 0 1-2 1-1 1 2 1 0 1-1 1 1 1-5 1 2 1 2 1 2 1-1 1 0 1 0 1 2 1-2 1 0 1 0 1 1 1-3 1 2 1 2 1-2 1-2 1-1 1 3 1-1 1-1 1 0 1 2 1-2 1 1 1 2 1-3 1 1 1-1 1 1 1 1 1 0 1-2 1 3 1-4 1-1 1 6 1-4 1 2 1-2 1 1 1 0 1-1 1 1 1-2 1 1 1 3 1-2 1 0 1 1 1 1 1-5 1 3 1 0 1 2 1-3 1 1 1-2 1 0 1 3 1 0 1-3 1 0 1 1 1 0 1 1 1 0 1 0 1 3 1-4 1 0 1 2 1 0 1-1 1-1 1 1 1 1 1-2 1 1 1 1 1-1 1 0 1-1 1 3 1-1 1-1 1 0 1-3 1 3 1-2 1 1 1-1 1 0 1 1 1 2 1-1 1-2 1-1 1 1 1-1 1 2 1 2 1-1 1 0 1-1 1 0 1 2 1-3 1 3 1-1 1-1 1 0 1 0 1 2 1-1 1-1 1 2 1 1 1 1 1-3 1 1 1-1 1 1 1 0 1-1 1-1 1 2 1 1 1-2 1-1 1 2 1-2 1 1 1-1 1 4 1-3 1 0 1 0 1 1 1-1 1 3 1-3 1-2 1 2 1 0 1 0 1-2 1 3 1 1 1 0 1-1 1-1 1-1 1 2 1 0 1-2 1 0 1 2 1-2 1 1 1 1 1-1" fill="none" stroke="#00f" stroke-width="2.2" stroke-linejoin="round" vector-effect="non-scaling-stroke"/>
<path transform="matrix(0.17736 0 0 0.297667 -36.340 1041.500)" d="M760 -820l1 19 1-6 1-15 1-24 1-2 1-11 1 38 1-18 1 33 1-11 1-46 1 27 1-46 1 27 1 26 1 6 1 31 1-77 1 7 1-60 1 35 1 40 1 32 1 16 1-32 1-8 1 33 1-49 1-7 1 45 1-17 1 27 1-56 1 44 1 6 1 19 1-22 1 17 1-65 1 10 1 43 1-8 1-18 1-5 1 27 1-55 1 16 1-32 1 111 1-28 1-53 1 12 1 11 1 21 1-39 1 24 1-44 1 6 1 4 1 65 1-51 1-33 1-2 1 14 1 2 1 44 1-51 1-10 1 34 1-2 1 15 1-8 1 12 1-19 1 16 1 31 1-21 1-24 1 5 1-29 1 11 1-8 1 32 1-26 1 41 1-1 1-36 1 15 1 24 1-41 1-11 1 16 1-13 1 9 1 0 1 40 1 25 1-35 1 67 1-62 1 13 1-29 1 19 1-16 1 21 1-15 1-41 1 59 1 16 1-73 1 15 1 19 1 8 1-16 1 16 1-31 1 29 1 8 1-27 1 31 1-31 1 41 1-15 1-16 1 21 1-39 1 25 1-6 1 51 1-58 1 11 1 49 1-52 1-1 1 25 1 9 1 8 1-33 1 0 1 6 1-51 1 48 1-4 1 41 1-43 1-14 1 42 1-68 1 62 1-16 1 12 1 1 1 58 1-86 1 70 1-78 1 54 1-13 1-70 1 81 1-17 1 24 1-24 1-14 1-26 1 97 1-59 1-15 1-6 1 38 1-19 1-41 1 35 1-40 1 77 1-11 1-17 1 24 1-38 1 41 1-33 1 43 1-15 1-25 1-8 1 36 1 13 1-47 1 36 1-32 1-20 1 15 1 50 1-63 1 3 1 40 1-4 1-42 1 26 1-3 1-14 1 12 1-51 1 33 1 28 1 1 1 10 1-34 1 55 1-47 1 34 1 29 1-65 1 13 1 4 1 14 1-7 1 15 1-45 1-1 1 33 1-1 1-6 1-14 1 16 1 16 1-5 1-11 1 10 1 5 1-36 1 18 1-11 1 42 1-39 1 19 1 6 1 10 1 0 1-4 1-13 1 5 1-47 1 35 1 5 1 8 1 16 1 1 1-26 1 43 1-71 1 1 1 70 1-61 1 3 1-1 1 11 1-22 1 56 1-8 1-23 1 13 1 33 1-50 1-5 1 29 1-13 1-13 1 69 1-34 1 7 1-16 1 25 1 1 1-33 1-36 1 69 1-64 1 15 1-1 1-6 1 39 1-34 1 59 1-16 1-25 1-9 1 48 1 12 1-51 1 3 1-9 1 18 1 28 1-55 1 8 1 14 1-45 1 44 1-28 1 37 1 63 1-39 1 36 1-56 1-32 1 65 1-54 1 23 1-26 1 12 1 31 1-35 1 14 1-21 1-23 1 48 1-40 1 39 1-16 1 10 1 19 1-17 1 13 1-22 1 36 1-2 1-40 1 7 1 0 1 0 1-10 1 13 1-10 1 38 1-28 1 28 1 12 1-23 1-19 1 14 1-39 1 25 1 6 1 8 1 32 1-31 1 1 1-38 1 57 1-14 1 13 1-19 1 42 1-45 1 7 1-3 1-54 1 60 1-12 1 11 1-24 1-25 1 12 1 31 1 36 1-38 1 47 1-17 1-6 1 11 1-24 1 9 1 8 1-24 1 25 1-45 1 15 1 24 1-19 1 25 1-1 1-36 1 58 1-45 1-32 1 92 1-102 1 96 1 8 1-3 1-21 1-12 1 29 1-37 1-22 1 35 1-19 1-11 1-24 1 40 1-17 1 5 1 10 1 9 1-15 1-7 1 45 1-21 1-15 1 1 1-1 1-28 1 13 1 52 1-63 1 51 1 3 1-42 1 31 1 31 1-51 1 4 1-2 1 44 1-49 1 32 1-33 1 48 1-6 1 22 1-26 1-40 1 18 1 18 1-42 1 26 1-12 1 10 1 10 1-5 1-7 1-15 1 12 1-6 1 45 1 17 1-48 1 4 1-6 1 32 1-25 1 27 1-25 1 4 1 2 1-10 1 18 1-10 1-16 1-18 1 25 1-9 1 6 1-24 1-9 1 61 1-29 1 9 1-28 1 89 1-40 1 25 1-69 1 25 1-8 1 6 1 3 1-3 1 19 1 36 1-52 1 9 1 11 1 1 1-41 1 45 1 7 1-37 1-18 1 61 1-6 1 2 1-32 1-3 1-19 1 33 1 4 1 8 1-37 1 38 1 5 1-12 1-5 1-9 1 23 1-52 1-3 1 67 1-27 1 25 1-16 1 22 1-21 1-12 1 3 1 33 1 15 1-3 1-67 1 31 1-5 1-30 1 54 1-31 1 24 1-18 1 45 1-32 1-7 1-3 1 34 1-26 1-24 1 21 1-20 1 5 1 9 1 14 1-10 1 22 1-34 1 8 1-19 1-23 1 31 1 7 1 8 1-14 1-11 1 37 1 22 1 2 1-50 1 12 1 0 1 49 1-23 1 23 1-7 1-10 1 4 1-46 1 64 1-12 1 6 1-15 1-12 1 36 1 21 1-24 1-15 1 34 1-40 1 44 1-5 1-1 1-47 1 27 1 11 1 31 1 5 1-6 1-44 1 9 1 26 1 20 1 25 1-24 1-17 1 2 1 6 1 25 1-22 1 16 1-18 1 15 1-7 1 11 1 19 1-30 1 47 1-31 1 24 1 1 1-9 1 18 1 12 1 1 1 7 1-20 1-3 1 11 1 31 1-30 1-13 1 43 1-2 1-32 1 24 1-21 1 29 1 23 1-23 1 3 1-4 1 24 1-4 1-43 1 50 1-37 1 52 1-22 1 0 1-6 1 18 1 13 1-11 1 30 1 19 1-15 1-55 1 14 1-17 1 25 1 35 1-8 1-23 1 20 1 2 1 3 1-6 1 21 1-42 1 21 1-35 1-7 1 30 1-19 1-1 1 15 1 7 1-25 1 11 1 15 1 5 1-9 1-16 1 4 1 23 1-8 1-5 1 10 1-6 1 16 1-3 1-19 1 1 1 9 1-43 1 41 1-15 1 7 1 13 1-20 1-7 1 19 1-9 1-41 1 66 1-12 1-14 1 10 1 15 1-6 1-4 1 0 1-5 1-27 1 24 1 10 1-18 1 0 1 31 1-8 1 8 1-25 1-9 1 19 1-26 1 32 1-4 1-5 1-4 1-26 1 49 1-29 1 8 1-19 1 44 1-3 1-50 1 8 1 3 1 21 1-21 1 19 1 19 1-17 1 2 1 14 1-8 1 2 1-21 1-8 1-2 1 0 1 38 1-29 1-4 1 7 1 24 1 34 1-53 1 17 1-30 1 41 1-35 1 17 1 16 1-15 1-5 1-18 1 1 1-8 1 9 1 21 1 0 1-11 1 9 1 23 1 7 1-49 1 11 1-32 1 43 1-26 1 15 1-6 1 8 1-18 1 10 1 17 1-6 1 2 1-5 1-3 1 12 1 2 1-10 1 31 1-38 1 1 1 60 1-35 1-18 1 39 1-47 1-10 1 9 1-8 1 19 1-17 1 3 1 14 1-4 1 31 1-5 1-41 1-1 1 32 1 13 1 8 1-55 1 14 1-27 1 11 1-13 1 21 1 24 1-3 1-26 1 45 1-35 1 17 1-29 1 32 1 3 1-30 1 73 1-74 1 13 1 16 1-22 1 20 1-19 1 9 1-12 1 30 1-5 1-43 1 26 1 9 1 13 1-7 1-13 1 25 1-20 1 4 1 29 1-34 1-21 1 29 1-4 1-8 1 15 1 20 1-31 1 8 1 4 1-36 1 23 1 15 1-1 1-40 1 14 1 45 1-42 1 20 1 1 1-29 1 7 1 27 1-14 1-12 1 14 1-10 1 20 1-35 1-2 1 36 1 14 1-17 1-23 1 12 1 4 1-4 1 29 1-24 1 1 1 9 1-25 1 26 1-1 1-23 1 2 1 9 1-2 1-3 1 1 1 23 1-31 1-21 1 29 1 11 1-25 1 10 1 24 1-11 1 8 1-28 1 41 1-44 1 33 1-17 1 13 1-14 1-13 1 9 1 32 1-16 1-7 1-30 1 41 1-2 1 7 1-12 1-13 1 29 1-41 1 2 1 8 1 4 1-32 1 61 1-9 1-46 1 58 1-26 1 8 1 13 1 1 1-13 1-8 1-4 1-1 1 9 1 0 1-9 1 21 1 12 1-37 1 50 1-45 1-12 1 43 1 17 1-23 1-20 1 22 1-34 1 6 1 29 1-31 1 39 1-17 1-12 1-19 1 10 1-13 1 51 1-80 1 71 1-20 1-22 1 18 1-12 1 42 1-1 1-12 1 2 1-11 1 7 1 15 1-24 1 28 1-12 1-17 1 21 1-15 1-12 1-14 1 5 1 6 1 6 1 31 1-7 1 0 1-5 1-7 1 14 1-9 1-26 1 27 1 26 1-29 1-2 1 4 1-43 1 21 1-13 1 40 1-23 1 9 1 6 1 13 1-17 1 37 1-49 1-31 1 22 1 62 1-39 1 17 1-2 1-6 1-24 1 8 1 27 1-23 1 7 1-32 1 60 1-22 1 14 1-15 1 34 1-18 1-14 1 9 1 5 1-12 1 8 1 6 1-11 1-4 1-5 1 35 1-22 1-26 1 44 1-26 1 11 1-26 1-2 1 16 1 14 1 18 1-17 1 5 1-14 1-25 1-5 1 27 1 3 1 5 1-7 1 9 1-33 1 42 1-14 1 13 1-26 1-14 1 20 1 8 1 2 1-8 1 18 1-35 1-1 1 12 1 4 1 20 1-36 1 53 1-10 1-47 1 42 1 7 1 14 1-44 1-2 1 17 1 30 1-25 1 12 1-27 1-9 1 17 1 1 1-18 1-2 1 47 1-26 1 26 1-6 1-31 1 37 1-15 1-22 1 13 1 34 1-24 1 2 1 11 1-47 1 33 1 0 1-15 1 14 1 24 1-21 1-6 1 4 1-14 1 3 1 7 1 11 1-3 1-30 1 58 1-44 1 11 1 18 1-10 1-10 1 33 1-25 1-6 1 24 1-16 1-20 1 19 1 17 1 12 1 4 1-44 1 19 1-1 1 2 1 9 1-39 1 17 1-12 1 43 1-28 1-1 1 29 1-4 1 0 1-29 1 13 1 15 1-22 1 22 1-12 1 3 1 13 1-28 1 14 1 37 1-33 1-26 1 59 1-49 1 11 1 23 1-18 1 17 1 7 1-30 1 2 1 33 1-20 1-8 1 25 1-41 1 29 1-18 1-3 1 25 1-20 1 4 1-4 1 13 1-22 1 5 1-13 1 8 1 38 1-12 1-16 1-8 1 26 1-10 1-5 1 7 1-17 1 31 1-22 1 20 1-19 1 21 1-9 1-18 1 29 1-16 1-8 1 12 1 2 1-4 1 14 1-25 1 1 1-15 1 23 1-12 1 24 1-15 1 22 1-17 1 8 1-19 1 46 1-28 1 2 1-14 1 21 1-4 1-25 1 29 1-4 1-23 1 50 1-38 1 1 1 2 1 31 1-5 1-9 1 1 1-23 1 17 1-28 1 22 1-9 1 20 1-1 1-15 1-7 1 24 1-29 1 23 1-27 1 42 1-13 1-14 1 11 1 8 1-18 1-5 1 21 1-17 1 18 1 6 1-31 1 28 1-1 1-18 1 26 1-1 1-9 1-5 1-13 1 17 1 8 1 9 1-14 1 3 1-23 1 40 1 3 1 1 1-23 1-10 1-17 1 48 1-26 1 12 1-33 1 19 1-17 1 23 1-16 1 11 1 15 1-23 1 19 1 29 1-32 1 17 1-25 1-15 1 19 1-4 1 27 1-7 1-2 1-37 1 35 1-10 1 31 1-19 1-9 1 4 1 3 1-11 1 0 1 25 1 2 1-27 1-4 1 32 1-29 1 31 1-18 1-21 1 43 1-24 1 4 1 13 1-27 1 25 1-4 1 7 1-22 1-2 1-11 1 24 1 9 1-34 1 31 1-19 1-13 1 12 1 39 1-11 1-4 1-23 1 24 1-22 1 8 1 1 1 3 1 11 1-31 1 19 1-20 1 35 1 12 1-45 1 38 1-18 1 7 1-3 1 3 1 11 1 2 1-20 1 14 1-35 1 24 1-19 1 28 1-19 1 21 1 5 1-9 1-1 1-40 1 58 1-10 1-19 1 13 1-4 1-9 1 14 1 9 1 10 1-18 1-8 1 5 1-13 1 23 1-8 1 17 1 16 1-34 1 17 1-14 1 20 1 15 1-7 1-6 1 9 1-3 1-9 1 11 1-4 1 12 1 10 1 7 1 19 1-34 1-4 1 31 1 2 1 2 1-12 1 6 1 7 1 1 1 23 1-16 1 4 1-5 1 17 1 1 1-6 1-26 1 42 1-28 1 38 1-9 1 15 1-24 1 18 1 2 1-6 1 0 1 25 1-7 1 11 1-15 1 38 1-43 1 29 1 22 1-21 1 14 1-6 1 3 1-7 1 32 1-19 1-4 1 27 1-17 1 3 1 15 1 16 1-16 1 9 1-15 1 19 1-6 1 7 1 4 1 15 1-1 1-4 1 4 1 4 1-4 1 8 1-2 1 8 1 0 1 9 1 9 1-14 1 2 1 3 1 11 1-11 1 7 1 1 1 6 1-1 1 1 1-6 1 7 1-4 1 3 1 5 1-9 1 0 1 0 1 20 1-26 1 7 1 6 1-19 1 13 1-5 1 4 1 16 1-23 1 15 1-14 1 8 1 4 1 11 1-13 1 3 1-6 1 7 1-12 1 8 1 0 1-16 1 8 1 9 1-6 1 12 1-5 1-4 1 4 1 2 1-11 1 8 1 1 1-1 1 0 1-9 1 3 1 12 1-18 1 1 1 9 1 5 1-7 1 4 1-7 1 4 1-9 1 19 1-7 1-5 1 5 1-1 1 5 1-20 1 14 1-6 1 10 1-2 1-3 1-11 1 2 1-5 1 4 1 0 1 11 1 3 1-13 1 13 1-8 1 8 1 2 1-7 1 7 1-4 1-8 1 7 1-7 1 9 1-5 1 8 1-14 1 21 1-15 1-2 1 20 1-6 1 0 1-9 1 1 1 0 1-6 1-10 1 21 1-9 1 2 1-7 1 21 1-4 1-3 1 0 1-8 1 4 1 10 1-8 1 6 1-6 1-3 1 3 1-12 1-7 1 11 1 13 1-19 1-4 1 15 1-4 1-4 1 5 1-6 1 4 1 7 1 0 1-2 1 3 1-13 1 7 1 3 1-6 1 4 1-6 1-3 1 9 1 4 1 4 1-18 1 8 1 7 1-4 1 7 1-16 1 7 1 4 1 7 1-22 1 12 1 15 1-10 1-4 1-1 1 8 1-14 1 3 1 4 1 4 1 7 1-8 1-2 1 7 1-10 1-3 1 8 1 0 1-3 1-10 1 1 1 20 1-8 1-19 1 18 1-13 1 8 1-5 1 11 1-3 1-3 1 3 1 1 1-10 1 10 1-9 1 12 1-2 1-6 1 1 1-3 1 6 1 1 1 2 1 7 1-7 1-9 1 7 1-2 1-6 1 13 1-8 1 6 1-10 1 16 1-7 1 1 1-1 1 1 1-15 1 13 1 0 1 8 1-1 1-3 1 2 1-10 1 6 1 0 1-2 1 5 1 2 1-4 1-5 1 2 1 4 1-15 1 8 1-2 1-5 1 15 1-12 1 5 1-1 1 11 1-4 1-5 1 0 1-9 1 11 1-3 1 3 1 6 1-6 1-2 1-10 1 3 1 11 1 2 1-6 1 4 1-19 1 10 1 6 1 3 1 3 1-6 1 15 1-13 1 0 1-12 1 20 1-16 1 8 1-7 1 9 1-7 1-3 1-10 1 20 1-4 1 0 1 3 1-3 1-1 1 3 1 8 1-12 1 11 1-9 1-7 1 14 1-7 1-2 1 2 1 3 1-3 1-4 1 10 1-5 1-6 1 8 1 4 1-12 1 1 1-2 1 6 1 4 1-13 1 1 1 3 1 8 1-4 1 6 1 1 1-7 1-1 1-1 1 2 1-11 1 18 1-14 1 11 1-9 1 12 1-19 1 4 1 19 1-18 1 7 1-4 1 5 1 1 1 8 1-6 1-2 1 10 1-4 1-6 1-3 1 6 1-11 1 12 1-7 1-4 1 13 1-12 1 8 1 5 1-15 1 1 1 11 1-7 1 1 1 6 1-12 1 14 1 3 1-3 1 1 1 3 1 0 1 7 1-10 1 11 1-12 1 3 1 7 1 1 1 2 1-3 1-8 1 8 1 5 1-10 1 12 1 0 1-11 1 8 1-1 1 3 1 2 1 0 1 1 1-6 1 16 1 6 1-8 1 6 1-6 1 6 1-4 1-3 1 7 1 2 1-5 1 6 1-1 1 1 1 5 1-7 1 8 1-6 1 3 1 5 1-1 1-2 1 3 1-5 1 9 1-5 1 8 1-3 1-2 1 6 1-3 1 3 1 0 1 0 1-1 1 0 1 1 1 0 1 3 1-6 1-1 1 2 1 2 1 1 1-2 1 0 1 1 1-1 1-1 1 1 1 0 1 0 1 1 1-1 1 0 1 1 1-1 1-1 1 0 1 4 1-1 1-3 1 0 1 0 1 3 1-2 1-1 1 0 1 2 1 0 1-1 1 0 1-2 1 6 1-3 1-3 1 4 1-2 1-2 1 4 1-2 1-3 1 5 1 1 1-4 1 2 1-1 1 0 1-2 1 3 1-2 1 0 1 1 1-1 1 1 1 0 1-4 1 7 1-1 1 0 1-1 1-1 1 0 1-3 1 4 1 1 1-2 1 1 1 0 1-2 1 1 1-2 1 4 1-3 1 1 1 1 1 2 1-3 1 2 1-3 1 0 1 0 1-3 1 2 1 5 1-4 1 1 1 0 1 1 1-2 1 5 1-2 1-3 1 1 1-1 1 2 1 0 1-2 1 1 1 3 1-4 1 3 1-3 1 1 1-1 1 0 1 3 1-3 1 1 1 1 1-1 1 1 1-1 1 0 1 1 1-2 1 1 1 2 1-2 1-1 1 3 1-2 1 1 1-1 1 0 1 0 1 0 1 4 1-4 1-1 1 0 1-1 1 2 1-2 1 1 1 2 1 0 1-3 1 1 1 4 1-1 1-4 1 2 1 3 1-3 1-1 1 0 1 1 1 1 1 0 1 0 1-1 1-4 1 0 1 4 1 3 1-3 1 1 1 0 1 2 1-3 1 1 1-1 1 3 1-3 1 2 1 0 1-1 1 0 1 0 1 0 1 0 1 0 1 0 1 0 1-4 1 2 1 2 1 1 1-3 1 1 1 0 1-2 1 5 1-2 1-1 1-2 1 2 1 0 1 0 1 0 1 0 1 1 1 0 1 0 1-2 1-1 1 2 1 1 1-3 1 1 1 0 1 1 1 1 1-1 1 1 1-2 1 3 1-2 1 0 1 2 1-1 1 1 1-1 1 0 1-5 1 6 1-3 1 2 1-1 1 1 1 1 1-4 1 1 1 4 1-2 1 0 1 2 1-3 1 0 1 0 1 0 1-2 1 3 1-3 1-1 1 7 1-3 1-3 1 2 1 1 1-3 1 1 1 4 1-4 1 2 1-1 1 2 1-3 1 1 1 2 1-1 1-3 1 0 1 5 1-3 1 1 1 0 1-1 1-2 1 1 1 3 1-2 1 0 1-1 1 1 1 0 1 0 1-1 1 4 1-5 1 2 1 0 1 2 1-2 1-3 1 4 1 2 1-3 1 0 1 0 1 3 1-3 1-1 1 5 1-4 1-1 1 3 1 2 1-4 1-3 1 3 1-3 1 3 1 1 1 0 1-3 1 4 1-1 1 0 1-1 1 0 1 3 1-1 1-4 1 2 1 0 1 1 1-1 1 1 1-2 1 0 1 1 1-1 1 2 1 0 1-2 1 1 1 2 1-4 1 3 1-1 1-2 1 4 1-1 1-2 1 2 1 0 1 0 1 0 1 0 1-1 1 0 1-2 1 2 1-2 1 2 1-2 1 3 1-3 1 2 1-2 1 4 1-1 1-1 1 2 1-4 1 3 1-1 1-1 1 0 1 2 1 1 1 1 1-1 1-1 1 1 1-2 1 2 1 1 1-3 1-2 1 4 1-1 1-1 1-1 1 0 1 2 1-2 1 1 1-1 1-1 1 6 1-2 1 0 1 0 1-2 1 0 1-2 1 0 1 2 1 1 1-2 1 1 1 1 1-2 1 2 1 0 1 0 1 0 1 0 1-1 1 1 1 1 1-4 1 0 1 0 1 1 1 2 1 1 1 0 1 1 1-2 1 2 1-3 1 0 1 1 1 0 1 0 1-1 1 1 1-3 1 4 1-1 1 0 1 0 1-1 1 0 1 1 1-3 1 5 1-3 1 0 1 2 1 1 1-3 1-1 1 1 1 1 1 0 1 0 1 0 1-1 1-1 1 1 1 1 1-1 1-1 1 4 1-3 1 1 1-1 1 2 1 0 1-1 1 0 1 0 1 1 1-2 1-1 1 3 1-2 1 1 1-1 1-1 1 1 1 1 1 1 1-3 1-1 1 5 1-3 1 1 1 1 1-4 1 2 1-3 1 5 1-1 1 2 1-3 1 3 1-2 1-2 1 1 1-1 1 1 1-1 1 2 1 1 1-2 1 1 1 1 1 0 1-3 1 4 1-1 1-2 1 0 1 0 1 3 1-4 1 2 1 2 1-4 1 2 1 2 1 1 1-3 1 0 1-1 1 0 1 2 1-2 1 0 1 2 1-3 1 1 1 1 1-1 1 2 1 0 1-1 1 1 1-4 1 2 1 0 1-2 1 0 1 0 1 4 1-4 1 3 1 0 1-1 1 0 1 1 1-1 1-2 1 6 1-1 1-1 1-2 1 0 1 0 1-2 1 2 1 3 1-3 1-2 1 0 1 3 1-1 1 0 1 0 1 1 1 0 1-3 1 0 1 3 1 0 1 0 1 1 1 0 1-1 1 1 1-2 1 1 1 1 1-1 1 3 1-4 1 1 1-2 1 2 1 0 1 1 1-4 1 2 1-1 1 2 1-1 1 2 1-1 1 0 1 1 1-2 1-1 1 0 1 3 1-1 1 0 1-1 1 2 1-1 1-2 1 1 1 1 1 1 1-1 1-1 1-1 1 4 1-3 1 1 1 1 1-4 1 2 1 2 1 0 1-2 1 3 1-2 1-1 1 3 1-3 1 0 1 2 1-2 1 0 1 0 1 2 1-3 1 2 1-1 1 1 1 0 1 3 1-5 1 1 1 0 1 0 1 1 1 0 1-1 1 4 1-2 1 0 1-1 1 0 1 1 1-2 1 0 1 0 1-1 1 1 1-1 1-1 1 3 1 1 1 0 1-1 1-1 1 0 1 0 1 2 1-1 1 0 1-1 1 4 1-4 1 0 1 2 1-3 1 1 1 0 1 3 1-3 1 0 1 0 1 4 1-1 1-2 1 2 1-4 1 3 1-2 1 0 1-3 1 4 1-2 1 2 1 1 1-2 1-1 1 2 1-2 1 1 1 1 1-1 1 1 1 1 1-2 1 0 1 2 1 2 1-4 1 2 1-2 1 2 1-2 1 1 1 0 1 0 1-1 1 3 1-4 1 0 1 1 1 3 1-3 1 1 1-3 1 3 1 0 1-2 1 5 1-3 1 0 1 3 1-2 1-2 1 0 1-2 1 1 1 4 1-3 1 0 1 1 1 1 1-4 1 0 1 2 1 2 1 0 1 0 1-3 1 4 1-4 1 2 1-1 1 0 1-3 1 3 1 1 1-1 1 1 1 0 1 0 1 1 1-2 1 3 1-4 1 2 1 1 1-2 1 0 1 1 1 2 1 0 1-3 1-2 1 2 1 0 1 0 1 2 1-3 1 3 1-1 1 1 1 0 1 0 1 0 1-1 1-2 1 1 1 2 1-2 1 2 1-3 1 1 1 1 1 0 1 0 1 1 1 0 1-1 1 1 1-1 1-1 1 1 1-1 1-2 1 3 1-2 1 3 1 0 1-2 1 1 1 2 1-4 1 1 1 2 1-1 1 0 1 1 1-2 1 3 1 0 1-4 1 3 1 0 1-1 1 1 1-4 1 2 1 0 1-1 1-1 1 6 1-4 1 0 1 1 1-2 1 1 1 3 1-3 1 1 1-2 1 5 1-4 1 1 1-1 1 0 1 4 1-4 1 1 1 1 1-3 1 2 1-3 1 1 1 3 1-2 1 1 1 0 1 0 1-2 1 3 1-2 1 3 1-3 1 2 1 1 1-2 1 1 1-3 1 3 1-4 1 1 1 1 1 0 1 0 1-3 1 3 1 1 1-1 1 1 1-1 1 1 1 0 1-2 1 1 1-1 1 1 1 0 1 1 1-3 1-1 1 3 1-2 1 4 1-1 1-3 1 4 1-9 1 3 1-1 1 3 1 2 1-1 1 0 1-4 1 3 1 0 1-6 1 6 1-2 1-5 1-4 1 10 1 2 1-5 1-4 1 0 1 1 1 2 1-8 1 4 1-1 1-3 1-6 1 4 1-10 1 9 1-4 1 9 1-7 1-4 1 2 1-1 1-2 1 0 1-3 1-5 1-3 1 6 1-6 1 1 1-10 1-7 1 7 1-3 1 2 1-6 1 2 1 5 1-17 1-8 1 8 1 2 1-5 1-9 1 12 1-10 1 2 1 15 1-14 1-8 1 0 1 2 1 7 1-12 1-1 1-4 1-10 1 12 1-9 1 4 1-18 1 16 1-16 1 27 1 1 1-13 1 4 1-11 1 4 1 0 1 13 1-6 1-6 1 11 1-4 1-8 1 10 1-1 1-6 1 7 1 15 1-11 1 2 1-1 1-12 1 10 1 8 1 7 1-8 1 6 1-6 1 8 1-2 1 13 1-2 1 0 1 7 1-5 1 6 1 2 1 3 1-1 1 10 1-12 1 4 1 1 1-2 1 7 1 4 1-6 1 10 1-1 1 12 1-6 1-1 1-2 1 2 1 0 1 7 1 1 1-2 1 5 1 0 1-1 1 8 1-1 1-5 1 4 1-4 1 5 1 2 1-4 1 3 1-1 1 3 1 1 1-1 1 2 1-1 1 2 1-2 1-1 1 1 1 4 1-5 1 6 1-3 1 0 1-1 1 3 1 0 1-3 1 0 1 4 1-1 1 1 1 3 1-6 1 3 1-1 1 0 1 2 1-3 1 2 1 2 1-3 1 0 1 1 1 0 1-3 1 2 1 1 1 0 1-3 1 3 1 3 1-5 1 2 1 3 1-1 1 0 1 1 1-2 1 0 1-3 1 2 1 1 1-1 1 0 1-2 1 0 1 5 1-1 1-2 1-3 1 4 1-3 1 3 1 0 1-1 1-2 1 3 1-1 1-1 1 0 1 1 1-1 1-1 1 1 1 1 1 0 1 0 1 0 1 1 1 0 1 0 1 2 1-7 1 3 1 2 1 0 1-3 1 4 1-1 1-3 1 2 1-1 1 1 1 0 1 1 1-2 1 1 1 0 1 1 1-3 1 2 1-1 1 3 1 0 1-3 1 2 1 0 1-2 1-1 1 2 1 0 1-1 1 0 1 1 1 2 1-3 1 2 1-4 1 4 1-1 1 0 1 0 1-4 1 4 1-1 1 1 1 0 1-1 1 0 1 1 1 1 1-2 1-4 1 5 1-1 1 2 1-6 1 7 1-1 1 2 1-4 1 1 1-1 1 1 1-2 1 0 1 0 1 5 1-2 1-1 1-1 1 4 1-5 1 1 1-1 1 4 1-1 1 0 1 0 1 0 1 1 1-4 1 1 1 2 1 2 1-5 1 5 1-1 1 0 1-1 1-2 1 0 1 1 1 2 1-4 1 0 1 1 1-2 1 4 1 0 1 0 1 0 1-2 1 1 1 1 1-3 1 2 1 1 1 0 1 1 1-2 1 1 1-1 1-1 1 0 1 2 1-4 1 5 1-3 1 1 1 0 1 1 1 0 1-2 1 3 1-2 1 2 1 1 1-3 1 1 1-4 1 5 1-2 1 0 1 0 1 1 1 1 1-3 1 0 1 1 1 0 1-2 1 1 1 0 1 2 1-2 1 2 1-1 1 1 1-1 1-1 1 1 1-1 1 2 1-3 1 2 1-4 1 3 1 1 1 2 1-1 1-4 1 5 1 0 1-2 1-2 1 3 1 0 1-1 1 0 1-1 1-2 1 3 1 1 1 1 1 0 1-2 1 2 1-3 1 1 1 1 1-3 1 4 1-3 1 1 1 0 1 0 1 2 1-3 1-1 1 5 1-3 1 0 1 1 1-1 1 0 1 1 1-3 1 3 1 0 1 0 1 0 1 0 1-3 1 3 1-4 1 5 1 1 1-2 1 1 1-4 1 2 1 2 1-2 1 1 1-4 1 3 1 0 1-1 1 1 1 0 1 1 1-1 1 0 1 2 1-2 1 2" fill="none" stroke="#f00" stroke-width="2.2" stroke-linejoin="round" vector-effect="non-scaling-stroke"/>
<path transform="matrix(0.17736 0 0 0.297667 -36.340 1041.500)" d="M760 -822l1-45 1-17 1-12 1 43 1 25 1-16 1-18 1-4 1-16 1 18 1-35 1 48 1-31 1-5 1 7 1-4 1 46 1-56 1 39 1-9 1 24 1-39 1 22 1 7 1-38 1 40 1-31 1 5 1-10 1 13 1 36 1-38 1-7 1-42 1 0 1 28 1-3 1 100 1-57 1 15 1-48 1 2 1 0 1-1 1 6 1 13 1 14 1-37 1 20 1-30 1 43 1-5 1 15 1-41 1 42 1 43 1-44 1-3 1-19 1 9 1-46 1 27 1-18 1-12 1 10 1 3 1 40 1-26 1 15 1-25 1 38 1-35 1 33 1-35 1-14 1 0 1 46 1-49 1 86 1-53 1 45 1-41 1 34 1-32 1 19 1-56 1-26 1 37 1-5 1 16 1 16 1 4 1 26 1-10 1-45 1 34 1-23 1 37 1-91 1 27 1 41 1-56 1 39 1-17 1 35 1 9 1-53 1 19 1-3 1-5 1 25 1 17 1-24 1 60 1-52 1-29 1 39 1-59 1 62 1 20 1-46 1 22 1-22 1 36 1-33 1 13 1-4 1-19 1 49 1-17 1-35 1-3 1 15 1 52 1-36 1 17 1-2 1 35 1 16 1-86 1 6 1 63 1-30 1-11 1 19 1-30 1 25 1 29 1-27 1-24 1 39 1-46 1-8 1 12 1 2 1 19 1-18 1 36 1 45 1-45 1-60 1 12 1 59 1-23 1 14 1 13 1-23 1-31 1 21 1 9 1 53 1-120 1 93 1-32 1-22 1 18 1-18 1 88 1-40 1-5 1 19 1 7 1-68 1 60 1-65 1 5 1 35 1 29 1-22 1 4 1-1 1 4 1-23 1 10 1-6 1-1 1-34 1-21 1 55 1 3 1 2 1-30 1 8 1 16 1 7 1-19 1-13 1 41 1-23 1 61 1-31 1-31 1 57 1-2 1-48 1 62 1-45 1-66 1 48 1-38 1 5 1 64 1-15 1-15 1-20 1-9 1 19 1 12 1 38 1-57 1 45 1-43 1-9 1 76 1-94 1 61 1-35 1 4 1-24 1 18 1-12 1 22 1 45 1-16 1-24 1-6 1 22 1 24 1 15 1-37 1-79 1 86 1 10 1-30 1-3 1 17 1 58 1-35 1-1 1-34 1 34 1-10 1 24 1-15 1-75 1 38 1 11 1 35 1 11 1-61 1 28 1-16 1 9 1 5 1 71 1-92 1-23 1 46 1 7 1-10 1 13 1 43 1-40 1-9 1-28 1 55 1-18 1-8 1-12 1-40 1 36 1 0 1 50 1-75 1 90 1-83 1 13 1 21 1 32 1-43 1 28 1-49 1 116 1-81 1 73 1-72 1 10 1-30 1 53 1-3 1 32 1-46 1-17 1 12 1 20 1-20 1-21 1 7 1 62 1-39 1 11 1 51 1-91 1 8 1 37 1-42 1 8 1 20 1-21 1 14 1 13 1-46 1 71 1-93 1 44 1 19 1-23 1 37 1-14 1-64 1 41 1 18 1 0 1-29 1 0 1 34 1-40 1 33 1 1 1-22 1 41 1 22 1-37 1-28 1 32 1-31 1-9 1 42 1-9 1 4 1-21 1 5 1 8 1-31 1 26 1 4 1 27 1-21 1-34 1 18 1 16 1 6 1 22 1-5 1-46 1 26 1-1 1-31 1 45 1 2 1-50 1 21 1 59 1-41 1 21 1-7 1-7 1 37 1-24 1-67 1 54 1 8 1-38 1 62 1-30 1-40 1 34 1-8 1 15 1-15 1-9 1 23 1-7 1-3 1 57 1-74 1-24 1 27 1 16 1 16 1-19 1-42 1 13 1 58 1-58 1 58 1-1 1-13 1-20 1 23 1-32 1 19 1-33 1 78 1-39 1-15 1-22 1 95 1-48 1 46 1-63 1 26 1-23 1-17 1 4 1 28 1-21 1-65 1 94 1-27 1 28 1-34 1 43 1-37 1 55 1-43 1-61 1 96 1-14 1-39 1 53 1 32 1-17 1-48 1-23 1 26 1 1 1-26 1 29 1-35 1-4 1 48 1-41 1 15 1 22 1-3 1-28 1 60 1 10 1-71 1-21 1 44 1-19 1 70 1-8 1-20 1-4 1-14 1 17 1-10 1 4 1-21 1-12 1 6 1-13 1 41 1 7 1 38 1-5 1-64 1 9 1 11 1 10 1 24 1 25 1-41 1-8 1 60 1-100 1 52 1-29 1-22 1-5 1 47 1-32 1 1 1 23 1-7 1 32 1-29 1 24 1-11 1-8 1-22 1 31 1 1 1 4 1-81 1 82 1-23 1 52 1-40 1 33 1-17 1-33 1-25 1 40 1-11 1 12 1 16 1-13 1-23 1 20 1 16 1 2 1-24 1 21 1-32 1 61 1-56 1 41 1-19 1-56 1 28 1 41 1-3 1-33 1-1 1 25 1-19 1 30 1 61 1-98 1 41 1-27 1 21 1 4 1 17 1-41 1 0 1-8 1 16 1 10 1 26 1-11 1-8 1 77 1-31 1-22 1-22 1-12 1-5 1 65 1-18 1 18 1 10 1-9 1-8 1-15 1 60 1-31 1 24 1-56 1-4 1 56 1 9 1-30 1-5 1 50 1-11 1-14 1 35 1-59 1 38 1 2 1 33 1-54 1 64 1-12 1-1 1-8 1 34 1-13 1-29 1 18 1-1 1-17 1 15 1-10 1 25 1 24 1-56 1 80 1-4 1-3 1-77 1 55 1-20 1 63 1-8 1-29 1 20 1-10 1-8 1 14 1 3 1 0 1 13 1-9 1-12 1 45 1-24 1-11 1 26 1 1 1-40 1 18 1-23 1 11 1 49 1 9 1-8 1-24 1 92 1-73 1-24 1 25 1-6 1 12 1 31 1-56 1 26 1-16 1 10 1-41 1 32 1 0 1 12 1 15 1-26 1-14 1 23 1 46 1-30 1-57 1 53 1-16 1 44 1-28 1 6 1-35 1 4 1 2 1-10 1 32 1-47 1 42 1-25 1-25 1 56 1-19 1 10 1-5 1-4 1 8 1-1 1-15 1 43 1-12 1-5 1 18 1-36 1 17 1 8 1 11 1-10 1-28 1 36 1-46 1 6 1 7 1 42 1-19 1-38 1 30 1 8 1-1 1-23 1 47 1-61 1 17 1 27 1-35 1 71 1-32 1-32 1-25 1 57 1 5 1-29 1-3 1 18 1 1 1-50 1 53 1 14 1-25 1-36 1 13 1 15 1 27 1-26 1-62 1 48 1-10 1 56 1-25 1 4 1-49 1 43 1-5 1 9 1 50 1-84 1 64 1-28 1 22 1-21 1-3 1 1 1-41 1 56 1-19 1-18 1 20 1 3 1-52 1 24 1 35 1-24 1 25 1-29 1 40 1-47 1 9 1 1 1 7 1-4 1 23 1-20 1-11 1 3 1 29 1-31 1 37 1-10 1 3 1-5 1-10 1-17 1-8 1 13 1 25 1-32 1-5 1 37 1 9 1-21 1-44 1 47 1-3 1-18 1 40 1-2 1-21 1-20 1 24 1 8 1 21 1-68 1 60 1-55 1 43 1-39 1-12 1 55 1-31 1-3 1-11 1 33 1-33 1 24 1 24 1-42 1-6 1 27 1 2 1-18 1-20 1 62 1-48 1-21 1 62 1-31 1 11 1-6 1-19 1 60 1-23 1 19 1-23 1-46 1 62 1-12 1 2 1-21 1 15 1 10 1 0 1-13 1 23 1 25 1-75 1 21 1 16 1-9 1-19 1 33 1-18 1 12 1-37 1 77 1-22 1-59 1 55 1-9 1 10 1 23 1-47 1-16 1 8 1 32 1-14 1-46 1 38 1 16 1-38 1 25 1 33 1-21 1-37 1 23 1-2 1-15 1 30 1 15 1-31 1 13 1-13 1 16 1 0 1 14 1-35 1-35 1 67 1-50 1 10 1 28 1 7 1-32 1 19 1-2 1 4 1-50 1 74 1-42 1-31 1 36 1-41 1 45 1-3 1-13 1 31 1-15 1-12 1 27 1-24 1-13 1 47 1-21 1-11 1 23 1-36 1-4 1 37 1-17 1 19 1-11 1-12 1 13 1-7 1 13 1-34 1 6 1 32 1-24 1-44 1 65 1-38 1-27 1 60 1-21 1 63 1-75 1 16 1-4 1 13 1-16 1-3 1 9 1 20 1-2 1-4 1 5 1 13 1 10 1-25 1 18 1-12 1 19 1 2 1-19 1-4 1-50 1 47 1-24 1 12 1 4 1 13 1-20 1 3 1 40 1-43 1 18 1 29 1-17 1-30 1-5 1 22 1-28 1 9 1 49 1-9 1-30 1 26 1-5 1-20 1 13 1 8 1 15 1-72 1 72 1-20 1-31 1 25 1 17 1 5 1-48 1 8 1 57 1-12 1-42 1-20 1 45 1-31 1 53 1 2 1-8 1-37 1 7 1-11 1 52 1-71 1 44 1-64 1 50 1 44 1-37 1 18 1-50 1 28 1-21 1 43 1 0 1-19 1 2 1 21 1-30 1-13 1 32 1 4 1 0 1-21 1 14 1-11 1-14 1 30 1 0 1 1 1-37 1 34 1-3 1 8 1-25 1 11 1 32 1-43 1 12 1-16 1 14 1 13 1 19 1-40 1-5 1 44 1-16 1-11 1 13 1-11 1 17 1 5 1-37 1 60 1-48 1 30 1-17 1 15 1-16 1 16 1-18 1 35 1-7 1-18 1-16 1 31 1-57 1 48 1-23 1 53 1-16 1 0 1 4 1 9 1-23 1 9 1-50 1 35 1-7 1 49 1-73 1 0 1 54 1-1 1-5 1-44 1 56 1-6 1 12 1-38 1-11 1 37 1-42 1 20 1 21 1-28 1-14 1 0 1 16 1-16 1 27 1-6 1-29 1 38 1 15 1 8 1-13 1 27 1-18 1 4 1-19 1 25 1-25 1-2 1-16 1-4 1-10 1 36 1 23 1-42 1 7 1 17 1-24 1-23 1 32 1 16 1-12 1 23 1-57 1 64 1-4 1-40 1 25 1 20 1-42 1-4 1 56 1-45 1-7 1-16 1 27 1-5 1 13 1-11 1-20 1 20 1 27 1-10 1-40 1 64 1-13 1 2 1-39 1 44 1-9 1-7 1-11 1-1 1 35 1 0 1 6 1-50 1 28 1-9 1 4 1 30 1 3 1-10 1-60 1 46 1-17 1 30 1-70 1 49 1 33 1-21 1-15 1-13 1 26 1-19 1 7 1 2 1 13 1-15 1-14 1 22 1 6 1-60 1 41 1 1 1 41 1-49 1 52 1-53 1 17 1 16 1 4 1-16 1 11 1 26 1-53 1 50 1-26 1 6 1-39 1 60 1-48 1 10 1 65 1-28 1-14 1 8 1-24 1-7 1-9 1 35 1-24 1 15 1-14 1 11 1-1 1 7 1-16 1 8 1 21 1 21 1-58 1 5 1 16 1-24 1 24 1 2 1 6 1-32 1-10 1 38 1 8 1-31 1 3 1 5 1 40 1-33 1 3 1 9 1-14 1 12 1-10 1 8 1 5 1-37 1 33 1-12 1-6 1 36 1-14 1 13 1-13 1 19 1-38 1 17 1 23 1-31 1 28 1 8 1-34 1 7 1 15 1-27 1 5 1 6 1-16 1 14 1-17 1 17 1 0 1 59 1-46 1-41 1 46 1-8 1 6 1 26 1-44 1-24 1 5 1 35 1 12 1-6 1-19 1 17 1-21 1 9 1 28 1-1 1-36 1 0 1 16 1-27 1 28 1 5 1-4 1-11 1 52 1-44 1 0 1 19 1 0 1-37 1 31 1-3 1-22 1 40 1-67 1 58 1-1 1 15 1-15 1 6 1-8 1 12 1 24 1-65 1 8 1 2 1 2 1 0 1 24 1-65 1 63 1 12 1-59 1 45 1-8 1 19 1-13 1-13 1 3 1 28 1-35 1 28 1 14 1-44 1 11 1 10 1 10 1-27 1 19 1 8 1-23 1 6 1 27 1-44 1 52 1-15 1-20 1 8 1-16 1 5 1 53 1-66 1 33 1-9 1 14 1 6 1-30 1 3 1 4 1 16 1-39 1 22 1-4 1 9 1-3 1-15 1 2 1-1 1 18 1 0 1 24 1-17 1 7 1 5 1-14 1-1 1 14 1 18 1-25 1-4 1-5 1 22 1 8 1 10 1-32 1 11 1-20 1 36 1-47 1 28 1 2 1-5 1-8 1 0 1 48 1-20 1-14 1 0 1 9 1 21 1-19 1 14 1 0 1-17 1 25 1-6 1-13 1 10 1 40 1 0 1 18 1-46 1 23 1 9 1-4 1 20 1-24 1 26 1-24 1 12 1 8 1-6 1 16 1-1 1-14 1-4 1 20 1-9 1 45 1-21 1 5 1 10 1-11 1-16 1 23 1-5 1 0 1 4 1 19 1 12 1-19 1 7 1 20 1-23 1 33 1 8 1-11 1 18 1-10 1 2 1 9 1-4 1 18 1 14 1-31 1 2 1 4 1 17 1-6 1 11 1-12 1 27 1-12 1 11 1-8 1 9 1 21 1-11 1 9 1-10 1-1 1 21 1-12 1 15 1-2 1-4 1-7 1 8 1 0 1 10 1-2 1-5 1 4 1 0 1-2 1-9 1 2 1 0 1 8 1 9 1 3 1-10 1 8 1 8 1-13 1-19 1 17 1-1 1 1 1-1 1 11 1-12 1-4 1 4 1 0 1 2 1-6 1 15 1 6 1-11 1-4 1-5 1 11 1-7 1 1 1-6 1 10 1-9 1-1 1 8 1-1 1 3 1 2 1-1 1 4 1-14 1 2 1 4 1-2 1 1 1-11 1 5 1 9 1-8 1 18 1-9 1 2 1-8 1 7 1 2 1-1 1 6 1-1 1-3 1-10 1 1 1-4 1-7 1 6 1 21 1-9 1-17 1 11 1-2 1 1 1 12 1-13 1 4 1 7 1-11 1-10 1 14 1 9 1-9 1 6 1 12 1-15 1-7 1 10 1-6 1 0 1 3 1-1 1 0 1-1 1-1 1-5 1 8 1 3 1-10 1 9 1-22 1 18 1-17 1 14 1-1 1-4 1 3 1 5 1 1 1 5 1 0 1-14 1 25 1-31 1 6 1 9 1-15 1-1 1 5 1 27 1-3 1-20 1 14 1-12 1 6 1-6 1 6 1-3 1 13 1-12 1 6 1-15 1 13 1-8 1-1 1 6 1 5 1-8 1 2 1-6 1 13 1 1 1-14 1 4 1-7 1-2 1 25 1-16 1 1 1 0 1-6 1-8 1 16 1 0 1-6 1-1 1 7 1-8 1-3 1 14 1-14 1 16 1-16 1 17 1 0 1 3 1-7 1-2 1 0 1 2 1-1 1 2 1-1 1-4 1 6 1-6 1 10 1 2 1-16 1 12 1-7 1 8 1 4 1-1 1-4 1-16 1 15 1-7 1 5 1-4 1 10 1-17 1 6 1 5 1-9 1 18 1-7 1-8 1-9 1 16 1-18 1 5 1 16 1-11 1-5 1 16 1-18 1 23 1-22 1 1 1-4 1 7 1 4 1 14 1-25 1 8 1-1 1 10 1 13 1-21 1 11 1-7 1-4 1 14 1-13 1 9 1-2 1-10 1 17 1-6 1-3 1-9 1 8 1-6 1 14 1 3 1-10 1-13 1 7 1 8 1 1 1-15 1 6 1 15 1 4 1-29 1 13 1 1 1-2 1 3 1 1 1-1 1 15 1-13 1 1 1-11 1 0 1 11 1-2 1-2 1-14 1 7 1 13 1-16 1 18 1-16 1 8 1 10 1-6 1-2 1-9 1-2 1 23 1-9 1-12 1 4 1 0 1-1 1-1 1-4 1 13 1 14 1-21 1 9 1 8 1-13 1 6 1-5 1 15 1-20 1 5 1-2 1 7 1 0 1-13 1 3 1 6 1 7 1-12 1 7 1-10 1 12 1-7 1-1 1 7 1-9 1 15 1-20 1 13 1 0 1-2 1 1 1 3 1-7 1 6 1-2 1-4 1 3 1 5 1-12 1-9 1 19 1-11 1 12 1-3 1 6 1-4 1 2 1-5 1 1 1-18 1 23 1-11 1-2 1 20 1-1 1-18 1 15 1-6 1 17 1-12 1-5 1-10 1-7 1 20 1-15 1 11 1 2 1 0 1 1 1 9 1-9 1 8 1-10 1-16 1 29 1-20 1 20 1-5 1-8 1 5 1-4 1 0 1 11 1 3 1-6 1 1 1-6 1 24 1-18 1 4 1 6 1 4 1 1 1 0 1-12 1 10 1 2 1-1 1-2 1 0 1 5 1 2 1 4 1-3 1 2 1 3 1-1 1-6 1 3 1 3 1-3 1 6 1-3 1 5 1-5 1 5 1 4 1 4 1-4 1 1 1 5 1-2 1 2 1-1 1 5 1-3 1-4 1 3 1 3 1-3 1 5 1-2 1 1 1 2 1-1 1-4 1 6 1 1 1-5 1 4 1-1 1 1 1 0 1-2 1 3 1 0 1-1 1-2 1-2 1 3 1-2 1 0 1 1 1 0 1 1 1 3 1-4 1 3 1-3 1 3 1 0 1-2 1 2 1-2 1 0 1 1 1-4 1 2 1 2 1-2 1 0 1 2 1 2 1-2 1-5 1 4 1-1 1-2 1 4 1-3 1 6 1-2 1 2 1-4 1 0 1 1 1 0 1-6 1 4 1 0 1 3 1 0 1-2 1 1 1-1 1 1 1 2 1-4 1 1 1-1 1 0 1-2 1 4 1-1 1-2 1 3 1-3 1 3 1 0 1 1 1-2 1-4 1 1 1 3 1-1 1-1 1 4 1-1 1-1 1 4 1-2 1-1 1 0 1 0 1 3 1-5 1 2 1-2 1 0 1 2 1-4 1 6 1-3 1 0 1-2 1 2 1-1 1 1 1-4 1 5 1 1 1-1 1-2 1-1 1 6 1-1 1-5 1 3 1 1 1-1 1 1 1 0 1-2 1 2 1-5 1 7 1-5 1 3 1-5 1 5 1-3 1-2 1 2 1 2 1 0 1-1 1-3 1 3 1-1 1 3 1-2 1-2 1 3 1 0 1 0 1-3 1 1 1 0 1 3 1 2 1-6 1 3 1-2 1 0 1 2 1 1 1-3 1 5 1 0 1-7 1 5 1-2 1-2 1-2 1 6 1-1 1-2 1 1 1 2 1-3 1 4 1-5 1 2 1 0 1 2 1-1 1-3 1 2 1-2 1 1 1 2 1 0 1-1 1 1 1-3 1 4 1-5 1 5 1 0 1-2 1 3 1-6 1 0 1 1 1-1 1 1 1 6 1-5 1 3 1-3 1 2 1 0 1 1 1-3 1-1 1 4 1-2 1-1 1 2 1 0 1-3 1 0 1 1 1 0 1 0 1 2 1-1 1 0 1 2 1-3 1-2 1 0 1 4 1 0 1 1 1-3 1 1 1-2 1 4 1-2 1 1 1-1 1 1 1 3 1-5 1 1 1 0 1 0 1 2 1-2 1-1 1-2 1 3 1 1 1-3 1 3 1 0 1-1 1-1 1 4 1-3 1 0 1 1 1-4 1 6 1-3 1 0 1 0 1-2 1 6 1-3 1 1 1 1 1-2 1-1 1 1 1-4 1 6 1-3 1 0 1 0 1-1 1 2 1-2 1 2 1 0 1 1 1-1 1-2 1 2 1-2 1 2 1-1 1-2 1 4 1-2 1-1 1 0 1 1 1-2 1 3 1-1 1-3 1 5 1-3 1 0 1 1 1-1 1 3 1-2 1 0 1 0 1 0 1-3 1 1 1-2 1 2 1 1 1 0 1-1 1 4 1 1 1 0 1-4 1 2 1 0 1-1 1-1 1 2 1 1 1-1 1-2 1 2 1-2 1-1 1 3 1 1 1 0 1-1 1 1 1-2 1 3 1-3 1 1 1-2 1 3 1-2 1-1 1 4 1-3 1 1 1 1 1 1 1-3 1 1 1 0 1-2 1 5 1-5 1-3 1 4 1 1 1 0 1-2 1-3 1 6 1 2 1-4 1 0 1 1 1 0 1 3 1-4 1 2 1-2 1 1 1 1 1 2 1-6 1 2 1 0 1-2 1 1 1 1 1 4 1-6 1 1 1 3 1 1 1-3 1 1 1-3 1 5 1-3 1-1 1 1 1 3 1 0 1-2 1-4 1 5 1-1 1-2 1 1 1-2 1 4 1 0 1-3 1 2 1-1 1 2 1 0 1 0 1 0 1 0 1-1 1 0 1-3 1-1 1 4 1-3 1 2 1 4 1-4 1 3 1-5 1 3 1-3 1 0 1 3 1 1 1-4 1 4 1-1 1-2 1 2 1-2 1-2 1 3 1-1 1 2 1 3 1-4 1 0 1-1 1 1 1 1 1 0 1-1 1 2 1 1 1-3 1 0 1-1 1 2 1 0 1 1 1-1 1-2 1-2 1 4 1-1 1 2 1 1 1-2 1 0 1 0 1 1 1-2 1-2 1 3 1-1 1-1 1 0 1 0 1 0 1 1 1 3 1-1 1-1 1 1 1 0 1-1 1-1 1 1 1-1 1-3 1 5 1-1 1 1 1-4 1 1 1 4 1-3 1 3 1-3 1 0 1 0 1 3 1-3 1 0 1-2 1 2 1 0 1 2 1-3 1 0 1 0 1 0 1 2 1 2 1-3 1-2 1 0 1 4 1-5 1 1 1 1 1 3 1-3 1 0 1-2 1 4 1 0 1-3 1 0 1 1 1 2 1 0 1-1 1 0 1-1 1 3 1 1 1-5 1 3 1 0 1-2 1 4 1-3 1 1 1-1 1 0 1-1 1 4 1-2 1 1 1-4 1 0 1 2 1-1 1 2 1 0 1-3 1 3 1-3 1-2 1 6 1-3 1 2 1-1 1 4 1-5 1 3 1-2 1 0 1-1 1 1 1 0 1 1 1 2 1-2 1 0 1 0 1-1 1 0 1-2 1-1 1 5 1-2 1 0 1 1 1-2 1 5 1-5 1 2 1 3 1-3 1-4 1 4 1-4 1-1 1 4 1 1 1-2 1-1 1-1 1 3 1 2 1-4 1 6 1-3 1-1 1-1 1 2 1-1 1-1 1 1 1 2 1-3 1 1 1 2 1 0 1-5 1 4 1-2 1 2 1 0 1-1 1 1 1-2 1-1 1 1 1 2 1 0 1 3 1-6 1 3 1 1 1 0 1-3 1 2 1-2 1 1 1-1 1 1 1 4 1-6 1 5 1-5 1 2 1 2 1-1 1 1 1-2 1-1 1 4 1 1 1-6 1 2 1 3 1-4 1-1 1 2 1-1 1 2 1 3 1-5 1 3 1-5 1 4 1-2 1 3 1 1 1-2 1-4 1 3 1 4 1-5 1-1 1 4 1-2 1 0 1 2 1-2 1 3 1-3 1-1 1 3 1-3 1 0 1 0 1-1 1 2 1 2 1-3 1 1 1 4 1-4 1 2 1-1 1-1 1-2 1 2 1 2 1-1 1-1 1 0 1-4 1 6 1-1 1-2 1 2 1-1 1 3 1 0 1-4 1 3 1-3 1 2 1-1 1-2 1 4 1 0 1-4 1 2 1 1 1-2 1 3 1-1 1 2 1 0 1-4 1-1 1 2 1 3 1-2 1-1 1 1 1-3 1 4 1-2 1 1 1 0 1 0 1-1 1 3 1-2 1-1 1-1 1 0 1 1 1-2 1 0 1 3 1-4 1 1 1 3 1 0 1 0 1 0 1-1 1 0 1 1 1-1 1-2 1 1 1 0 1 2 1 0 1-3 1 2 1 2 1-3 1-1 1 5 1-5 1 4 1-3 1 1 1 2 1 0 1 0 1 1 1-2 1-2 1 2 1-4 1 4 1 1 1-1 1-3 1 4 1-1 1-2 1 2 1-1 1 1 1 0 1 0 1 0 1-2 1 4 1 0 1-2 1 2 1-1 1 1 1-2 1 3 1-3 1 1 1-3 1 4 1 0 1 0 1 0 1-1 1-2 1 2 1-1 1 0 1-1 1 3 1-1 1-1 1-3 1 4 1 0 1-3 1 2 1 0 1-3 1 4 1-3 1-2 1 4 1-4 1 2 1 1 1-2 1 2 1 4 1-4 1 1 1 2 1-4 1 3 1 0 1-5 1 2 1-1 1 0 1 5 1-6 1 5 1 0 1-2 1 1 1-3 1 3 1-1 1 1 1 1 1-1 1 0 1-1 1 1 1-2 1 2 1-1 1-2 1 2 1-4 1 4 1 0 1-1 1 0 1 0 1 2 1 0 1 0 1-1 1 3 1 0 1-1 1-4 1 2 1-2 1 3 1-1 1 2 1 2 1-3 1 0 1 0 1 2 1-4 1-1 1 1 1-2 1 4 1-3 1 1 1 1 1-1 1 2 1-2 1-1 1 4 1-8 1 1 1 0 1-2 1 2 1 0 1-3 1 5 1 2 1-7 1 3 1-4 1 0 1 4 1-3 1 3 1-5 1 0 1-4 1-5 1 5 1 2 1-3 1 0 1 0 1-4 1 5 1-2 1-6 1-5 1 1 1 2 1-8 1 2 1-9 1 5 1 1 1 5 1-16 1 0 1-4 1 10 1 2 1-18 1 7 1 14 1-22 1 11 1-21 1 0 1 21 1-19 1 0 1-6 1 12 1 0 1-21 1 22 1-17 1-7 1-4 1 2 1-19 1 8 1 10 1-2 1 4 1-9 1-19 1 12 1 6 1 9 1 11 1-23 1 6 1-11 1 13 1-18 1 9 1 4 1-9 1 7 1-4 1 7 1-11 1 21 1-14 1-6 1-2 1 4 1-6 1 11 1-20 1 29 1 15 1 3 1-2 1-14 1 16 1-1 1-17 1 23 1-14 1-4 1-1 1 10 1 15 1-2 1-17 1 1 1 18 1-8 1 3 1 10 1-8 1 15 1-8 1 2 1 7 1 4 1-11 1 16 1 2 1 5 1-5 1 1 1 5 1-9 1 7 1-1 1 11 1-4 1-7 1 3 1 4 1-2 1 3 1 3 1 1 1 1 1 4 1-7 1-2 1 9 1 2 1-8 1 7 1 1 1 1 1 1 1 2 1-3 1 7 1-6 1-1 1 5 1 1 1-6 1 6 1 1 1-3 1 5 1 2 1-5 1 2 1 0 1 1 1-1 1 0 1 4 1-6 1 2 1 0 1 0 1-2 1 1 1-3 1 8 1-5 1 0 1 5 1-5 1 2 1 0 1-1 1 0 1 1 1 1 1-3 1 2 1-2 1-3 1 7 1-1 1 0 1-1 1-3 1 2 1-1 1-2 1 7 1-3 1 1 1-2 1 2 1-4 1 4 1 0 1 1 1 0 1-2 1 1 1-2 1 2 1-2 1 0 1-1 1 1 1 2 1-3 1 3 1 0 1-3 1 4 1-1 1 1 1 0 1-3 1 2 1-4 1 0 1 2 1 2 1-1 1 0 1-2 1 5 1-3 1 0 1-1 1 0 1 1 1-1 1 3 1-4 1 1 1 1 1-2 1 3 1 2 1-4 1 1 1 0 1 1 1-2 1-1 1 3 1 1 1-3 1 3 1-4 1-1 1 4 1-5 1 4 1 0 1 0 1-1 1-1 1 1 1 2 1-1 1 2 1 0 1-2 1 0 1 1 1-2 1 2 1-1 1 0 1-2 1 0 1 4 1-1 1 2 1-6 1 6 1-3 1 2 1-2 1 0 1-1 1 2 1-2 1 2 1 0 1 0 1 0 1-4 1 1 1 1 1 4 1-3 1-1 1 4 1-5 1 4 1-2 1 0 1 0 1 0 1-1 1-1 1-1 1 1 1 2 1 3 1-1 1-1 1-2 1-1 1 3 1 0 1-1 1 0 1-1 1 0 1 1 1 3 1-2 1 2 1-3 1-5 1 3 1 1 1-3 1 6 1-3 1 0 1 2 1 0 1-2 1 0 1 2 1-1 1-1 1 1 1 1 1-2 1 1 1 0 1 2 1-2 1 1 1 1 1-5 1 3 1 0 1-2 1 0 1 0 1 3 1-1 1 1 1-1 1-1 1-1 1 4 1-3 1 0 1 3 1-7 1 5 1-2 1 2 1-1 1-1 1 2 1 0 1-2 1 0 1-2 1 3 1 4 1-1 1-3 1 3 1 0 1-4 1 5 1 0 1-3 1-2 1 1 1 3 1-3 1 3 1-3 1 4 1-1 1-3 1 1 1-1 1 4 1-5 1 1 1-3 1 5 1-3 1 1 1 1 1-1 1 1 1-1 1 1 1 0 1 1 1 0 1-1 1-1 1 0 1-1 1 3 1 0 1 2 1-5 1-1 1 2 1 0 1 2 1-1 1-2 1 1 1 3 1-3 1 1 1-2 1-1 1 3 1-1 1-1 1 3 1-1 1 3 1-4 1 0 1 0 1 0 1 2 1 0" fill="none" stroke="#000" stroke-width="2.2" stroke-linejoin="round" vector-effect="non-scaling-stroke"/>
</g>
<line x1="141.02" y1="1041.50" x2="141.02" y2="1052.50" stroke="#000" stroke-width="3.0"/>
<line x1="318.38" y1="1041.50" x2="318.38" y2="1052.50" stroke="#000" stroke-width="3.0"/>
<line x1="495.74" y1="1041.50" x2="495.74" y2="1052.50" stroke="#000" stroke-width="3.0"/>
<line x1="673.10" y1="1041.50" x2="673.10" y2="1052.50" stroke="#000" stroke-width="3.0"/>
<line x1="229.70" y1="1041.50" x2="229.70" y2="1047.50" stroke="#000" stroke-width="3.0"/>
<line x1="407.06" y1="1041.50" x2="407.06" y2="1047.50" stroke="#000" stroke-width="3.0"/>
<line x1="584.42" y1="1041.50" x2="584.42" y2="1047.50" stroke="#000" stroke-width="3.0"/>
<line x1="124.10" y1="1041.50" x2="115.10" y2="1041.50" stroke="#000" stroke-width="3.0"/>
<line x1="124.10" y1="981.97" x2="115.10" y2="981.97" stroke="#000" stroke-width="3.0"/>
<line x1="124.10" y1="922.43" x2="115.10" y2="922.43" stroke="#000" stroke-width="3.0"/>
<line x1="124.10" y1="862.90" x2="115.10" y2="862.90" stroke="#000" stroke-width="3.0"/>
<line x1="124.10" y1="803.37" x2="115.10" y2="803.37" stroke="#000" stroke-width="3.0"/>
<line x1="124.10" y1="743.83" x2="115.10" y2="743.83" stroke="#000" stroke-width="3.0"/>
<line x1="124.10" y1="684.30" x2="115.10" y2="684.30" stroke="#000" stroke-width="3.0"/>
<line x1="124.10" y1="624.77" x2="115.10" y2="624.77" stroke="#000" stroke-width="3.0"/>
<line x1="124.10" y1="1011.73" x2="118.60" y2="1011.73" stroke="#000" stroke-width="3.0"/>
<line x1="124.10" y1="952.20" x2="118.60" y2="952.20" stroke="#000" stroke-width="3.0"/>
<line x1="124.10" y1="892.67" x2="118.60" y2="892.67" stroke="#000" stroke-width="3.0"/>
<line x1="124.10" y1="833.13" x2="118.60" y2="833.13" stroke="#000" stroke-width="3.0"/>
<line x1="124.10" y1="773.60" x2="118.60" y2="773.60" stroke="#000" stroke-width="3.0"/>
<line x1="124.10" y1="714.07" x2="118.60" y2="714.07" stroke="#000" stroke-width="3.0"/>
<line x1="124.10" y1="654.53" x2="118.60" y2="654.53" stroke="#000" stroke-width="3.0"/>
<text transform="translate(95.06,1048.50) scale(1.0600,1)" font-size="25.16">0</text>
<text transform="translate(65.39,988.97) scale(1.0600,1)" font-size="25.16">200</text>
<text transform="translate(65.39,929.43) scale(1.0600,1)" font-size="25.16">400</text>
<text transform="translate(65.39,869.90) scale(1.0600,1)" font-size="25.16">600</text>
<text transform="translate(65.39,810.37) scale(1.0600,1)" font-size="25.16">800</text>
<text transform="translate(50.59,750.83) scale(1.0600,1)" font-size="25.16">1000</text>
<text transform="translate(50.59,691.30) scale(1.0600,1)" font-size="25.16">1200</text>
<text transform="translate(50.59,631.77) scale(1.0600,1)" font-size="25.16">1400</text>
<text transform="translate(118.92,1076.20) scale(1.0600,1)" font-size="25.16">500</text>
<text transform="translate(288.44,1076.20) scale(1.0600,1)" font-size="25.16">1000</text>
<text transform="translate(465.80,1076.20) scale(1.0600,1)" font-size="25.16">1500</text>
<text transform="translate(643.53,1076.20) scale(1.0600,1)" font-size="25.16">2000</text>
<text transform="translate(302.07,1119.05) scale(1.0156,1)" font-size="32.80" fill="#000">Channel No.</text>
<text transform="translate(43.65,969.03) rotate(-90) scale(0.8729,1)" font-size="39.49" fill="#000">RBS counts (a.u.)</text>
<rect x="416.5" y="623.7" width="195.30" height="136.40" fill="#fff" stroke="#666" stroke-width="1.6"/>
<line x1="432.6" y1="655.7" x2="511.1" y2="655.7" stroke="#000" stroke-width="2.6"/>
<text transform="translate(518.91,666.75) scale(0.9580,1)" font-size="34.40" fill="#000">5 nm</text>
<line x1="432.6" y1="698.2" x2="511.1" y2="698.2" stroke="#f00" stroke-width="2.6"/>
<text transform="translate(519.16,709.25) scale(0.9548,1)" font-size="34.40" fill="#000">3 nm</text>
<line x1="432.6" y1="740.3" x2="511.1" y2="740.3" stroke="#00f" stroke-width="2.6"/>
<text transform="translate(518.74,751.35) scale(0.9601,1)" font-size="34.40" fill="#000">2 nm</text>
<text transform="translate(145.14,657.75) scale(0.9721,1)" font-size="54.69" fill="#000">(d)</text>
<text transform="translate(284.12,712.55) scale(0.9786,1)" font-size="37.31" fill="#000">1x10</text>
<text transform="translate(365.14,691.55) scale(1.0059,1)" font-size="21.60" fill="#000">16</text>
<text transform="translate(587.22,990.35) scale(1.0869,1)" font-size="28.58" fill="#000">Au</text>
<clipPath id="ce"><rect x="791.7" y="594.2" width="552.3" height="458.39999999999986"/></clipPath>
<rect x="793.2" y="595.2" width="550.80" height="454.90" fill="none" stroke="#000" stroke-width="4.2"/>
<g clip-path="url(#ce)">
<path transform="matrix(0.17244 0 0 0.292930 654.250 1050.100)" d="M760 -945l1 19 1 31 1-29 1 42 1 7 1-40 1 13 1-11 1-63 1 60 1 7 1-56 1 86 1-19 1 10 1-11 1-72 1 128 1-96 1 78 1 9 1-43 1-2 1 7 1 25 1-54 1 60 1-58 1-66 1 125 1-47 1 4 1 51 1-47 1-29 1 1 1 8 1 39 1-14 1 24 1-62 1 58 1 10 1-14 1-69 1 100 1-75 1 4 1 40 1-23 1 52 1-56 1-3 1 38 1-29 1 5 1-16 1-4 1-11 1 36 1-21 1-9 1-23 1 48 1 17 1 6 1-16 1 49 1-20 1-52 1-41 1 20 1 60 1-55 1 27 1 26 1-55 1 12 1 1 1 10 1-12 1 39 1 0 1 9 1-45 1 13 1-15 1 40 1-1 1-8 1-1 1 8 1-50 1 38 1 84 1-60 1-25 1 3 1 3 1 8 1-52 1 70 1-46 1-5 1-1 1-37 1 92 1-6 1-31 1-4 1-1 1 37 1-8 1-58 1 27 1 0 1-5 1-28 1 58 1-14 1 57 1-36 1-20 1-9 1 41 1 19 1-15 1 38 1-31 1-27 1-18 1-29 1 39 1 28 1-29 1 18 1-42 1-1 1 82 1-41 1-70 1 26 1 42 1 86 1-111 1 9 1 16 1-28 1 16 1-9 1 25 1-2 1-16 1 21 1 26 1 2 1-45 1 34 1 1 1-5 1-40 1 83 1 11 1-78 1 12 1-50 1 53 1 35 1-51 1-1 1-1 1 0 1-53 1 75 1-22 1 13 1 50 1-15 1-8 1-17 1 27 1-77 1 45 1 26 1-7 1-22 1 20 1 14 1 5 1-35 1-51 1 133 1-70 1-12 1 26 1-89 1 61 1 55 1-57 1 43 1-58 1 24 1-34 1 63 1-39 1-36 1 56 1 22 1-19 1-16 1 18 1-24 1-20 1 59 1 21 1-19 1 21 1-23 1-15 1 43 1-50 1 3 1 46 1-34 1 36 1-64 1 26 1-21 1-26 1 21 1 20 1-8 1 23 1-12 1-51 1 67 1-13 1-9 1-3 1-11 1 55 1-18 1-11 1-11 1-9 1 6 1 11 1 28 1 7 1 2 1-57 1-21 1 69 1 16 1-28 1-17 1 23 1-9 1-25 1 9 1 24 1 24 1-32 1-34 1 78 1-90 1 38 1-37 1 62 1 4 1 16 1-44 1 3 1 10 1-8 1-10 1 36 1-48 1 71 1-31 1-23 1 18 1-12 1 50 1-35 1-7 1 39 1-56 1 52 1-12 1 14 1-41 1 27 1-38 1-6 1 34 1-25 1-34 1 97 1 2 1-98 1 75 1-105 1 57 1 89 1-89 1 29 1-7 1-20 1 41 1-8 1-12 1 52 1-39 1-15 1 6 1-2 1 4 1 55 1-30 1 30 1-62 1-18 1 23 1 61 1-46 1-32 1 9 1-7 1-2 1 53 1-36 1-1 1 37 1-12 1-13 1-57 1 25 1 29 1-1 1 47 1-45 1-27 1 39 1-25 1-24 1 48 1 34 1-39 1 1 1-79 1 78 1 1 1-31 1 49 1-11 1-4 1 1 1-15 1 6 1 69 1-95 1 44 1-32 1 18 1-14 1-20 1 42 1 7 1-22 1 13 1-51 1 55 1 11 1-71 1 74 1-40 1 38 1-34 1-26 1 6 1 50 1-27 1-17 1 30 1-48 1 9 1-4 1 46 1-10 1 45 1-9 1-40 1 36 1-20 1 31 1-10 1 14 1-41 1 29 1-24 1-12 1 26 1-10 1-62 1 48 1-28 1 2 1 18 1 10 1 59 1-57 1 41 1 10 1-35 1-33 1 15 1-3 1-1 1 0 1 51 1 1 1-32 1-26 1 30 1 20 1-5 1-2 1 6 1 12 1-74 1 40 1 50 1-50 1-9 1-8 1 51 1 24 1-114 1 99 1 3 1-43 1-25 1 3 1 51 1-23 1 21 1-20 1 19 1-87 1 36 1 39 1-1 1-42 1 57 1-11 1 6 1-13 1-46 1 65 1 17 1-3 1-14 1 22 1-4 1-11 1-36 1 7 1 17 1-20 1 10 1 4 1 22 1-46 1 23 1 5 1 5 1-14 1 7 1 31 1-16 1 16 1 48 1-44 1-105 1 119 1-45 1-24 1 26 1-1 1 25 1-7 1 0 1 13 1-28 1-21 1-7 1-21 1 30 1-72 1 84 1 36 1 9 1-46 1-15 1-3 1 25 1-35 1 35 1 13 1-6 1-6 1-14 1 50 1-4 1-60 1 42 1-41 1 14 1 10 1-24 1 37 1-21 1-4 1-6 1 55 1-25 1-41 1 22 1-18 1-4 1 58 1-15 1-39 1 25 1 39 1-36 1 2 1 25 1-3 1-35 1 6 1 50 1-5 1-16 1-8 1 3 1 21 1-31 1 64 1-31 1-23 1 1 1 3 1-12 1 5 1 14 1-51 1 46 1-72 1 115 1-68 1 58 1 12 1-19 1 53 1-64 1-11 1 25 1-14 1-24 1 30 1-42 1 46 1-69 1 52 1 37 1-54 1 15 1 48 1-89 1 65 1-24 1-54 1 92 1 3 1-29 1 77 1-89 1 54 1-58 1 7 1 64 1 7 1-65 1 67 1-30 1-9 1-8 1 23 1 24 1-40 1 12 1-14 1 57 1-64 1 29 1 24 1-22 1 21 1 46 1-28 1-23 1 4 1 4 1 27 1 10 1-13 1-14 1 10 1-9 1 28 1 0 1 3 1-6 1 10 1-11 1 12 1-42 1 53 1 8 1-31 1-28 1 46 1 28 1-45 1 46 1-22 1 8 1 24 1-46 1 14 1 14 1-8 1 37 1-19 1-12 1-7 1 62 1-52 1 38 1 27 1-66 1-4 1 52 1-41 1 20 1-15 1-23 1 18 1 26 1 33 1-8 1-7 1 9 1-21 1-3 1-27 1 16 1 57 1-85 1 57 1 9 1 31 1-43 1-49 1 53 1-13 1 3 1-14 1 41 1 2 1-33 1-7 1 37 1-24 1-13 1 14 1 18 1-57 1 15 1 19 1 18 1 25 1-18 1-11 1 23 1-45 1 52 1-65 1 46 1 9 1-11 1-18 1-12 1 49 1-39 1 25 1 20 1-4 1-53 1 58 1-16 1-15 1-33 1 83 1-52 1 0 1 42 1-27 1-3 1-20 1 20 1 6 1-17 1-20 1 55 1-31 1 7 1-4 1-22 1 35 1 20 1-28 1 24 1-66 1 6 1 56 1-24 1 37 1-33 1 7 1-53 1 32 1 6 1-20 1 34 1-24 1 31 1-2 1-57 1 108 1-77 1 30 1-37 1 38 1-21 1 35 1-55 1 41 1 16 1 40 1-31 1-57 1 45 1 1 1-30 1 4 1-6 1 9 1-48 1 68 1-11 1-9 1-18 1-21 1 32 1-17 1 9 1-58 1 82 1-46 1 32 1-6 1-10 1-13 1 44 1-12 1 18 1 40 1-109 1 45 1 5 1 17 1-13 1-14 1-19 1 21 1 4 1 27 1-10 1-14 1 42 1-30 1-13 1-35 1 75 1-8 1-48 1 73 1-106 1 46 1-16 1 7 1 52 1-51 1 35 1-17 1-5 1-5 1-12 1 17 1-25 1 19 1 19 1-22 1 20 1-28 1 26 1 0 1-30 1 63 1-51 1 22 1-27 1 1 1 36 1-32 1-26 1 46 1-26 1-37 1 97 1-38 1-46 1 45 1-1 1 21 1 38 1-78 1 2 1-14 1 16 1 36 1 20 1-49 1-27 1 24 1-3 1-27 1 51 1-8 1-25 1 31 1 7 1-7 1-24 1 32 1-9 1-14 1 26 1-7 1-17 1-1 1 23 1-5 1-33 1 31 1-9 1 2 1 12 1-30 1 22 1 32 1-75 1 42 1-8 1-4 1 17 1 14 1-3 1-7 1-29 1 23 1-18 1 63 1-30 1-24 1 27 1-41 1 21 1 2 1 16 1-18 1 28 1-53 1 14 1 14 1 17 1-34 1 29 1-41 1 7 1 31 1-11 1-44 1 26 1-8 1 33 1-28 1 45 1-42 1-7 1 26 1-15 1 18 1-2 1-11 1-4 1 6 1-7 1 33 1 10 1-42 1 63 1-17 1-6 1-46 1 2 1-53 1 74 1 1 1-5 1 28 1-52 1 42 1-2 1-22 1 16 1-22 1-5 1-1 1 18 1 18 1-18 1 24 1 9 1 1 1-56 1 53 1-56 1 27 1 6 1-8 1-34 1 66 1-41 1 21 1 13 1 22 1-24 1 0 1-21 1-19 1 11 1 14 1-43 1 51 1-14 1 8 1-21 1 4 1 11 1-14 1 7 1 21 1-35 1 32 1 3 1-30 1 27 1-12 1-54 1 37 1 30 1 0 1-33 1 14 1 28 1-34 1 49 1-63 1 1 1-8 1 64 1-42 1-29 1 34 1 13 1-33 1 60 1-29 1-11 1 20 1-11 1-19 1 2 1 19 1 25 1 7 1-13 1-8 1 5 1-76 1 65 1-2 1-16 1 42 1-16 1-25 1 29 1-37 1 35 1-18 1-26 1 7 1 21 1 0 1-12 1 24 1 15 1-45 1-2 1 18 1 11 1 19 1-10 1-6 1-13 1-12 1 17 1-7 1 36 1-30 1-22 1 39 1 26 1-55 1-17 1 17 1 26 1-23 1 57 1-46 1 18 1-40 1 45 1-64 1-7 1 10 1 20 1 36 1-9 1-26 1 12 1 22 1-8 1 12 1-25 1 10 1-29 1 12 1 23 1-36 1 77 1-18 1-17 1-24 1-28 1 23 1 11 1 6 1 38 1-25 1-35 1 16 1 20 1-12 1 14 1 27 1-35 1 9 1 13 1-22 1 3 1-9 1 3 1-3 1 9 1 11 1-13 1-1 1-20 1 19 1 16 1-31 1 18 1-17 1-27 1 28 1 43 1-6 1-30 1 46 1-25 1-13 1 15 1 8 1-17 1 8 1 3 1-21 1 25 1-9 1-30 1 8 1 18 1 5 1-9 1 1 1 32 1-11 1-38 1 43 1-53 1 20 1 15 1 9 1-12 1-13 1 7 1-17 1 18 1 23 1-24 1-4 1 18 1 17 1-3 1-27 1 30 1-54 1 22 1 52 1-14 1-23 1 27 1-22 1-21 1 6 1 35 1-37 1-4 1 35 1-27 1 26 1 14 1-50 1 1 1 43 1 34 1-73 1 33 1-19 1 34 1-36 1-11 1 19 1-13 1 10 1-13 1 31 1 1 1 28 1-30 1-3 1 17 1-43 1 26 1-65 1 48 1 29 1-16 1-15 1-6 1-9 1 40 1-29 1 21 1-20 1 22 1-1 1-8 1 20 1-12 1-8 1 45 1-26 1-1 1-29 1 17 1 4 1 14 1-23 1 15 1-25 1 25 1-4 1-13 1 3 1 41 1-35 1 5 1 36 1-12 1-43 1 13 1 16 1-28 1 53 1-61 1 39 1-41 1 38 1 2 1-15 1 11 1-25 1 5 1 22 1-2 1-4 1-34 1 35 1-20 1 21 1 16 1 16 1-37 1-4 1 5 1-21 1 12 1-22 1 24 1 30 1-39 1 43 1-18 1 23 1-43 1-10 1 55 1-9 1-3 1 24 1-35 1 4 1 22 1 18 1-15 1-34 1 35 1-29 1-4 1-9 1 15 1-6 1-24 1 41 1-12 1-24 1 48 1-35 1 63 1-19 1 0 1-27 1-3 1 45 1-81 1-5 1 17 1 28 1-13 1 23 1-2 1 4 1-20 1 16 1-1 1-43 1 41 1-18 1 4 1 17 1-1 1-29 1 32 1-23 1 22 1-1 1-36 1 63 1-20 1-2 1-19 1 22 1-15 1-11 1-24 1 19 1 46 1-60 1 34 1 19 1-23 1 23 1-11 1 11 1-8 1 38 1-71 1 23 1-14 1 9 1 9 1-27 1 1 1 32 1-22 1 23 1 3 1-18 1 7 1 4 1 37 1-22 1-18 1-11 1 1 1 24 1-20 1 33 1-31 1-27 1 40 1 15 1-39 1 23 1-2 1-10 1 17 1-20 1 27 1 2 1-20 1-2 1 4 1-7 1 14 1 12 1-19 1 39 1-27 1-16 1 10 1-9 1 28 1 3 1 7 1 4 1-10 1-11 1 22 1-25 1 23 1 47 1-44 1 22 1-7 1 17 1 0 1-41 1 20 1 26 1 10 1-4 1 7 1-18 1-5 1 46 1-29 1 11 1 6 1-14 1 27 1 4 1-9 1 13 1 0 1-18 1 35 1-36 1 1 1 29 1-12 1 28 1-9 1 5 1 9 1-24 1 12 1-6 1 39 1-18 1 7 1 18 1-33 1 17 1-1 1-13 1 30 1-25 1 48 1-40 1 11 1 28 1 4 1-45 1 42 1-19 1 12 1 7 1 6 1 16 1 2 1-2 1-17 1 35 1-7 1-14 1 9 1 7 1 9 1 10 1-7 1 7 1-4 1 7 1 8 1-26 1 36 1-26 1 14 1 3 1 7 1-1 1-4 1 17 1-28 1 9 1 3 1 1 1-9 1 11 1-6 1 14 1-21 1 22 1 4 1-3 1-13 1-6 1 11 1-15 1 27 1-2 1-2 1-15 1 19 1-8 1 10 1-11 1 9 1-33 1 19 1 12 1-12 1 8 1 5 1-9 1 17 1-25 1 2 1 20 1-8 1 15 1-21 1 3 1 0 1 7 1-4 1 5 1-3 1 4 1 0 1 0 1 16 1-15 1-13 1-5 1 17 1-5 1-10 1 24 1-16 1 17 1-17 1 5 1-1 1 1 1-17 1 37 1-10 1-13 1-1 1 9 1-9 1 3 1-1 1-9 1 17 1-9 1-6 1 12 1-15 1 18 1 6 1-4 1-10 1-8 1 12 1-3 1 0 1-5 1 13 1-7 1 7 1-12 1-3 1 26 1-21 1 4 1-8 1 12 1-6 1 10 1-16 1-13 1 17 1-11 1 0 1 15 1-3 1 0 1-7 1 14 1-12 1 13 1-12 1 5 1 14 1-11 1-7 1 6 1-4 1-16 1 29 1-5 1 1 1-7 1 4 1-2 1 5 1 0 1-22 1-5 1 22 1-2 1 14 1-10 1-10 1 3 1 5 1-16 1-10 1 26 1 7 1-14 1-2 1 15 1-7 1-9 1 5 1 11 1-15 1 14 1-19 1 13 1 15 1-8 1-14 1-8 1 12 1 5 1-21 1 30 1-20 1 21 1 2 1-5 1-16 1 5 1 3 1-5 1 10 1-19 1 12 1-3 1 15 1-10 1 9 1-16 1 19 1-19 1-3 1 4 1-5 1-3 1 15 1 2 1 0 1-4 1 2 1 0 1-16 1 14 1 4 1-16 1 21 1-8 1-5 1-1 1 16 1 1 1-2 1-3 1-16 1 10 1-3 1 9 1-2 1-10 1 3 1 5 1-10 1 12 1 0 1-1 1 2 1-12 1 19 1-16 1 19 1-1 1-14 1-3 1 4 1 15 1-26 1 1 1 16 1-18 1 16 1-5 1 6 1 2 1 4 1-10 1-7 1 8 1-8 1-2 1-5 1 4 1 8 1-2 1 3 1 6 1 3 1-24 1 21 1-11 1-8 1 10 1 7 1-8 1-9 1 20 1-1 1-3 1-10 1 0 1 11 1-5 1-7 1 17 1-9 1-4 1-2 1 0 1 17 1-11 1 4 1-7 1-1 1 4 1-3 1-15 1 3 1 7 1 7 1-16 1 21 1 10 1-13 1 6 1 11 1-10 1-5 1 0 1-6 1-2 1 0 1 14 1-15 1-7 1 15 1 0 1-6 1-1 1 5 1-3 1 10 1 7 1-9 1-2 1-2 1 3 1 3 1-9 1-2 1 6 1 1 1-3 1 5 1-9 1 8 1 12 1-30 1 11 1-4 1 9 1-1 1-1 1-1 1 2 1 6 1-12 1 5 1-15 1 22 1-4 1-2 1 14 1-8 1 9 1-10 1-7 1 1 1-7 1 6 1-6 1 4 1 22 1-18 1 13 1-17 1-4 1 0 1 8 1 3 1 12 1-16 1 5 1 5 1 8 1 1 1-6 1-8 1 6 1 7 1-11 1-1 1 7 1 4 1-3 1 4 1-4 1 11 1-14 1 8 1-14 1 30 1-8 1 5 1-9 1-1 1 7 1-4 1 0 1 7 1-4 1 7 1-3 1 2 1 1 1 3 1-7 1 2 1-9 1 22 1-10 1 0 1-2 1 3 1-10 1 16 1 5 1-10 1 7 1-3 1 2 1-9 1 14 1-10 1 5 1 2 1 1 1 5 1-3 1 0 1 3 1 3 1-1 1 0 1 0 1 4 1-3 1-2 1 4 1-4 1 4 1 1 1 2 1 0 1-1 1-1 1 2 1-1 1-5 1 8 1-5 1 1 1-1 1 0 1 1 1 1 1-1 1 2 1-1 1-1 1 0 1-1 1 2 1 1 1-7 1 4 1-1 1 1 1-1 1 0 1-1 1 3 1-2 1 0 1 5 1-3 1-1 1 2 1 0 1-4 1 2 1 1 1 1 1-2 1-7 1 7 1 3 1 1 1-6 1 1 1 3 1-5 1 1 1 4 1 0 1-3 1 1 1-1 1-1 1 3 1-1 1 3 1-4 1-1 1 7 1-2 1-4 1 5 1-4 1-1 1 1 1-1 1 1 1-2 1 3 1 0 1 1 1 2 1-4 1 0 1 0 1 2 1-1 1-3 1 1 1-2 1 2 1 2 1-6 1 7 1 2 1-3 1-2 1-1 1 1 1 2 1-5 1 3 1 0 1 2 1-5 1 1 1 5 1-5 1 2 1 1 1-3 1 4 1-2 1-2 1 2 1 4 1-2 1-2 1 2 1-2 1-1 1 3 1 1 1-3 1-4 1 5 1-2 1 0 1 0 1 4 1-4 1 0 1 3 1-3 1 3 1 1 1-1 1-5 1 1 1 2 1-4 1 6 1-4 1 3 1 4 1-7 1 1 1 4 1-2 1-2 1 2 1-3 1 6 1-9 1 5 1 2 1-1 1 1 1 2 1-1 1-3 1-2 1 5 1-4 1 2 1-6 1 3 1 0 1 1 1 0 1 2 1 1 1-6 1 1 1 0 1 6 1-3 1-2 1 2 1 4 1-4 1 3 1 0 1-4 1 7 1-9 1 6 1-2 1-1 1 1 1 0 1 1 1-2 1 3 1-3 1 0 1 1 1-4 1 3 1 1 1-6 1 2 1 2 1 2 1-5 1 3 1 1 1 0 1-2 1 1 1 2 1 4 1-7 1 2 1-2 1 1 1-1 1 1 1 1 1 0 1 5 1-1 1-9 1 7 1 0 1-7 1 4 1 6 1 1 1-2 1-3 1-3 1 1 1 2 1-3 1 6 1-3 1-4 1-4 1 9 1 1 1-3 1-1 1-1 1 1 1-3 1-1 1 3 1 4 1-1 1-1 1 1 1-4 1 1 1 1 1 1 1-2 1 4 1 1 1-2 1 2 1-2 1 5 1-6 1 2 1-4 1 0 1 1 1 5 1-4 1-1 1 4 1-4 1 3 1 2 1-5 1 2 1-6 1 5 1 1 1-1 1 0 1 0 1 2 1 0 1-6 1 6 1-6 1 6 1-4 1 2 1-3 1 3 1 0 1 1 1-2 1 0 1-1 1 3 1-1 1 0 1 5 1-5 1 3 1-3 1 1 1 0 1-1 1 3 1-3 1-4 1 0 1 0 1 1 1 2 1-4 1 5 1-2 1 1 1 1 1 2 1-3 1-4 1 4 1 2 1-2 1 2 1-1 1 2 1-4 1 3 1-1 1 0 1 4 1-7 1-1 1 6 1-8 1 6 1 1 1-2 1 0 1 2 1-2 1 4 1-5 1 4 1 2 1-4 1 3 1-5 1-2 1 7 1-2 1 2 1 0 1-1 1-2 1 4 1-6 1-3 1 8 1-3 1 1 1 5 1-1 1-9 1 4 1-4 1 4 1-2 1-1 1 4 1-4 1 0 1 4 1-1 1 3 1-7 1 6 1-2 1 1 1 0 1-3 1 2 1-3 1 3 1-3 1 6 1-1 1 4 1-9 1 1 1 5 1-1 1-2 1 3 1-6 1-1 1 4 1-1 1 2 1 2 1 1 1-2 1-2 1-3 1 5 1-3 1-4 1 1 1 2 1 0 1 8 1-5 1-2 1 1 1-2 1 0 1 1 1 4 1-2 1 1 1-4 1 1 1-2 1 3 1 3 1-3 1 3 1 1 1 0 1-6 1 3 1 2 1-1 1-2 1 1 1 0 1 1 1-4 1 3 1-5 1 6 1 4 1-4 1-3 1 0 1 0 1-1 1-2 1 6 1-5 1 3 1 1 1-5 1 1 1 7 1-6 1 0 1 5 1-1 1-1 1 0 1-3 1-1 1 6 1 3 1-4 1-3 1 0 1-2 1 0 1 0 1 6 1-6 1 5 1-6 1 2 1 1 1-1 1 1 1 1 1 3 1-5 1 1 1 0 1 2 1-3 1 4 1 1 1-6 1 4 1 1 1-1 1-5 1 3 1 2 1 2 1-1 1-2 1 4 1-3 1 0 1 2 1-2 1 1 1-2 1-4 1 0 1 7 1-2 1-2 1 2 1 3 1-2 1 1 1 0 1-3 1 0 1 2 1-6 1 5 1-5 1 5 1-1 1 1 1 0 1 2 1 0 1 0 1-4 1-1 1 0 1 5 1-6 1 2 1 4 1-2 1 0 1-1 1 5 1-1 1-5 1 0 1 4 1-2 1-3 1 2 1 1 1 3 1-1 1-4 1 1 1-1 1 4 1 3 1-4 1-1 1 0 1-4 1 0 1 3 1 0 1 0 1 1 1-3 1 6 1-6 1 2 1 1 1 3 1-4 1 3 1 0 1-2 1 0 1-1 1 2 1-1 1-5 1 4 1 3 1-1 1 0 1-5 1 2 1-2 1 2 1-3 1 9 1-1 1-4 1-1 1 4 1-2 1 1 1-3 1 3 1 1 1-1 1 0 1-2 1 1 1-3 1 4 1-1 1 1 1-7 1 7 1-3 1 0 1 4 1-4 1 0 1 3 1 2 1-3 1 1 1 1 1 0 1-4 1 3 1 1 1-3 1-3 1 6 1 0 1-6 1 8 1-4 1-4 1 4 1 1 1-2 1-1 1 3 1-2 1 2 1-3 1 1 1 2 1-1 1-1 1-3 1 3 1 2 1-2 1-5 1 2 1 0 1 7 1-8 1 3 1 1 1 0 1-1 1 6 1-7 1 6 1-8 1 4 1 2 1 1 1-2 1-4 1 3 1 0 1 2 1-6 1 5 1 1 1-3 1 3 1-1 1 3 1 0 1-5 1 3 1-3 1 0 1 0 1 0 1-1 1 3 1 0 1-3 1 5 1-1 1 1 1-1 1-5 1 0 1 4 1 3 1-2 1-2 1-4 1 5 1-3 1 0 1 6 1-7 1 0 1 2 1 1 1-3 1 2 1 1 1-1 1-3 1 6 1-2 1 1 1-2 1 0 1 2 1-2 1 1 1-3 1 0 1 3 1 0 1 1 1 1 1-3 1-2 1 7 1-2 1-5 1-1 1 6 1 0 1 1 1-6 1 2 1 1 1 2 1-4 1 3 1-5 1 4 1-3 1 1 1 1 1 1 1-5 1 1 1 6 1-7 1 8 1-5 1-1 1 2 1 3 1 0 1-5 1 4 1-2 1-1 1 3 1 1 1 0 1-2 1-4 1 3 1 1 1-6 1 1 1 1 1 2 1-1 1-1 1 2 1-2 1 2 1-2 1 6 1-1 1-7 1 1 1 6 1 0 1-6 1 4 1-1 1-4 1 2 1 2 1-4 1 9 1-3 1-11 1 6 1-2 1 7 1-8 1 9 1-5 1 0 1 4 1-5 1 11 1-11 1 2 1 2 1 2 1 0 1-1 1 0 1-3 1 4 1-2 1 3 1-12 1 5 1 9 1-10 1-7 1 8 1-1 1 0 1-5 1-1 1 6 1 8 1-7 1 6 1-1 1-9 1 4 1 1 1-3 1-2 1 6 1-8 1 8 1-6 1 3 1 0 1 0 1-5 1 1 1 3 1-5 1 9 1-6 1 6 1 5 1-4 1-10 1 4 1-1 1 3 1 0 1 1 1-4 1-1 1 0 1 0 1 0 1-1 1-3 1 6 1-5 1-3 1 10 1-3 1-2 1 3 1-3 1 1 1-11 1 6 1-6 1 7 1-1 1 1 1 0 1-14 1 6 1 5 1 10 1-8 1-7 1 2 1 3 1-6 1 2 1 5 1-6 1-3 1-1 1 4 1 2 1-3 1-5 1 1 1-5 1 7 1-2 1-1 1-4 1 8 1-16 1 9 1-12 1-2 1 17 1-12 1-4 1 2 1-6 1 8 1-15 1 3 1 1 1 15 1-29 1 16 1-27 1-1 1 18 1-2 1-22 1-12 1 5 1-5 1-4 1-21 1 7 1 13 1-35 1-3 1 5 1-5 1-28 1 3 1 2 1-27 1 12 1-11 1 13 1-30 1-56 1 55 1-15 1-48 1 17 1-40 1-26 1 23 1-9 1-43 1-4 1-32 1 19 1-27 1 8 1-4 1-16 1-15 1-69 1 0 1 3 1-9 1-13 1-47 1 16 1 26 1-50 1 28 1-45 1-4 1 12 1-12 1-55 1-24 1-9 1 26 1-8 1-37 1-29 1-8 1 17 1 22 1-49 1 5 1 19 1 11 1-14 1-45 1-2 1 47 1-10 1-33 1 85 1-18 1-1 1-8 1 62 1-47 1 59 1-52 1 36 1 22 1-23 1 33 1 36 1-33 1 43 1-1 1-10 1 79 1-36 1 11 1-15 1 105 1-44 1-15 1 54 1 22 1 23 1 41 1-45 1 64 1 25 1-36 1 10 1 17 1 14 1 43 1-2 1 17 1 20 1-8 1 33 1-2 1-13 1 33 1 10 1-3 1 36 1-11 1-2 1 15 1 24 1-11 1 21 1-6 1 25 1 7 1-20 1 22 1 5 1 14 1-2 1-11 1 11 1 8 1 17 1-16 1 6 1-1 1 13 1-4 1 9 1 7 1 5 1-13 1 8 1 0 1 9 1-14 1 11 1 7 1-1 1-2 1-6 1 3 1 1 1 5 1-5 1 4 1-3 1 6 1 0 1 1 1 0 1 1 1-4 1 3 1 3 1-3 1 1 1 3 1-5 1 1 1 0 1-4 1 8 1-5 1 1 1 3 1-6 1 6 1-3 1-1 1 3 1 0 1-3 1-1 1 4 1-4 1 2 1 4 1-5 1 2 1 1 1-2 1 0 1 3 1-1 1-3 1 0 1-2 1 4 1 0 1 2 1-7 1 4 1 0 1-2 1 1 1 4 1-1 1-4 1 2 1 2 1-1 1-3 1 6 1-3 1-3 1 0 1 5 1-2 1-1 1 0 1 1 1 1 1 0 1-1 1 0 1-4 1 3 1-1 1 0 1 3 1-3 1 3 1-4 1 1 1 3 1-3 1 3 1-3 1 4 1-3 1-2 1 4 1 3 1-2 1-3 1 1 1 4 1-3 1 0 1 3 1-3 1-1 1 1 1 0 1-4 1 6 1-2 1-4 1 3 1 3 1-4 1 6 1-4 1-2 1 4 1-5 1 2 1 0 1-6 1 4 1 2 1 4 1 0 1-3 1-1 1-1 1 3 1-1 1-2 1 4 1-3 1-2 1 3 1-1 1 0 1-1 1 0 1 1 1 1 1 0 1-2 1 3 1-5 1 8 1-6 1-3 1 4 1-1 1 0 1-5 1 4 1-1 1 4 1-1 1 1 1 0 1 0 1-1 1 2 1-4 1 2 1-2 1 3 1-2 1-5 1 4 1 0 1 0 1-1 1 0 1 4 1 0 1-2 1-3 1 2 1 3 1-3 1 1 1 2 1 0 1 3 1-1 1-1 1-6 1 3 1-1 1 1 1 1 1-4 1 4 1-2 1 1 1 2 1 0 1-2 1 2 1-4 1 4 1-3 1 2 1 0 1-1 1 2 1 0 1 0 1-2 1 0 1-2 1 2 1-1 1 0 1 2 1-3 1 4 1 3 1 1 1-5 1-3 1 4 1 4 1-8 1 0 1 5 1-3 1-2 1 5 1 0 1-3 1-1 1 2 1-1 1 0 1 0 1 0 1 3 1 2 1-3 1 1 1 3 1-8 1 5 1-4 1 4 1-3 1 0 1 0 1 1 1 1 1-1 1-6 1 3 1 5 1-2 1 3 1-7 1 2 1 2 1 3 1-1 1-1 1 0 1 0 1-1 1 3 1-3 1 0 1-1 1 4 1-5 1 0 1 1 1 3" fill="none" stroke="#000" stroke-width="2.6" stroke-linejoin="round" vector-effect="non-scaling-stroke"/>
<polyline points="793.2,787.2 793.6,787.3 793.9,787.5 794.3,787.7 794.6,788.0 795.0,788.2 795.3,788.5 795.6,788.8 796.0,789.0 796.3,789.3 796.7,789.6 797.0,789.9 797.4,790.2 797.7,790.5 798.1,790.7 798.4,791.0 798.8,791.3 799.1,791.6 799.4,791.9 799.8,792.2 800.1,792.4 800.5,792.7 800.8,793.0 801.2,793.3 801.5,793.6 801.9,793.9 802.2,794.1 802.5,794.4 802.9,794.7 803.2,795.0 803.6,795.3 803.9,795.6 804.3,795.8 804.6,796.1 805.0,796.4 805.3,796.7 805.6,797.0 806.0,797.3 806.3,797.5 806.7,797.8 807.0,798.1 807.4,798.4 807.7,798.7 808.1,799.0 808.4,799.2 808.8,799.5 809.1,799.8 809.4,800.1 809.8,800.4 810.1,800.7 810.5,800.9 810.8,801.2 811.2,801.5 811.5,801.8 811.9,802.1 812.2,802.4 812.5,802.6 812.9,802.9 813.2,803.2 813.6,803.5 813.9,803.8 814.3,804.1 814.6,804.4 815.0,804.8 815.3,805.1 815.7,805.5 816.0,805.9 816.3,806.3 816.7,806.7 817.0,807.1 817.4,807.5 817.7,807.9 818.1,808.3 818.4,808.7 818.8,809.1 819.1,809.5 819.4,810.0 819.8,810.4 820.1,810.8 820.5,811.2 820.8,811.6 821.2,812.0 821.5,812.4 821.9,812.8 822.2,813.2 822.5,813.6 822.9,814.1 823.2,814.5 823.6,814.9 823.9,815.3 824.3,815.7 824.6,816.1 825.0,816.5 825.3,816.9 825.7,817.3 826.0,817.7 826.3,818.0 826.7,818.4 827.0,818.7 827.4,818.9 827.7,819.2 828.1,819.4 828.4,819.5 828.8,819.7 829.1,819.9 829.4,820.0 829.8,820.2 830.1,820.3 830.5,820.5 830.8,820.6 831.2,820.8 831.5,820.9 831.9,821.1 832.2,821.2 832.6,821.4 832.9,821.5 833.2,821.7 833.6,821.8 833.9,822.0 834.3,822.1 834.6,822.3 835.0,822.4 835.3,822.6 835.7,822.7 836.0,822.9 836.3,823.0 836.7,823.2 837.0,823.3 837.4,823.5 837.7,823.6 838.1,823.7 838.4,823.9 838.8,824.0 839.1,824.2 839.4,824.3 839.8,824.5 840.1,824.6 840.5,824.8 840.8,824.9 841.2,825.1 841.5,825.2 841.9,825.4 842.2,825.5 842.6,825.7 842.9,825.8 843.2,826.0 843.6,826.1 843.9,826.3 844.3,826.4 844.6,826.6 845.0,826.7 845.3,826.9 845.7,827.0 846.0,827.2 846.3,827.3 846.7,827.5 847.0,827.6 847.4,827.8 847.7,827.9 848.1,828.1 848.4,828.2 848.8,828.4 849.1,828.5 849.4,828.7 849.8,828.8 850.1,829.0 850.5,829.1 850.8,829.3 851.2,829.4 851.5,829.6 851.9,829.7 852.2,829.9 852.6,830.0 852.9,830.2 853.2,830.3 853.6,830.5 853.9,830.6 854.3,830.8 854.6,830.9 855.0,831.1 855.3,831.2 855.7,831.4 856.0,831.5 856.3,831.7 856.7,831.8 857.0,831.9 857.4,832.1 857.7,832.2 858.1,832.4 858.4,832.5 858.8,832.7 859.1,832.8 859.5,833.0 859.8,833.1 860.1,833.3 860.5,833.4 860.8,833.6 861.2,833.7 861.5,833.9 861.9,834.0 862.2,834.2 862.6,834.3 862.9,834.5 863.2,834.6 863.6,834.8 863.9,834.9 864.3,835.1 864.6,835.2 865.0,835.4 865.3,835.5 865.7,835.7 866.0,835.8 866.3,836.0 866.7,836.1 867.0,836.3 867.4,836.4 867.7,836.6 868.1,836.7 868.4,836.9 868.8,837.0 869.1,837.2 869.5,837.3 869.8,837.5 870.1,837.6 870.5,837.8 870.8,837.9 871.2,838.1 871.5,838.2 871.9,838.4 872.2,838.5 872.6,838.7 872.9,838.8 873.2,839.0 873.6,839.1 873.9,839.3 874.3,839.4 874.6,839.6 875.0,839.7 875.3,839.9 875.7,840.0 876.0,840.1 876.3,840.3 876.7,840.4 877.0,840.6 877.4,840.7 877.7,840.9 878.1,841.0 878.4,841.2 878.8,841.3 879.1,841.5 879.5,841.6 879.8,841.8 880.1,841.9 880.5,842.1 880.8,842.2 881.2,842.4 881.5,842.5 881.9,842.7 882.2,842.8 882.6,843.0 882.9,843.1 883.2,843.3 883.6,843.5 883.9,843.7 884.3,843.9 884.6,844.2 885.0,844.5 885.3,844.9 885.7,845.2 886.0,845.6 886.4,846.0 886.7,846.5 887.0,846.9 887.4,847.3 887.7,847.8 888.1,848.2 888.4,848.7 888.8,849.3 889.1,849.9 889.5,850.6 889.8,851.4 890.1,852.4 890.5,853.5 890.8,854.6 891.2,855.9 891.5,857.2 891.9,858.5 892.2,859.9 892.6,861.2 892.9,862.6 893.2,863.9 893.6,865.3 893.9,866.7 894.3,868.0 894.6,869.4 895.0,870.7 895.3,872.1 895.7,873.5 896.0,874.8 896.4,876.2 896.7,877.5 897.0,878.9 897.4,880.3 897.7,881.6 898.1,883.0 898.4,884.3 898.8,885.7 899.1,887.0 899.5,888.3 899.8,889.5 900.1,890.7 900.5,891.8 900.8,892.8 901.2,893.8 901.5,894.7 901.9,895.6 902.2,896.4 902.6,897.2 902.9,898.0 903.2,898.7 903.6,899.5 903.9,900.3 904.3,901.0 904.6,901.7 905.0,902.3 905.3,902.9 905.7,903.4 906.0,903.7 906.4,904.0 906.7,904.2 907.0,904.4 907.4,904.5 907.7,904.6 908.1,904.6 908.4,904.7 908.8,904.8 909.1,904.8 909.5,904.9 909.8,904.9 910.1,905.0 910.5,905.1 910.8,905.1 911.2,905.2 911.5,905.2 911.9,905.3 912.2,905.4 912.6,905.4 912.9,905.5 913.3,905.5 913.6,905.6 913.9,905.7 914.3,905.7 914.6,905.8 915.0,905.8 915.3,905.9 915.7,906.0 916.0,906.0 916.4,906.1 916.7,906.1 917.0,906.2 917.4,906.3 917.7,906.3 918.1,906.4 918.4,906.4 918.8,906.5 919.1,906.6 919.5,906.6 919.8,906.7 920.1,906.8 920.5,906.8 920.8,906.9 921.2,906.9 921.5,907.0 921.9,907.1 922.2,907.1 922.6,907.2 922.9,907.2 923.3,907.3 923.6,907.4 923.9,907.4 924.3,907.5 924.6,907.5 925.0,907.6 925.3,907.7 925.7,907.7 926.0,907.8 926.4,907.8 926.7,907.9 927.0,908.0 927.4,908.0 927.7,908.1 928.1,908.1 928.4,908.2 928.8,908.3 929.1,908.3 929.5,908.4 929.8,908.4 930.1,908.5 930.5,908.6 930.8,908.6 931.2,908.7 931.5,908.7 931.9,908.8 932.2,908.9 932.6,908.9 932.9,909.0 933.3,909.0 933.6,909.1 933.9,909.2 934.3,909.2 934.6,909.3 935.0,909.3 935.3,909.4 935.7,909.5 936.0,909.5 936.4,909.6 936.7,909.6 937.0,909.7 937.4,909.8 937.7,909.8 938.1,909.9 938.4,909.9 938.8,910.0 939.1,910.1 939.5,910.1 939.8,910.2 940.2,910.2 940.5,910.3 940.8,910.4 941.2,910.4 941.5,910.5 941.9,910.5 942.2,910.6 942.6,910.7 942.9,910.7 943.3,910.8 943.6,910.8 943.9,910.9 944.3,911.0 944.6,911.0 945.0,911.1 945.3,911.1 945.7,911.2 946.0,911.3 946.4,911.3 946.7,911.4 947.0,911.4 947.4,911.5 947.7,911.6 948.1,911.6 948.4,911.7 948.8,911.7 949.1,911.8 949.5,911.9 949.8,911.9 950.2,912.0 950.5,912.1 950.8,912.1 951.2,912.2 951.5,912.2 951.9,912.3 952.2,912.4 952.6,912.4 952.9,912.5 953.3,912.5 953.6,912.6 953.9,912.7 954.3,912.7 954.6,912.8 955.0,912.8 955.3,912.9 955.7,913.0 956.0,913.0 956.4,913.1 956.7,913.1 957.1,913.2 957.4,913.3 957.7,913.3 958.1,913.4 958.4,913.4 958.8,913.5 959.1,913.6 959.5,913.6 959.8,913.7 960.2,913.7 960.5,913.8 960.8,913.9 961.2,913.9 961.5,914.0 961.9,914.0 962.2,914.1 962.6,914.2 962.9,914.2 963.3,914.3 963.6,914.3 963.9,914.4 964.3,914.5 964.6,914.5 965.0,914.6 965.3,914.6 965.7,914.7 966.0,914.8 966.4,914.8 966.7,914.9 967.1,914.9 967.4,915.0 967.7,915.1 968.1,915.1 968.4,915.2 968.8,915.2 969.1,915.3 969.5,915.4 969.8,915.4 970.2,915.5 970.5,915.5 970.8,915.6 971.2,915.7 971.5,915.7 971.9,915.8 972.2,915.8 972.6,915.9 972.9,916.0 973.3,916.0 973.6,916.1 973.9,916.1 974.3,916.2 974.6,916.3 975.0,916.3 975.3,916.4 975.7,916.4 976.0,916.5 976.4,916.6 976.7,916.6 977.1,916.7 977.4,916.8 977.7,916.8 978.1,916.9 978.4,917.1 978.8,917.3 979.1,917.5 979.5,917.8 979.8,918.2 980.2,918.7 980.5,919.3 980.8,919.9 981.2,920.5 981.5,921.1 981.9,921.8 982.2,922.5 982.6,923.1 982.9,923.8 983.3,924.5 983.6,925.2 984.0,925.8 984.3,926.5 984.6,927.2 985.0,927.8 985.3,928.5 985.7,929.2 986.0,929.8 986.4,930.5 986.7,931.2 987.1,931.9 987.4,932.5 987.7,933.2 988.1,933.9 988.4,934.5 988.8,935.2 989.1,935.9 989.5,936.6 989.8,937.2 990.2,937.9 990.5,938.6 990.8,939.2 991.2,939.9 991.5,940.6 991.9,941.2 992.2,941.9 992.6,942.6 992.9,943.2 993.3,943.9 993.6,944.5 994.0,945.1 994.3,945.7 994.6,946.2 995.0,946.6 995.3,946.9 995.7,947.2 996.0,947.4 996.4,947.5 996.7,947.6 997.1,947.7 997.4,947.8 997.7,947.9 998.1,948.0 998.4,948.1 998.8,948.2 999.1,948.2 999.5,948.3 999.8,948.4 1000.2,948.5 1000.5,948.6 1000.8,948.6 1001.2,948.7 1001.5,948.8 1001.9,948.9 1002.2,949.0 1002.6,949.0 1002.9,949.1 1003.3,949.2 1003.6,949.3 1004.0,949.4 1004.3,949.4 1004.6,949.5 1005.0,949.6 1005.3,949.7 1005.7,949.8 1006.0,949.8 1006.4,949.9 1006.7,950.0 1007.1,950.1 1007.4,950.2 1007.7,950.2 1008.1,950.3 1008.4,950.4 1008.8,950.5 1009.1,950.6 1009.5,950.7 1009.8,950.7 1010.2,950.8 1010.5,950.9 1010.9,951.0 1011.2,951.1 1011.5,951.1 1011.9,951.2 1012.2,951.3 1012.6,951.4 1012.9,951.5 1013.3,951.5 1013.6,951.6 1014.0,951.7 1014.3,951.8 1014.6,951.9 1015.0,951.9 1015.3,952.0 1015.7,952.1 1016.0,952.2 1016.4,952.3 1016.7,952.3 1017.1,952.4 1017.4,952.5 1017.7,952.6 1018.1,952.7 1018.4,952.7 1018.8,952.8 1019.1,952.9 1019.5,953.0 1019.8,953.1 1020.2,953.1 1020.5,953.2 1020.9,953.3 1021.2,953.4 1021.5,953.5 1021.9,953.5 1022.2,953.6 1022.6,953.7 1022.9,953.9 1023.3,954.0 1023.6,954.2 1024.0,954.4 1024.3,954.7 1024.6,955.0 1025.0,955.4 1025.3,955.8 1025.7,956.2 1026.0,956.6 1026.4,957.0 1026.7,957.5 1027.1,957.9 1027.4,958.4 1027.7,958.9 1028.1,959.5 1028.4,960.1 1028.8,960.9 1029.1,961.8 1029.5,962.9 1029.8,964.2 1030.2,965.5 1030.5,967.0 1030.9,968.5 1031.2,970.0 1031.5,971.6 1031.9,973.2 1032.2,974.8 1032.6,976.3 1032.9,977.9 1033.3,979.5 1033.6,981.1 1034.0,982.7 1034.3,984.3 1034.6,985.9 1035.0,987.5 1035.3,989.0 1035.7,990.6 1036.0,992.2 1036.4,993.8 1036.7,995.4 1037.1,997.0 1037.4,998.6 1037.8,1000.2 1038.1,1001.8 1038.4,1003.3 1038.8,1004.9 1039.1,1006.5 1039.5,1008.1 1039.8,1009.7 1040.2,1011.2 1040.5,1012.8 1040.9,1014.3 1041.2,1015.7 1041.5,1017.1 1041.9,1018.2 1042.2,1019.3 1042.6,1020.1 1042.9,1020.8 1043.3,1021.4 1043.6,1021.8 1044.0,1022.2 1044.3,1022.5 1044.6,1022.8 1045.0,1023.1 1045.3,1023.4 1045.7,1023.7 1046.0,1024.0 1046.4,1024.3 1046.7,1024.6 1047.1,1024.9 1047.4,1025.2 1047.8,1025.5 1048.1,1025.8 1048.4,1026.1 1048.8,1026.3 1049.1,1026.6 1049.5,1026.8 1049.8,1027.0 1050.2,1027.2 1050.5,1027.4 1050.9,1027.5 1051.2,1027.5 1051.5,1027.6 1051.9,1027.6 1052.2,1027.7 1052.6,1027.7 1052.9,1027.7 1053.3,1027.7 1053.6,1027.7 1054.0,1027.8 1054.3,1027.8 1054.6,1027.8 1055.0,1027.8 1055.3,1027.8 1055.7,1027.9 1056.0,1027.9 1056.4,1027.9 1056.7,1027.9 1057.1,1027.9 1057.4,1027.9 1057.8,1028.0 1058.1,1028.0 1058.4,1028.0 1058.8,1028.0 1059.1,1028.0 1059.5,1028.1 1059.8,1028.1 1060.2,1028.1 1060.5,1028.1 1060.9,1028.1 1061.2,1028.2 1061.5,1028.2 1061.9,1028.2 1062.2,1028.2 1062.6,1028.2 1062.9,1028.3 1063.3,1028.3 1063.6,1028.3 1064.0,1028.3 1064.3,1028.3 1064.7,1028.4 1065.0,1028.4 1065.3,1028.4 1065.7,1028.4 1066.0,1028.4 1066.4,1028.4 1066.7,1028.5 1067.1,1028.5 1067.4,1028.5 1067.8,1028.5 1068.1,1028.5 1068.4,1028.6 1068.8,1028.6 1069.1,1028.6 1069.5,1028.6 1069.8,1028.6 1070.2,1028.7 1070.5,1028.7 1070.9,1028.7 1071.2,1028.7 1071.5,1028.7 1071.9,1028.8 1072.2,1028.8 1072.6,1028.8 1072.9,1028.8 1073.3,1028.8 1073.6,1028.9 1074.0,1028.9 1074.3,1028.9 1074.7,1028.9 1075.0,1028.9 1075.3,1028.9 1075.7,1029.0 1076.0,1029.0 1076.4,1029.0 1076.7,1029.0 1077.1,1029.0 1077.4,1029.1 1077.8,1029.1 1078.1,1029.1 1078.4,1029.1 1078.8,1029.1 1079.1,1029.2 1079.5,1029.2 1079.8,1029.2 1080.2,1029.2 1080.5,1029.2 1080.9,1029.3 1081.2,1029.3 1081.6,1029.3 1081.9,1029.3 1082.2,1029.3 1082.6,1029.4 1082.9,1029.4 1083.3,1029.4 1083.6,1029.4 1084.0,1029.4 1084.3,1029.4 1084.7,1029.5 1085.0,1029.5 1085.3,1029.5 1085.7,1029.5 1086.0,1029.5 1086.4,1029.6 1086.7,1029.6 1087.1,1029.6 1087.4,1029.6 1087.8,1029.6 1088.1,1029.7 1088.4,1029.7 1088.8,1029.7 1089.1,1029.7 1089.5,1029.7 1089.8,1029.8 1090.2,1029.8 1090.5,1029.8 1090.9,1029.8 1091.2,1029.8 1091.6,1029.9 1091.9,1029.9 1092.2,1029.9 1092.6,1029.9 1092.9,1029.9 1093.3,1029.9 1093.6,1030.0 1094.0,1030.0 1094.3,1030.0 1094.7,1030.0 1095.0,1030.0 1095.3,1030.1 1095.7,1030.1 1096.0,1030.1 1096.4,1030.1 1096.7,1030.2 1097.1,1030.2 1097.4,1030.3 1097.8,1030.3 1098.1,1030.4 1098.4,1030.4 1098.8,1030.5 1099.1,1030.6 1099.5,1030.7 1099.8,1030.7 1100.2,1030.8 1100.5,1030.9 1100.9,1031.0 1101.2,1031.1 1101.6,1031.2 1101.9,1031.4 1102.2,1031.6 1102.6,1031.8 1102.9,1032.1 1103.3,1032.4 1103.6,1032.8 1104.0,1033.2 1104.3,1033.6 1104.7,1034.0 1105.0,1034.5 1105.3,1034.9 1105.7,1035.4 1106.0,1035.8 1106.4,1036.3 1106.7,1036.7 1107.1,1037.2 1107.4,1037.6 1107.8,1038.1 1108.1,1038.5 1108.5,1039.0 1108.8,1039.4 1109.1,1039.8 1109.5,1040.3 1109.8,1040.7 1110.2,1041.2 1110.5,1041.6 1110.9,1042.1 1111.2,1042.5 1111.6,1043.0 1111.9,1043.4 1112.2,1043.9 1112.6,1044.3 1112.9,1044.8 1113.3,1045.2 1113.6,1045.6 1114.0,1046.1 1114.3,1046.5 1114.7,1046.9 1115.0,1047.3 1115.3,1047.6 1115.7,1047.8 1116.0,1048.0 1116.4,1048.2 1116.7,1048.3 1117.1,1048.3 1117.4,1048.4 1117.8,1048.4 1118.1,1048.4 1118.5,1048.5 1118.8,1048.5 1119.1,1048.5 1119.5,1048.5 1119.8,1048.5 1120.2,1048.5 1120.5,1048.5 1120.9,1048.6 1121.2,1048.6 1121.6,1048.6 1121.9,1048.6 1122.2,1048.6 1122.6,1048.6 1122.9,1048.6 1123.3,1048.7 1123.6,1048.7 1124.0,1048.7 1124.3,1048.7 1124.7,1048.7 1125.0,1048.7 1125.3,1048.7 1125.7,1048.8 1126.0,1048.8 1126.4,1048.8 1126.7,1048.8 1127.1,1048.8 1127.4,1048.8 1127.8,1048.8 1128.1,1048.9 1128.5,1048.9 1128.8,1048.9 1129.1,1048.9 1129.5,1048.9 1129.8,1048.9 1130.2,1048.9 1130.5,1049.0 1130.9,1049.0 1131.2,1049.0 1131.6,1049.0 1131.9,1049.0 1132.2,1049.0 1132.6,1049.0 1132.9,1049.1 1133.3,1049.1 1133.6,1049.1 1134.0,1049.1 1134.3,1049.1 1134.7,1049.1 1135.0,1049.1 1135.4,1049.1 1135.7,1049.2 1136.0,1049.2 1136.4,1049.2 1136.7,1049.2 1137.1,1049.2 1137.4,1049.2 1137.8,1049.2 1138.1,1049.2 1138.5,1049.2 1138.8,1049.2 1139.1,1049.2 1139.5,1049.2 1139.8,1049.2 1140.2,1049.2 1140.5,1049.2 1140.9,1049.2 1141.2,1049.2 1141.6,1049.2 1141.9,1049.2 1142.2,1049.2 1142.6,1049.2 1142.9,1049.2 1143.3,1049.2 1143.6,1049.2 1144.0,1049.2 1144.3,1049.2 1144.7,1049.2 1145.0,1049.2 1145.4,1049.2 1145.7,1049.2 1146.0,1049.2 1146.4,1049.2 1146.7,1049.2 1147.1,1049.2 1147.4,1049.2 1147.8,1049.2 1148.1,1049.2 1148.5,1049.2 1148.8,1049.2 1149.1,1049.2 1149.5,1049.2 1149.8,1049.2 1150.2,1049.2 1150.5,1049.2 1150.9,1049.2 1151.2,1049.2 1151.6,1049.2 1151.9,1049.2 1152.2,1049.2 1152.6,1049.2 1152.9,1049.2 1153.3,1049.2 1153.6,1049.2 1154.0,1049.2 1154.3,1049.2 1154.7,1049.2 1155.0,1049.2 1155.4,1049.2 1155.7,1049.2 1156.0,1049.2 1156.4,1049.2 1156.7,1049.2 1157.1,1049.2 1157.4,1049.3 1157.8,1049.3 1158.1,1049.3 1158.5,1049.3 1158.8,1049.3 1159.1,1049.3 1159.5,1049.3 1159.8,1049.3 1160.2,1049.3 1160.5,1049.3 1160.9,1049.3 1161.2,1049.3 1161.6,1049.3 1161.9,1049.3 1162.3,1049.3 1162.6,1049.3 1162.9,1049.3 1163.3,1049.3 1163.6,1049.3 1164.0,1049.3 1164.3,1049.3 1164.7,1049.3 1165.0,1049.3 1165.4,1049.3 1165.7,1049.3 1166.0,1049.3 1166.4,1049.3 1166.7,1049.3 1167.1,1049.3 1167.4,1049.3 1167.8,1049.3 1168.1,1049.3 1168.5,1049.3 1168.8,1049.3 1169.1,1049.3 1169.5,1049.3 1169.8,1049.3 1170.2,1049.3 1170.5,1049.3 1170.9,1049.3 1171.2,1049.3 1171.6,1049.3 1171.9,1049.3 1172.3,1049.3 1172.6,1049.3 1172.9,1049.3 1173.3,1049.3 1173.6,1049.3 1174.0,1049.3 1174.3,1049.3 1174.7,1049.3 1175.0,1049.3 1175.4,1049.3 1175.7,1049.3 1176.0,1049.3 1176.4,1049.3 1176.7,1049.3 1177.1,1049.3 1177.4,1049.3 1177.8,1049.3 1178.1,1049.3 1178.5,1049.3 1178.8,1049.3 1179.1,1049.3 1179.5,1049.3 1179.8,1049.3 1180.2,1049.3 1180.5,1049.3 1180.9,1049.3 1181.2,1049.3 1181.6,1049.3 1181.9,1049.3 1182.3,1049.3 1182.6,1049.3 1182.9,1049.3 1183.3,1049.3 1183.6,1049.3 1184.0,1049.3 1184.3,1049.3 1184.7,1049.3 1185.0,1049.3 1185.4,1049.3 1185.7,1049.3 1186.0,1049.3 1186.4,1049.3 1186.7,1049.3 1187.1,1049.3 1187.4,1049.3 1187.8,1049.3 1188.1,1049.3 1188.5,1049.3 1188.8,1049.3 1189.2,1049.3 1189.5,1049.3 1189.8,1049.3 1190.2,1049.3 1190.5,1049.3 1190.9,1049.3 1191.2,1049.3 1191.6,1049.3 1191.9,1049.3 1192.3,1049.3 1192.6,1049.3 1192.9,1049.3 1193.3,1049.3 1193.6,1049.3 1194.0,1049.3 1194.3,1049.3 1194.7,1049.3 1195.0,1049.3 1195.4,1049.3 1195.7,1049.3 1196.0,1049.3 1196.4,1049.3 1196.7,1049.3 1197.1,1049.3 1197.4,1049.3 1197.8,1049.3 1198.1,1049.3 1198.5,1049.3 1198.8,1049.3 1199.2,1049.3 1199.5,1049.3 1199.8,1049.3 1200.2,1049.3 1200.5,1049.3 1200.9,1049.3 1201.2,1049.3 1201.6,1049.3 1201.9,1049.3 1202.3,1049.3 1202.6,1049.3 1202.9,1049.3 1203.3,1049.3 1203.6,1049.3 1204.0,1049.3 1204.3,1049.3 1204.7,1049.3 1205.0,1049.3 1205.4,1049.3 1205.7,1049.3 1206.0,1049.3 1206.4,1049.3 1206.7,1049.3 1207.1,1049.3 1207.4,1049.3 1207.8,1049.3 1208.1,1049.3 1208.5,1049.3 1208.8,1049.3 1209.2,1049.3 1209.5,1049.3 1209.8,1049.3 1210.2,1049.3 1210.5,1049.3 1210.9,1049.3 1211.2,1049.3 1211.6,1049.3 1211.9,1049.3 1212.3,1049.3 1212.6,1049.3 1212.9,1049.3 1213.3,1049.3 1213.6,1049.3 1214.0,1049.3 1214.3,1049.3 1214.7,1049.3 1215.0,1049.3 1215.4,1049.3 1215.7,1049.3 1216.1,1049.3 1216.4,1049.3 1216.7,1049.3 1217.1,1049.3 1217.4,1049.3 1217.8,1049.3 1218.1,1049.3 1218.5,1049.3 1218.8,1049.3 1219.2,1049.3 1219.5,1049.3 1219.8,1049.3 1220.2,1049.3 1220.5,1049.3 1220.9,1049.3 1221.2,1049.3 1221.6,1049.3 1221.9,1049.3 1222.3,1049.3 1222.6,1049.3 1222.9,1049.3 1223.3,1049.3 1223.6,1049.3 1224.0,1049.3 1224.3,1049.3 1224.7,1049.3 1225.0,1049.3 1225.4,1049.3 1225.7,1049.3 1226.1,1049.3 1226.4,1049.3 1226.7,1049.3 1227.1,1049.3 1227.4,1049.3 1227.8,1049.3 1228.1,1049.4 1228.5,1049.4 1228.8,1049.4 1229.2,1049.4 1229.5,1049.4 1229.8,1049.4 1230.2,1049.4 1230.5,1049.4 1230.9,1049.4 1231.2,1049.4 1231.6,1049.4 1231.9,1049.4 1232.3,1049.4 1232.6,1049.4 1233.0,1049.4 1233.3,1049.4 1233.6,1049.4 1234.0,1049.4 1234.3,1049.4 1234.7,1049.4 1235.0,1049.4 1235.4,1049.4 1235.7,1049.4 1236.1,1049.4 1236.4,1049.4 1236.7,1049.4 1237.1,1049.4 1237.4,1049.4 1237.8,1049.4 1238.1,1049.4 1238.5,1049.4 1238.8,1049.4 1239.2,1049.4 1239.5,1049.4 1239.8,1049.4 1240.2,1049.4 1240.5,1049.4 1240.9,1049.4 1241.2,1049.4 1241.6,1049.4 1241.9,1049.4 1242.3,1049.4 1242.6,1049.4 1243.0,1049.4 1243.3,1049.4 1243.6,1049.4 1244.0,1049.4 1244.3,1049.4 1244.7,1049.4 1245.0,1049.4 1245.4,1049.4 1245.7,1049.4 1246.1,1049.4 1246.4,1049.4 1246.7,1049.4 1247.1,1049.4 1247.4,1049.4 1247.8,1049.4 1248.1,1049.4 1248.5,1049.4 1248.8,1049.4 1249.2,1049.4 1249.5,1049.4 1249.8,1049.4 1250.2,1049.4 1250.5,1049.4 1250.9,1049.4 1251.2,1049.4 1251.6,1049.4 1251.9,1049.4 1252.3,1049.4 1252.6,1049.4 1253.0,1049.4 1253.3,1049.4 1253.6,1049.4 1254.0,1049.4 1254.3,1049.4 1254.7,1049.4 1255.0,1049.4 1255.4,1049.4 1255.7,1049.4 1256.1,1049.4 1256.4,1049.4 1256.7,1049.4 1257.1,1049.4 1257.4,1049.4 1257.8,1049.4 1258.1,1049.4 1258.5,1049.4 1258.8,1049.4 1259.2,1049.4 1259.5,1049.4 1259.9,1049.4 1260.2,1049.4 1260.5,1049.4 1260.9,1049.4 1261.2,1049.4 1261.6,1049.3 1261.9,1049.3 1262.3,1049.3 1262.6,1049.3 1263.0,1049.2" fill="none" stroke="#f00" stroke-width="4.2" stroke-linejoin="round"/>
<polyline points="1263.0,1049.2 1263.3,1049.2 1263.6,1049.1 1264.0,1049.0 1264.3,1048.9 1264.7,1048.8 1265.0,1048.6 1265.4,1048.4 1265.7,1048.2 1266.1,1047.9 1266.4,1047.5 1266.7,1047.1 1267.1,1046.5 1267.4,1045.9 1267.8,1045.2 1268.1,1044.3 1268.5,1043.2 1268.8,1042.0 1269.2,1040.6 1269.5,1038.9 1269.9,1037.0 1270.2,1034.9 1270.5,1032.4 1270.9,1029.6 1271.2,1026.5 1271.6,1022.9 1271.9,1019.0 1272.3,1014.7 1272.6,1009.9 1273.0,1004.7 1273.3,999.1 1273.6,993.0 1274.0,986.5 1274.3,979.6 1274.7,972.2 1275.0,964.5 1275.4,956.5 1275.7,948.2 1276.1,939.6 1276.4,931.0 1276.7,922.2 1277.1,913.4 1277.4,904.8 1277.8,896.3 1278.1,888.1 1278.5,880.2 1278.8,872.8 1279.2,865.9 1279.5,859.7 1279.9,854.2 1280.2,849.5 1280.5,845.7 1280.9,842.8 1281.2,840.8 1281.6,839.8 1281.9,839.8 1282.3,840.7 1282.6,842.6 1283.0,845.3 1283.3,848.9 1283.6,853.3 1284.0,858.5 1284.3,864.3 1284.7,870.8 1285.0,877.8 1285.4,885.3 1285.7,893.1 1286.1,901.2 1286.4,909.5 1286.8,918.0 1287.1,926.5 1287.4,934.9 1287.8,943.2 1288.1,951.4 1288.5,959.3 1288.8,967.0 1289.2,974.4 1289.5,981.3 1289.9,988.0 1290.2,994.2 1290.5,1000.0 1290.9,1005.4 1291.2,1010.4 1291.6,1014.9 1291.9,1019.1 1292.3,1022.9 1292.6,1026.3 1293.0,1029.4 1293.3,1032.1 1293.6,1034.6 1294.0,1036.7 1294.3,1038.6 1294.7,1040.2 1295.0,1041.7 1295.4,1042.9 1295.7,1044.0 1296.1,1044.9 1296.4,1045.7 1296.8,1046.3 1297.1,1046.9 1297.4,1047.3 1297.8,1047.7 1298.1,1048.1 1298.5,1048.3 1298.8,1048.5 1299.2,1048.7 1299.5,1048.9 1299.9,1049.0 1300.2,1049.1 1300.5,1049.2 1300.9,1049.2" fill="none" stroke="#f00" stroke-width="4.2" stroke-linejoin="round" stroke-dasharray="12 4.7"/>
<polyline points="1300.9,1049.2 1301.2,1049.3 1301.6,1049.3 1301.9,1049.4 1302.3,1049.4 1302.6,1049.4 1303.0,1049.4 1303.3,1049.4 1303.6,1049.4 1304.0,1049.4 1304.3,1049.4 1304.7,1049.4 1305.0,1049.5 1305.4,1049.5 1305.7,1049.5 1306.1,1049.5 1306.4,1049.5 1306.8,1049.5 1307.1,1049.5 1307.4,1049.5 1307.8,1049.5 1308.1,1049.5 1308.5,1049.5 1308.8,1049.5 1309.2,1049.5 1309.5,1049.5 1309.9,1049.5 1310.2,1049.5 1310.5,1049.5 1310.9,1049.5 1311.2,1049.5 1311.6,1049.5 1311.9,1049.5 1312.3,1049.5 1312.6,1049.5 1313.0,1049.5 1313.3,1049.5 1313.7,1049.5 1314.0,1049.5 1314.3,1049.5 1314.7,1049.5 1315.0,1049.5 1315.4,1049.5 1315.7,1049.5 1316.1,1049.5 1316.4,1049.5 1316.8,1049.5 1317.1,1049.5 1317.4,1049.5 1317.8,1049.5 1318.1,1049.5 1318.5,1049.5 1318.8,1049.5 1319.2,1049.5 1319.5,1049.5 1319.9,1049.5 1320.2,1049.5 1320.5,1049.5 1320.9,1049.5 1321.2,1049.5 1321.6,1049.5 1321.9,1049.5 1322.3,1049.5 1322.6,1049.5 1323.0,1049.5 1323.3,1049.5 1323.7,1049.5 1324.0,1049.5 1324.3,1049.5 1324.7,1049.5 1325.0,1049.5 1325.4,1049.5 1325.7,1049.5 1326.1,1049.5 1326.4,1049.5 1326.8,1049.5 1327.1,1049.5 1327.4,1049.5 1327.8,1049.5 1328.1,1049.5 1328.5,1049.5 1328.8,1049.5 1329.2,1049.5 1329.5,1049.5 1329.9,1049.5 1330.2,1049.5 1330.5,1049.5 1330.9,1049.5 1331.2,1049.5 1331.6,1049.5 1331.9,1049.5 1332.3,1049.5 1332.6,1049.5 1333.0,1049.5 1333.3,1049.5 1333.7,1049.5 1334.0,1049.5 1334.3,1049.5 1334.7,1049.5 1335.0,1049.5 1335.4,1049.5 1335.7,1049.5 1336.1,1049.5 1336.4,1049.5 1336.8,1049.5 1337.1,1049.5 1337.4,1049.5 1337.8,1049.5 1338.1,1049.5 1338.5,1049.5 1338.8,1049.5 1339.2,1049.5 1339.5,1049.5 1339.9,1049.5 1340.2,1049.5 1340.6,1049.5 1340.9,1049.5 1341.2,1049.5 1341.6,1049.5 1341.9,1049.5 1342.3,1049.5 1342.6,1049.5 1343.0,1049.5 1343.3,1049.5 1343.7,1049.5 1344.0,1049.5" fill="none" stroke="#f00" stroke-width="4.2" stroke-linejoin="round"/>
</g>
<line x1="826.69" y1="1050.10" x2="826.69" y2="1061.10" stroke="#000" stroke-width="3.0"/>
<line x1="999.12" y1="1050.10" x2="999.12" y2="1061.10" stroke="#000" stroke-width="3.0"/>
<line x1="1171.56" y1="1050.10" x2="1171.56" y2="1061.10" stroke="#000" stroke-width="3.0"/>
<line x1="1344.00" y1="1050.10" x2="1344.00" y2="1061.10" stroke="#000" stroke-width="3.0"/>
<line x1="912.91" y1="1050.10" x2="912.91" y2="1056.10" stroke="#000" stroke-width="3.0"/>
<line x1="1085.34" y1="1050.10" x2="1085.34" y2="1056.10" stroke="#000" stroke-width="3.0"/>
<line x1="1257.78" y1="1050.10" x2="1257.78" y2="1056.10" stroke="#000" stroke-width="3.0"/>
<line x1="793.20" y1="1050.10" x2="784.20" y2="1050.10" stroke="#000" stroke-width="3.0"/>
<line x1="793.20" y1="903.63" x2="784.20" y2="903.63" stroke="#000" stroke-width="3.0"/>
<line x1="793.20" y1="757.17" x2="784.20" y2="757.17" stroke="#000" stroke-width="3.0"/>
<line x1="793.20" y1="610.70" x2="784.20" y2="610.70" stroke="#000" stroke-width="3.0"/>
<line x1="793.20" y1="976.87" x2="787.70" y2="976.87" stroke="#000" stroke-width="3.0"/>
<line x1="793.20" y1="830.40" x2="787.70" y2="830.40" stroke="#000" stroke-width="3.0"/>
<line x1="793.20" y1="683.94" x2="787.70" y2="683.94" stroke="#000" stroke-width="3.0"/>
<line x1="1344.00" y1="1050.10" x2="1348.00" y2="1050.10" stroke="#000" stroke-width="3.0"/>
<line x1="1344.00" y1="976.87" x2="1348.00" y2="976.87" stroke="#000" stroke-width="3.0"/>
<line x1="1344.00" y1="903.63" x2="1348.00" y2="903.63" stroke="#000" stroke-width="3.0"/>
<line x1="1344.00" y1="830.40" x2="1348.00" y2="830.40" stroke="#000" stroke-width="3.0"/>
<line x1="1344.00" y1="757.17" x2="1348.00" y2="757.17" stroke="#000" stroke-width="3.0"/>
<line x1="1344.00" y1="683.94" x2="1348.00" y2="683.94" stroke="#000" stroke-width="3.0"/>
<line x1="1344.00" y1="610.70" x2="1348.00" y2="610.70" stroke="#000" stroke-width="3.0"/>
<text transform="translate(762.36,1057.10) scale(1.0600,1)" font-size="25.16">0</text>
<text transform="translate(732.69,910.63) scale(1.0600,1)" font-size="25.16">500</text>
<text transform="translate(717.89,764.17) scale(1.0600,1)" font-size="25.16">1000</text>
<text transform="translate(717.89,617.70) scale(1.0600,1)" font-size="25.16">1500</text>
<text transform="translate(804.58,1085.30) scale(1.0600,1)" font-size="25.16">500</text>
<text transform="translate(969.19,1085.30) scale(1.0600,1)" font-size="25.16">1000</text>
<text transform="translate(1141.62,1085.30) scale(1.0600,1)" font-size="25.16">1500</text>
<text transform="translate(1314.43,1085.30) scale(1.0600,1)" font-size="25.16">2000</text>
<text transform="translate(978.45,1135.25) scale(0.9662,1)" font-size="34.98" fill="#000">Channel No.</text>
<text transform="translate(709.55,986.30) rotate(-90) scale(0.9126,1)" font-size="38.91" fill="#000">RBS counts (a.u.)</text>
<rect x="937.4" y="618.9" width="353.10" height="95.50" fill="#fff" stroke="#666" stroke-width="1.6"/>
<line x1="964.1" y1="656.9" x2="1036" y2="656.9" stroke="#000" stroke-width="5.0" stroke-linecap="round"/>
<line x1="966.5" y1="696.7" x2="1019.4" y2="696.7" stroke="#f00" stroke-width="5.0" stroke-linecap="round" stroke-dasharray="14.3 24.3"/>
<text transform="translate(1042.29,667.65) scale(0.9597,1)" font-size="26.84" fill="#000">1x10</text>
<text transform="translate(1100.57,648.95) scale(1.0966,1)" font-size="23.78" fill="#000">15</text>
<text transform="translate(1128.46,667.63) scale(1.0569,1)" font-size="25.42" fill="#000">(2 nm)</text>
<text transform="translate(1042.71,706.25) scale(1.0392,1)" font-size="25.30" fill="#000">SIMNRA simulated</text>
<text transform="translate(814.64,657.53) scale(0.9537,1)" font-size="55.76" fill="#000">(e)</text>
<text transform="translate(1261.43,786.75) scale(1.0468,1)" font-size="29.60" fill="#000">Au</text>
<line x1="1513.0" y1="941.6" x2="1999.9" y2="638.4" stroke="#f00" stroke-width="4" stroke-dasharray="8.5 9" stroke-linecap="round"/>
<line x1="1513.0" y1="1022.2" x2="1999.9" y2="1007.5" stroke="#f00" stroke-width="4.2" stroke-dasharray="0.6 6.4" stroke-linecap="round"/>
<rect x="1506.0" y="938.5" width="14" height="14" fill="#000"/>
<rect x="1668.3" y="823.3" width="14" height="14" fill="#000"/>
<rect x="1992.9" y="633.7" width="14" height="14" fill="#000"/>
<ellipse cx="1513.0" cy="1025.0" rx="8" ry="8.8" fill="#f00"/>
<ellipse cx="1675.3" cy="1013.4" rx="8" ry="8.8" fill="#f00"/>
<ellipse cx="1999.9" cy="1008.2" rx="8" ry="8.8" fill="#f00"/>
<rect x="1472.7" y="595.3" width="567.80" height="454.20" fill="none" stroke="#000" stroke-width="3.3"/>
<line x1="1513.03" y1="1049.50" x2="1513.03" y2="1061.50" stroke="#000" stroke-width="3.0"/>
<line x1="1594.18" y1="1049.50" x2="1594.18" y2="1061.50" stroke="#000" stroke-width="3.0"/>
<line x1="1675.33" y1="1049.50" x2="1675.33" y2="1061.50" stroke="#000" stroke-width="3.0"/>
<line x1="1756.48" y1="1049.50" x2="1756.48" y2="1061.50" stroke="#000" stroke-width="3.0"/>
<line x1="1837.63" y1="1049.50" x2="1837.63" y2="1061.50" stroke="#000" stroke-width="3.0"/>
<line x1="1918.78" y1="1049.50" x2="1918.78" y2="1061.50" stroke="#000" stroke-width="3.0"/>
<line x1="1999.93" y1="1049.50" x2="1999.93" y2="1061.50" stroke="#000" stroke-width="3.0"/>
<line x1="1553.61" y1="1049.50" x2="1553.61" y2="1056.50" stroke="#000" stroke-width="3.0"/>
<line x1="1634.75" y1="1049.50" x2="1634.75" y2="1056.50" stroke="#000" stroke-width="3.0"/>
<line x1="1715.90" y1="1049.50" x2="1715.90" y2="1056.50" stroke="#000" stroke-width="3.0"/>
<line x1="1797.05" y1="1049.50" x2="1797.05" y2="1056.50" stroke="#000" stroke-width="3.0"/>
<line x1="1878.20" y1="1049.50" x2="1878.20" y2="1056.50" stroke="#000" stroke-width="3.0"/>
<line x1="1959.35" y1="1049.50" x2="1959.35" y2="1056.50" stroke="#000" stroke-width="3.0"/>
<line x1="1472.70" y1="1049.50" x2="1462.70" y2="1049.50" stroke="#000" stroke-width="3.0"/>
<line x1="1472.70" y1="1004.08" x2="1462.70" y2="1004.08" stroke="#000" stroke-width="3.0"/>
<line x1="1472.70" y1="958.66" x2="1462.70" y2="958.66" stroke="#000" stroke-width="3.0"/>
<line x1="1472.70" y1="913.24" x2="1462.70" y2="913.24" stroke="#000" stroke-width="3.0"/>
<line x1="1472.70" y1="867.82" x2="1462.70" y2="867.82" stroke="#000" stroke-width="3.0"/>
<line x1="1472.70" y1="822.40" x2="1462.70" y2="822.40" stroke="#000" stroke-width="3.0"/>
<line x1="1472.70" y1="776.98" x2="1462.70" y2="776.98" stroke="#000" stroke-width="3.0"/>
<line x1="1472.70" y1="731.56" x2="1462.70" y2="731.56" stroke="#000" stroke-width="3.0"/>
<line x1="1472.70" y1="686.14" x2="1462.70" y2="686.14" stroke="#000" stroke-width="3.0"/>
<line x1="1472.70" y1="640.72" x2="1462.70" y2="640.72" stroke="#000" stroke-width="3.0"/>
<line x1="1472.70" y1="595.30" x2="1462.70" y2="595.30" stroke="#000" stroke-width="3.0"/>
<line x1="1472.70" y1="1026.79" x2="1467.20" y2="1026.79" stroke="#000" stroke-width="3.0"/>
<line x1="1472.70" y1="981.37" x2="1467.20" y2="981.37" stroke="#000" stroke-width="3.0"/>
<line x1="1472.70" y1="935.95" x2="1467.20" y2="935.95" stroke="#000" stroke-width="3.0"/>
<line x1="1472.70" y1="890.53" x2="1467.20" y2="890.53" stroke="#000" stroke-width="3.0"/>
<line x1="1472.70" y1="845.11" x2="1467.20" y2="845.11" stroke="#000" stroke-width="3.0"/>
<line x1="1472.70" y1="799.69" x2="1467.20" y2="799.69" stroke="#000" stroke-width="3.0"/>
<line x1="1472.70" y1="754.27" x2="1467.20" y2="754.27" stroke="#000" stroke-width="3.0"/>
<line x1="1472.70" y1="708.85" x2="1467.20" y2="708.85" stroke="#000" stroke-width="3.0"/>
<line x1="1472.70" y1="663.43" x2="1467.20" y2="663.43" stroke="#000" stroke-width="3.0"/>
<line x1="1472.70" y1="618.01" x2="1467.20" y2="618.01" stroke="#000" stroke-width="3.0"/>
<line x1="2040.50" y1="1049.50" x2="2032.50" y2="1049.50" stroke="#000" stroke-width="3.0"/>
<line x1="2040.50" y1="1004.08" x2="2032.50" y2="1004.08" stroke="#000" stroke-width="3.0"/>
<line x1="2040.50" y1="958.66" x2="2032.50" y2="958.66" stroke="#000" stroke-width="3.0"/>
<line x1="2040.50" y1="913.24" x2="2032.50" y2="913.24" stroke="#000" stroke-width="3.0"/>
<line x1="2040.50" y1="867.82" x2="2032.50" y2="867.82" stroke="#000" stroke-width="3.0"/>
<line x1="2040.50" y1="822.40" x2="2032.50" y2="822.40" stroke="#000" stroke-width="3.0"/>
<line x1="2040.50" y1="776.98" x2="2032.50" y2="776.98" stroke="#000" stroke-width="3.0"/>
<line x1="2040.50" y1="731.56" x2="2032.50" y2="731.56" stroke="#000" stroke-width="3.0"/>
<line x1="2040.50" y1="686.14" x2="2032.50" y2="686.14" stroke="#000" stroke-width="3.0"/>
<line x1="2040.50" y1="640.72" x2="2032.50" y2="640.72" stroke="#000" stroke-width="3.0"/>
<line x1="2040.50" y1="595.30" x2="2032.50" y2="595.30" stroke="#000" stroke-width="3.0"/>
<line x1="2040.50" y1="1026.79" x2="2036.00" y2="1026.79" stroke="#000" stroke-width="3.0"/>
<line x1="2040.50" y1="981.37" x2="2036.00" y2="981.37" stroke="#000" stroke-width="3.0"/>
<line x1="2040.50" y1="935.95" x2="2036.00" y2="935.95" stroke="#000" stroke-width="3.0"/>
<line x1="2040.50" y1="890.53" x2="2036.00" y2="890.53" stroke="#000" stroke-width="3.0"/>
<line x1="2040.50" y1="845.11" x2="2036.00" y2="845.11" stroke="#000" stroke-width="3.0"/>
<line x1="2040.50" y1="799.69" x2="2036.00" y2="799.69" stroke="#000" stroke-width="3.0"/>
<line x1="2040.50" y1="754.27" x2="2036.00" y2="754.27" stroke="#000" stroke-width="3.0"/>
<line x1="2040.50" y1="708.85" x2="2036.00" y2="708.85" stroke="#000" stroke-width="3.0"/>
<line x1="2040.50" y1="663.43" x2="2036.00" y2="663.43" stroke="#000" stroke-width="3.0"/>
<line x1="2040.50" y1="618.01" x2="2036.00" y2="618.01" stroke="#000" stroke-width="3.0"/>
<line x1="1513.03" y1="595.30" x2="1513.03" y2="605.30" stroke="#000" stroke-width="3.0"/>
<line x1="1594.18" y1="595.30" x2="1594.18" y2="605.30" stroke="#000" stroke-width="3.0"/>
<line x1="1675.33" y1="595.30" x2="1675.33" y2="605.30" stroke="#000" stroke-width="3.0"/>
<line x1="1756.48" y1="595.30" x2="1756.48" y2="605.30" stroke="#000" stroke-width="3.0"/>
<line x1="1837.63" y1="595.30" x2="1837.63" y2="605.30" stroke="#000" stroke-width="3.0"/>
<line x1="1918.78" y1="595.30" x2="1918.78" y2="605.30" stroke="#000" stroke-width="3.0"/>
<line x1="1999.93" y1="595.30" x2="1999.93" y2="605.30" stroke="#000" stroke-width="3.0"/>
<line x1="1553.61" y1="595.30" x2="1553.61" y2="601.30" stroke="#000" stroke-width="3.0"/>
<line x1="1634.75" y1="595.30" x2="1634.75" y2="601.30" stroke="#000" stroke-width="3.0"/>
<line x1="1715.90" y1="595.30" x2="1715.90" y2="601.30" stroke="#000" stroke-width="3.0"/>
<line x1="1797.05" y1="595.30" x2="1797.05" y2="601.30" stroke="#000" stroke-width="3.0"/>
<line x1="1878.20" y1="595.30" x2="1878.20" y2="601.30" stroke="#000" stroke-width="3.0"/>
<line x1="1959.35" y1="595.30" x2="1959.35" y2="601.30" stroke="#000" stroke-width="3.0"/>
<text transform="translate(1444.56,1058.10) scale(1.0600,1)" font-size="25.16">0</text>
<text transform="translate(1444.56,1012.39) scale(1.0600,1)" font-size="25.16">2</text>
<text transform="translate(1443.63,966.68) scale(1.0600,1)" font-size="25.16">4</text>
<text transform="translate(1444.43,920.97) scale(1.0600,1)" font-size="25.16">6</text>
<text transform="translate(1444.30,875.26) scale(1.0600,1)" font-size="25.16">8</text>
<text transform="translate(1429.76,829.55) scale(1.0600,1)" font-size="25.16">10</text>
<text transform="translate(1429.76,783.84) scale(1.0600,1)" font-size="25.16">12</text>
<text transform="translate(1428.83,738.13) scale(1.0600,1)" font-size="25.16">14</text>
<text transform="translate(1429.63,692.42) scale(1.0600,1)" font-size="25.16">16</text>
<text transform="translate(1429.50,646.71) scale(1.0600,1)" font-size="25.16">18</text>
<text transform="translate(1429.76,601.00) scale(1.0600,1)" font-size="25.16">20</text>
<text transform="translate(1493.46,1086.25) scale(1.0800,1)" font-size="26.16">2.0</text>
<text transform="translate(1574.43,1086.25) scale(1.0800,1)" font-size="26.16">2.5</text>
<text transform="translate(1655.94,1086.25) scale(1.0800,1)" font-size="26.16">3.0</text>
<text transform="translate(1736.91,1086.25) scale(1.0800,1)" font-size="26.16">3.5</text>
<text transform="translate(1818.34,1086.25) scale(1.0800,1)" font-size="26.16">4.0</text>
<text transform="translate(1899.31,1086.25) scale(1.0800,1)" font-size="26.16">4.5</text>
<text transform="translate(1980.43,1086.25) scale(1.0800,1)" font-size="26.16">5.0</text>
<text transform="translate(1586.41,1127.95) scale(1.0027,1)" font-size="32.36" fill="#000">Film thickness (nm)</text>
<text transform="translate(1407.75,1117.58) rotate(-90) scale(0.9183,1)" font-size="38.18" fill="#000">Au Areal conc. (x10</text>
<text transform="translate(1389.45,793.19) rotate(-90) scale(0.8501,1)" font-size="24.22" fill="#000">15</text>
<text transform="translate(1407.55,770.14) rotate(-90) scale(0.9260,1)" font-size="37.49" fill="#000">atoms/cm</text>
<text transform="translate(1389.75,607.79) rotate(-90) scale(0.9098,1)" font-size="24.73" fill="#000">2</text>
<text transform="translate(1407.36,593.18) rotate(-90) scale(0.8547,1)" font-size="36.35" fill="#000">)</text>
<rect x="1603.5" y="619" width="160.10" height="113.00" fill="#fff" stroke="#666" stroke-width="1.6"/>
<rect x="1629.4" y="656.6" width="14.4" height="14.4" fill="#000"/>
<ellipse cx="1636.6" cy="716.2" rx="8.3" ry="9" fill="#f00"/>
<text transform="translate(1666.57,670.65) scale(0.9460,1)" font-size="34.25" fill="#000">1x10</text>
<text transform="translate(1738.31,650.35) scale(1.0020,1)" font-size="18.98" fill="#000">15</text>
<text transform="translate(1666.57,723.25) scale(0.9187,1)" font-size="35.27" fill="#000">1x10</text>
<text transform="translate(1738.30,702.85) scale(1.0094,1)" font-size="18.98" fill="#000">16</text>
<text transform="translate(1489.60,659.54) scale(0.9974,1)" font-size="56.19" fill="#000">(f)</text></svg>
</body></html>
